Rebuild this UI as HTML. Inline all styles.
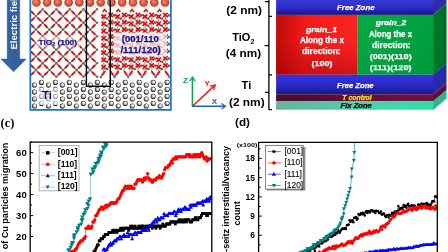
<!DOCTYPE html><html><head><meta charset="utf-8"><title>figure</title><style>html,body{margin:0;padding:0;background:#fff}svg{display:block}text{font-family:"Liberation Sans",sans-serif}</style></head><body>
<svg width="448" height="252" viewBox="0 0 448 252">
<defs>
<radialGradient id="cu" cx="50%" cy="50%" r="50%" fx="40%" fy="36%"><stop offset="0" stop-color="#f8ae98"/><stop offset="0.3" stop-color="#ea6e52"/><stop offset="0.75" stop-color="#d4503a"/><stop offset="1" stop-color="#a83222"/></radialGradient>
<radialGradient id="ti" cx="50%" cy="50%" r="50%" fx="66%" fy="34%"><stop offset="0" stop-color="#ffffff"/><stop offset="0.25" stop-color="#f4f4f4"/><stop offset="0.55" stop-color="#b8b8b8"/><stop offset="0.8" stop-color="#5c5c5c"/><stop offset="0.94" stop-color="#1e1e1e"/><stop offset="1" stop-color="#161616"/></radialGradient>
<linearGradient id="arr" x1="0" x2="1" y1="0" y2="0"><stop offset="0" stop-color="#3965a8"/><stop offset="1" stop-color="#315c9c"/></linearGradient>
<linearGradient id="blueF" x1="0" x2="0" y1="0" y2="1"><stop offset="0" stop-color="#3a3ad8"/><stop offset="0.6" stop-color="#2a2ac0"/><stop offset="1" stop-color="#14147a"/></linearGradient>
<linearGradient id="blueF2" x1="0" x2="0" y1="0" y2="1"><stop offset="0" stop-color="#3434e0"/><stop offset="0.55" stop-color="#2a2ac4"/><stop offset="1" stop-color="#181888"/></linearGradient>
<linearGradient id="redF" x1="0" x2="1" y1="0" y2="0"><stop offset="0" stop-color="#f01616"/><stop offset="1" stop-color="#fb2222"/></linearGradient><linearGradient id="redL" x1="0" x2="1" y1="0" y2="0"><stop offset="0" stop-color="#8a0000" stop-opacity="0.5"/><stop offset="0.35" stop-color="#8a0000" stop-opacity="0"/></linearGradient><linearGradient id="redB" x1="0" x2="0" y1="0" y2="1"><stop offset="0.45" stop-color="#8a0000" stop-opacity="0"/><stop offset="1" stop-color="#8a0000" stop-opacity="0.4"/></linearGradient>
<linearGradient id="grnF" x1="0" x2="1" y1="0" y2="1"><stop offset="0" stop-color="#06a845"/><stop offset="1" stop-color="#009a3a"/></linearGradient>
<linearGradient id="marF" x1="0" x2="1" y1="0" y2="0"><stop offset="0" stop-color="#4a0a2c"/><stop offset="1" stop-color="#6e1444"/></linearGradient>
<linearGradient id="tealF" x1="0" x2="1" y1="0" y2="0"><stop offset="0" stop-color="#66b29c"/><stop offset="0.5" stop-color="#4fd0a8"/><stop offset="1" stop-color="#2ee0a4"/></linearGradient>
<linearGradient id="grnS" x1="0" x2="1" y1="0" y2="0"><stop offset="0" stop-color="#007c2c"/><stop offset="1" stop-color="#006a22"/></linearGradient>
<clipPath id="pa"><rect x="30.5" y="0" width="140" height="110"/></clipPath>
<clipPath id="pc"><rect x="30.5" y="142" width="181.5" height="110"/></clipPath>
<clipPath id="pd"><rect x="259" y="142.5" width="178" height="110"/></clipPath>
</defs>
<polygon points="7.2,-1 19.7,-1 19.7,59.1 26.2,59.1 13.5,71.7 0.9,59.1 7.2,59.1" fill="url(#arr)" stroke="#2a5592" stroke-width="0.5"/>
<text transform="translate(16.8,49.6) rotate(-90)" font-size="9.5" font-weight="bold" fill="#fff" textLength="57.2" lengthAdjust="spacingAndGlyphs">Electric field</text>
<g clip-path="url(#pa)">
<line x1="29.1" y1="9.3" x2="22.3" y2="16.1" stroke="#8a8a8a" stroke-width="1.1"/>
<line x1="26.9" y1="11.5" x2="24.6" y2="13.8" stroke="#e00c0c" stroke-width="1.9" stroke-linecap="round"/>
<line x1="29.1" y1="9.3" x2="35.9" y2="16.1" stroke="#8a8a8a" stroke-width="1.1"/>
<line x1="31.4" y1="11.5" x2="33.7" y2="13.8" stroke="#e00c0c" stroke-width="1.9" stroke-linecap="round"/>
<line x1="42.7" y1="9.3" x2="35.9" y2="16.1" stroke="#8a8a8a" stroke-width="1.1"/>
<line x1="40.5" y1="11.5" x2="38.2" y2="13.8" stroke="#e00c0c" stroke-width="1.9" stroke-linecap="round"/>
<line x1="42.7" y1="9.3" x2="49.5" y2="16.1" stroke="#8a8a8a" stroke-width="1.1"/>
<line x1="44.9" y1="11.5" x2="47.2" y2="13.8" stroke="#e00c0c" stroke-width="1.9" stroke-linecap="round"/>
<line x1="56.3" y1="9.3" x2="49.5" y2="16.1" stroke="#8a8a8a" stroke-width="1.1"/>
<line x1="54.0" y1="11.5" x2="51.7" y2="13.8" stroke="#e00c0c" stroke-width="1.9" stroke-linecap="round"/>
<line x1="56.3" y1="9.3" x2="63.1" y2="16.1" stroke="#8a8a8a" stroke-width="1.1"/>
<line x1="58.5" y1="11.5" x2="60.8" y2="13.8" stroke="#e00c0c" stroke-width="1.9" stroke-linecap="round"/>
<line x1="69.8" y1="9.3" x2="63.1" y2="16.1" stroke="#8a8a8a" stroke-width="1.1"/>
<line x1="67.6" y1="11.5" x2="65.3" y2="13.8" stroke="#e00c0c" stroke-width="1.9" stroke-linecap="round"/>
<line x1="69.8" y1="9.3" x2="76.6" y2="16.1" stroke="#8a8a8a" stroke-width="1.1"/>
<line x1="72.1" y1="11.5" x2="74.4" y2="13.8" stroke="#e00c0c" stroke-width="1.9" stroke-linecap="round"/>
<line x1="83.4" y1="9.3" x2="76.6" y2="16.1" stroke="#8a8a8a" stroke-width="1.1"/>
<line x1="81.2" y1="11.5" x2="78.9" y2="13.8" stroke="#e00c0c" stroke-width="1.9" stroke-linecap="round"/>
<line x1="83.4" y1="9.3" x2="90.2" y2="16.1" stroke="#8a8a8a" stroke-width="1.1"/>
<line x1="85.6" y1="11.5" x2="88.0" y2="13.8" stroke="#e00c0c" stroke-width="1.9" stroke-linecap="round"/>
<line x1="97.0" y1="9.3" x2="90.2" y2="16.1" stroke="#8a8a8a" stroke-width="1.1"/>
<line x1="94.7" y1="11.5" x2="92.4" y2="13.8" stroke="#e00c0c" stroke-width="1.9" stroke-linecap="round"/>
<line x1="22.3" y1="16.1" x2="15.5" y2="22.8" stroke="#8a8a8a" stroke-width="1.1"/>
<line x1="20.1" y1="18.3" x2="17.8" y2="20.6" stroke="#e00c0c" stroke-width="1.9" stroke-linecap="round"/>
<line x1="22.3" y1="16.1" x2="29.1" y2="22.8" stroke="#8a8a8a" stroke-width="1.1"/>
<line x1="24.6" y1="18.3" x2="26.9" y2="20.6" stroke="#e00c0c" stroke-width="1.9" stroke-linecap="round"/>
<line x1="35.9" y1="16.1" x2="29.1" y2="22.8" stroke="#8a8a8a" stroke-width="1.1"/>
<line x1="33.7" y1="18.3" x2="31.4" y2="20.6" stroke="#e00c0c" stroke-width="1.9" stroke-linecap="round"/>
<line x1="35.9" y1="16.1" x2="42.7" y2="22.8" stroke="#8a8a8a" stroke-width="1.1"/>
<line x1="38.1" y1="18.3" x2="40.4" y2="20.6" stroke="#e00c0c" stroke-width="1.9" stroke-linecap="round"/>
<line x1="49.5" y1="16.1" x2="42.7" y2="22.8" stroke="#8a8a8a" stroke-width="1.1"/>
<line x1="47.2" y1="18.3" x2="44.9" y2="20.6" stroke="#e00c0c" stroke-width="1.9" stroke-linecap="round"/>
<line x1="49.5" y1="16.1" x2="56.3" y2="22.8" stroke="#8a8a8a" stroke-width="1.1"/>
<line x1="51.7" y1="18.3" x2="54.0" y2="20.6" stroke="#e00c0c" stroke-width="1.9" stroke-linecap="round"/>
<line x1="63.0" y1="16.1" x2="56.3" y2="22.8" stroke="#8a8a8a" stroke-width="1.1"/>
<line x1="60.8" y1="18.3" x2="58.5" y2="20.6" stroke="#e00c0c" stroke-width="1.9" stroke-linecap="round"/>
<line x1="63.0" y1="16.1" x2="69.8" y2="22.8" stroke="#8a8a8a" stroke-width="1.1"/>
<line x1="65.3" y1="18.3" x2="67.6" y2="20.6" stroke="#e00c0c" stroke-width="1.9" stroke-linecap="round"/>
<line x1="76.6" y1="16.1" x2="69.8" y2="22.8" stroke="#8a8a8a" stroke-width="1.1"/>
<line x1="74.4" y1="18.3" x2="72.1" y2="20.6" stroke="#e00c0c" stroke-width="1.9" stroke-linecap="round"/>
<line x1="76.6" y1="16.1" x2="83.4" y2="22.8" stroke="#8a8a8a" stroke-width="1.1"/>
<line x1="78.8" y1="18.3" x2="81.2" y2="20.6" stroke="#e00c0c" stroke-width="1.9" stroke-linecap="round"/>
<line x1="90.2" y1="16.1" x2="83.4" y2="22.8" stroke="#8a8a8a" stroke-width="1.1"/>
<line x1="87.9" y1="18.3" x2="85.6" y2="20.6" stroke="#e00c0c" stroke-width="1.9" stroke-linecap="round"/>
<line x1="90.2" y1="16.1" x2="97.0" y2="22.8" stroke="#8a8a8a" stroke-width="1.1"/>
<line x1="92.4" y1="18.3" x2="94.7" y2="20.6" stroke="#e00c0c" stroke-width="1.9" stroke-linecap="round"/>
<line x1="29.1" y1="22.8" x2="22.3" y2="29.6" stroke="#8a8a8a" stroke-width="1.1"/>
<line x1="26.9" y1="25.0" x2="24.6" y2="27.3" stroke="#e00c0c" stroke-width="1.9" stroke-linecap="round"/>
<line x1="29.1" y1="22.8" x2="35.9" y2="29.6" stroke="#8a8a8a" stroke-width="1.1"/>
<line x1="31.4" y1="25.0" x2="33.7" y2="27.3" stroke="#e00c0c" stroke-width="1.9" stroke-linecap="round"/>
<line x1="42.7" y1="22.8" x2="35.9" y2="29.6" stroke="#8a8a8a" stroke-width="1.1"/>
<line x1="40.5" y1="25.0" x2="38.2" y2="27.3" stroke="#e00c0c" stroke-width="1.9" stroke-linecap="round"/>
<line x1="42.7" y1="22.8" x2="49.5" y2="29.6" stroke="#8a8a8a" stroke-width="1.1"/>
<line x1="44.9" y1="25.0" x2="47.2" y2="27.3" stroke="#e00c0c" stroke-width="1.9" stroke-linecap="round"/>
<line x1="56.3" y1="22.8" x2="49.5" y2="29.6" stroke="#8a8a8a" stroke-width="1.1"/>
<line x1="54.0" y1="25.0" x2="51.7" y2="27.3" stroke="#e00c0c" stroke-width="1.9" stroke-linecap="round"/>
<line x1="56.3" y1="22.8" x2="63.1" y2="29.6" stroke="#8a8a8a" stroke-width="1.1"/>
<line x1="58.5" y1="25.0" x2="60.8" y2="27.3" stroke="#e00c0c" stroke-width="1.9" stroke-linecap="round"/>
<line x1="69.8" y1="22.8" x2="63.1" y2="29.6" stroke="#8a8a8a" stroke-width="1.1"/>
<line x1="67.6" y1="25.0" x2="65.3" y2="27.3" stroke="#e00c0c" stroke-width="1.9" stroke-linecap="round"/>
<line x1="69.8" y1="22.8" x2="76.6" y2="29.6" stroke="#8a8a8a" stroke-width="1.1"/>
<line x1="72.1" y1="25.0" x2="74.4" y2="27.3" stroke="#e00c0c" stroke-width="1.9" stroke-linecap="round"/>
<line x1="83.4" y1="22.8" x2="76.6" y2="29.6" stroke="#8a8a8a" stroke-width="1.1"/>
<line x1="81.2" y1="25.0" x2="78.9" y2="27.3" stroke="#e00c0c" stroke-width="1.9" stroke-linecap="round"/>
<line x1="83.4" y1="22.8" x2="90.2" y2="29.6" stroke="#8a8a8a" stroke-width="1.1"/>
<line x1="85.6" y1="25.0" x2="88.0" y2="27.3" stroke="#e00c0c" stroke-width="1.9" stroke-linecap="round"/>
<line x1="97.0" y1="22.8" x2="90.2" y2="29.6" stroke="#8a8a8a" stroke-width="1.1"/>
<line x1="94.7" y1="25.0" x2="92.4" y2="27.3" stroke="#e00c0c" stroke-width="1.9" stroke-linecap="round"/>
<line x1="22.3" y1="29.6" x2="15.5" y2="36.3" stroke="#8a8a8a" stroke-width="1.1"/>
<line x1="20.1" y1="31.8" x2="17.8" y2="34.1" stroke="#e00c0c" stroke-width="1.9" stroke-linecap="round"/>
<line x1="22.3" y1="29.6" x2="29.1" y2="36.3" stroke="#8a8a8a" stroke-width="1.1"/>
<line x1="24.6" y1="31.8" x2="26.9" y2="34.1" stroke="#e00c0c" stroke-width="1.9" stroke-linecap="round"/>
<line x1="35.9" y1="29.6" x2="29.1" y2="36.3" stroke="#8a8a8a" stroke-width="1.1"/>
<line x1="33.7" y1="31.8" x2="31.4" y2="34.1" stroke="#e00c0c" stroke-width="1.9" stroke-linecap="round"/>
<line x1="35.9" y1="29.6" x2="42.7" y2="36.3" stroke="#8a8a8a" stroke-width="1.1"/>
<line x1="38.1" y1="31.8" x2="40.4" y2="34.1" stroke="#e00c0c" stroke-width="1.9" stroke-linecap="round"/>
<line x1="49.5" y1="29.6" x2="42.7" y2="36.3" stroke="#8a8a8a" stroke-width="1.1"/>
<line x1="47.2" y1="31.8" x2="44.9" y2="34.1" stroke="#e00c0c" stroke-width="1.9" stroke-linecap="round"/>
<line x1="49.5" y1="29.6" x2="56.3" y2="36.3" stroke="#8a8a8a" stroke-width="1.1"/>
<line x1="51.7" y1="31.8" x2="54.0" y2="34.1" stroke="#e00c0c" stroke-width="1.9" stroke-linecap="round"/>
<line x1="63.0" y1="29.6" x2="56.3" y2="36.3" stroke="#8a8a8a" stroke-width="1.1"/>
<line x1="60.8" y1="31.8" x2="58.5" y2="34.1" stroke="#e00c0c" stroke-width="1.9" stroke-linecap="round"/>
<line x1="63.0" y1="29.6" x2="69.8" y2="36.3" stroke="#8a8a8a" stroke-width="1.1"/>
<line x1="65.3" y1="31.8" x2="67.6" y2="34.1" stroke="#e00c0c" stroke-width="1.9" stroke-linecap="round"/>
<line x1="76.6" y1="29.6" x2="69.8" y2="36.3" stroke="#8a8a8a" stroke-width="1.1"/>
<line x1="74.4" y1="31.8" x2="72.1" y2="34.1" stroke="#e00c0c" stroke-width="1.9" stroke-linecap="round"/>
<line x1="76.6" y1="29.6" x2="83.4" y2="36.3" stroke="#8a8a8a" stroke-width="1.1"/>
<line x1="78.8" y1="31.8" x2="81.2" y2="34.1" stroke="#e00c0c" stroke-width="1.9" stroke-linecap="round"/>
<line x1="90.2" y1="29.6" x2="83.4" y2="36.3" stroke="#8a8a8a" stroke-width="1.1"/>
<line x1="87.9" y1="31.8" x2="85.6" y2="34.1" stroke="#e00c0c" stroke-width="1.9" stroke-linecap="round"/>
<line x1="90.2" y1="29.6" x2="97.0" y2="36.3" stroke="#8a8a8a" stroke-width="1.1"/>
<line x1="92.4" y1="31.8" x2="94.7" y2="34.1" stroke="#e00c0c" stroke-width="1.9" stroke-linecap="round"/>
<line x1="29.1" y1="36.3" x2="22.3" y2="43.0" stroke="#8a8a8a" stroke-width="1.1"/>
<line x1="26.9" y1="38.5" x2="24.6" y2="40.8" stroke="#e00c0c" stroke-width="1.9" stroke-linecap="round"/>
<line x1="29.1" y1="36.3" x2="35.9" y2="43.0" stroke="#8a8a8a" stroke-width="1.1"/>
<line x1="31.4" y1="38.5" x2="33.7" y2="40.8" stroke="#e00c0c" stroke-width="1.9" stroke-linecap="round"/>
<line x1="42.7" y1="36.3" x2="35.9" y2="43.0" stroke="#8a8a8a" stroke-width="1.1"/>
<line x1="40.5" y1="38.5" x2="38.2" y2="40.8" stroke="#e00c0c" stroke-width="1.9" stroke-linecap="round"/>
<line x1="42.7" y1="36.3" x2="49.5" y2="43.0" stroke="#8a8a8a" stroke-width="1.1"/>
<line x1="44.9" y1="38.5" x2="47.2" y2="40.8" stroke="#e00c0c" stroke-width="1.9" stroke-linecap="round"/>
<line x1="56.3" y1="36.3" x2="49.5" y2="43.0" stroke="#8a8a8a" stroke-width="1.1"/>
<line x1="54.0" y1="38.5" x2="51.7" y2="40.8" stroke="#e00c0c" stroke-width="1.9" stroke-linecap="round"/>
<line x1="56.3" y1="36.3" x2="63.1" y2="43.0" stroke="#8a8a8a" stroke-width="1.1"/>
<line x1="58.5" y1="38.5" x2="60.8" y2="40.8" stroke="#e00c0c" stroke-width="1.9" stroke-linecap="round"/>
<line x1="69.8" y1="36.3" x2="63.1" y2="43.0" stroke="#8a8a8a" stroke-width="1.1"/>
<line x1="67.6" y1="38.5" x2="65.3" y2="40.8" stroke="#e00c0c" stroke-width="1.9" stroke-linecap="round"/>
<line x1="69.8" y1="36.3" x2="76.6" y2="43.0" stroke="#8a8a8a" stroke-width="1.1"/>
<line x1="72.1" y1="38.5" x2="74.4" y2="40.8" stroke="#e00c0c" stroke-width="1.9" stroke-linecap="round"/>
<line x1="83.4" y1="36.3" x2="76.6" y2="43.0" stroke="#8a8a8a" stroke-width="1.1"/>
<line x1="81.2" y1="38.5" x2="78.9" y2="40.8" stroke="#e00c0c" stroke-width="1.9" stroke-linecap="round"/>
<line x1="83.4" y1="36.3" x2="90.2" y2="43.0" stroke="#8a8a8a" stroke-width="1.1"/>
<line x1="85.6" y1="38.5" x2="88.0" y2="40.8" stroke="#e00c0c" stroke-width="1.9" stroke-linecap="round"/>
<line x1="97.0" y1="36.3" x2="90.2" y2="43.0" stroke="#8a8a8a" stroke-width="1.1"/>
<line x1="94.7" y1="38.5" x2="92.4" y2="40.8" stroke="#e00c0c" stroke-width="1.9" stroke-linecap="round"/>
<line x1="22.3" y1="43.0" x2="15.5" y2="49.8" stroke="#8a8a8a" stroke-width="1.1"/>
<line x1="20.1" y1="45.3" x2="17.8" y2="47.6" stroke="#e00c0c" stroke-width="1.9" stroke-linecap="round"/>
<line x1="22.3" y1="43.0" x2="29.1" y2="49.8" stroke="#8a8a8a" stroke-width="1.1"/>
<line x1="24.6" y1="45.3" x2="26.9" y2="47.6" stroke="#e00c0c" stroke-width="1.9" stroke-linecap="round"/>
<line x1="35.9" y1="43.0" x2="29.1" y2="49.8" stroke="#8a8a8a" stroke-width="1.1"/>
<line x1="33.7" y1="45.3" x2="31.4" y2="47.6" stroke="#e00c0c" stroke-width="1.9" stroke-linecap="round"/>
<line x1="35.9" y1="43.0" x2="42.7" y2="49.8" stroke="#8a8a8a" stroke-width="1.1"/>
<line x1="38.1" y1="45.3" x2="40.4" y2="47.6" stroke="#e00c0c" stroke-width="1.9" stroke-linecap="round"/>
<line x1="49.5" y1="43.0" x2="42.7" y2="49.8" stroke="#8a8a8a" stroke-width="1.1"/>
<line x1="47.2" y1="45.3" x2="44.9" y2="47.6" stroke="#e00c0c" stroke-width="1.9" stroke-linecap="round"/>
<line x1="49.5" y1="43.0" x2="56.3" y2="49.8" stroke="#8a8a8a" stroke-width="1.1"/>
<line x1="51.7" y1="45.3" x2="54.0" y2="47.6" stroke="#e00c0c" stroke-width="1.9" stroke-linecap="round"/>
<line x1="63.0" y1="43.0" x2="56.3" y2="49.8" stroke="#8a8a8a" stroke-width="1.1"/>
<line x1="60.8" y1="45.3" x2="58.5" y2="47.6" stroke="#e00c0c" stroke-width="1.9" stroke-linecap="round"/>
<line x1="63.0" y1="43.0" x2="69.8" y2="49.8" stroke="#8a8a8a" stroke-width="1.1"/>
<line x1="65.3" y1="45.3" x2="67.6" y2="47.6" stroke="#e00c0c" stroke-width="1.9" stroke-linecap="round"/>
<line x1="76.6" y1="43.0" x2="69.8" y2="49.8" stroke="#8a8a8a" stroke-width="1.1"/>
<line x1="74.4" y1="45.3" x2="72.1" y2="47.6" stroke="#e00c0c" stroke-width="1.9" stroke-linecap="round"/>
<line x1="76.6" y1="43.0" x2="83.4" y2="49.8" stroke="#8a8a8a" stroke-width="1.1"/>
<line x1="78.8" y1="45.3" x2="81.2" y2="47.6" stroke="#e00c0c" stroke-width="1.9" stroke-linecap="round"/>
<line x1="90.2" y1="43.0" x2="83.4" y2="49.8" stroke="#8a8a8a" stroke-width="1.1"/>
<line x1="87.9" y1="45.3" x2="85.6" y2="47.6" stroke="#e00c0c" stroke-width="1.9" stroke-linecap="round"/>
<line x1="90.2" y1="43.0" x2="97.0" y2="49.8" stroke="#8a8a8a" stroke-width="1.1"/>
<line x1="92.4" y1="45.3" x2="94.7" y2="47.6" stroke="#e00c0c" stroke-width="1.9" stroke-linecap="round"/>
<line x1="29.1" y1="49.8" x2="22.3" y2="56.5" stroke="#8a8a8a" stroke-width="1.1"/>
<line x1="26.9" y1="52.0" x2="24.6" y2="54.3" stroke="#e00c0c" stroke-width="1.9" stroke-linecap="round"/>
<line x1="29.1" y1="49.8" x2="35.9" y2="56.5" stroke="#8a8a8a" stroke-width="1.1"/>
<line x1="31.4" y1="52.0" x2="33.7" y2="54.3" stroke="#e00c0c" stroke-width="1.9" stroke-linecap="round"/>
<line x1="42.7" y1="49.8" x2="35.9" y2="56.5" stroke="#8a8a8a" stroke-width="1.1"/>
<line x1="40.5" y1="52.0" x2="38.2" y2="54.3" stroke="#e00c0c" stroke-width="1.9" stroke-linecap="round"/>
<line x1="42.7" y1="49.8" x2="49.5" y2="56.5" stroke="#8a8a8a" stroke-width="1.1"/>
<line x1="44.9" y1="52.0" x2="47.2" y2="54.3" stroke="#e00c0c" stroke-width="1.9" stroke-linecap="round"/>
<line x1="56.3" y1="49.8" x2="49.5" y2="56.5" stroke="#8a8a8a" stroke-width="1.1"/>
<line x1="54.0" y1="52.0" x2="51.7" y2="54.3" stroke="#e00c0c" stroke-width="1.9" stroke-linecap="round"/>
<line x1="56.3" y1="49.8" x2="63.1" y2="56.5" stroke="#8a8a8a" stroke-width="1.1"/>
<line x1="58.5" y1="52.0" x2="60.8" y2="54.3" stroke="#e00c0c" stroke-width="1.9" stroke-linecap="round"/>
<line x1="69.8" y1="49.8" x2="63.1" y2="56.5" stroke="#8a8a8a" stroke-width="1.1"/>
<line x1="67.6" y1="52.0" x2="65.3" y2="54.3" stroke="#e00c0c" stroke-width="1.9" stroke-linecap="round"/>
<line x1="69.8" y1="49.8" x2="76.6" y2="56.5" stroke="#8a8a8a" stroke-width="1.1"/>
<line x1="72.1" y1="52.0" x2="74.4" y2="54.3" stroke="#e00c0c" stroke-width="1.9" stroke-linecap="round"/>
<line x1="83.4" y1="49.8" x2="76.6" y2="56.5" stroke="#8a8a8a" stroke-width="1.1"/>
<line x1="81.2" y1="52.0" x2="78.9" y2="54.3" stroke="#e00c0c" stroke-width="1.9" stroke-linecap="round"/>
<line x1="83.4" y1="49.8" x2="90.2" y2="56.5" stroke="#8a8a8a" stroke-width="1.1"/>
<line x1="85.6" y1="52.0" x2="88.0" y2="54.3" stroke="#e00c0c" stroke-width="1.9" stroke-linecap="round"/>
<line x1="97.0" y1="49.8" x2="90.2" y2="56.5" stroke="#8a8a8a" stroke-width="1.1"/>
<line x1="94.7" y1="52.0" x2="92.4" y2="54.3" stroke="#e00c0c" stroke-width="1.9" stroke-linecap="round"/>
<line x1="22.3" y1="56.5" x2="15.5" y2="63.3" stroke="#8a8a8a" stroke-width="1.1"/>
<line x1="20.1" y1="58.8" x2="17.8" y2="61.1" stroke="#e00c0c" stroke-width="1.9" stroke-linecap="round"/>
<line x1="22.3" y1="56.5" x2="29.1" y2="63.3" stroke="#8a8a8a" stroke-width="1.1"/>
<line x1="24.6" y1="58.8" x2="26.9" y2="61.1" stroke="#e00c0c" stroke-width="1.9" stroke-linecap="round"/>
<line x1="35.9" y1="56.5" x2="29.1" y2="63.3" stroke="#8a8a8a" stroke-width="1.1"/>
<line x1="33.7" y1="58.8" x2="31.4" y2="61.1" stroke="#e00c0c" stroke-width="1.9" stroke-linecap="round"/>
<line x1="35.9" y1="56.5" x2="42.7" y2="63.3" stroke="#8a8a8a" stroke-width="1.1"/>
<line x1="38.1" y1="58.8" x2="40.4" y2="61.1" stroke="#e00c0c" stroke-width="1.9" stroke-linecap="round"/>
<line x1="49.5" y1="56.5" x2="42.7" y2="63.3" stroke="#8a8a8a" stroke-width="1.1"/>
<line x1="47.2" y1="58.8" x2="44.9" y2="61.1" stroke="#e00c0c" stroke-width="1.9" stroke-linecap="round"/>
<line x1="49.5" y1="56.5" x2="56.3" y2="63.3" stroke="#8a8a8a" stroke-width="1.1"/>
<line x1="51.7" y1="58.8" x2="54.0" y2="61.1" stroke="#e00c0c" stroke-width="1.9" stroke-linecap="round"/>
<line x1="63.0" y1="56.5" x2="56.3" y2="63.3" stroke="#8a8a8a" stroke-width="1.1"/>
<line x1="60.8" y1="58.8" x2="58.5" y2="61.1" stroke="#e00c0c" stroke-width="1.9" stroke-linecap="round"/>
<line x1="63.0" y1="56.5" x2="69.8" y2="63.3" stroke="#8a8a8a" stroke-width="1.1"/>
<line x1="65.3" y1="58.8" x2="67.6" y2="61.1" stroke="#e00c0c" stroke-width="1.9" stroke-linecap="round"/>
<line x1="76.6" y1="56.5" x2="69.8" y2="63.3" stroke="#8a8a8a" stroke-width="1.1"/>
<line x1="74.4" y1="58.8" x2="72.1" y2="61.1" stroke="#e00c0c" stroke-width="1.9" stroke-linecap="round"/>
<line x1="76.6" y1="56.5" x2="83.4" y2="63.3" stroke="#8a8a8a" stroke-width="1.1"/>
<line x1="78.8" y1="58.8" x2="81.2" y2="61.1" stroke="#e00c0c" stroke-width="1.9" stroke-linecap="round"/>
<line x1="90.2" y1="56.5" x2="83.4" y2="63.3" stroke="#8a8a8a" stroke-width="1.1"/>
<line x1="87.9" y1="58.8" x2="85.6" y2="61.1" stroke="#e00c0c" stroke-width="1.9" stroke-linecap="round"/>
<line x1="90.2" y1="56.5" x2="97.0" y2="63.3" stroke="#8a8a8a" stroke-width="1.1"/>
<line x1="92.4" y1="58.8" x2="94.7" y2="61.1" stroke="#e00c0c" stroke-width="1.9" stroke-linecap="round"/>
<line x1="29.1" y1="63.3" x2="22.3" y2="70.0" stroke="#8a8a8a" stroke-width="1.1"/>
<line x1="26.9" y1="65.5" x2="24.6" y2="67.8" stroke="#e00c0c" stroke-width="1.9" stroke-linecap="round"/>
<line x1="29.1" y1="63.3" x2="35.9" y2="70.0" stroke="#8a8a8a" stroke-width="1.1"/>
<line x1="31.4" y1="65.5" x2="33.7" y2="67.8" stroke="#e00c0c" stroke-width="1.9" stroke-linecap="round"/>
<line x1="42.7" y1="63.3" x2="35.9" y2="70.0" stroke="#8a8a8a" stroke-width="1.1"/>
<line x1="40.5" y1="65.5" x2="38.2" y2="67.8" stroke="#e00c0c" stroke-width="1.9" stroke-linecap="round"/>
<line x1="42.7" y1="63.3" x2="49.5" y2="70.0" stroke="#8a8a8a" stroke-width="1.1"/>
<line x1="44.9" y1="65.5" x2="47.2" y2="67.8" stroke="#e00c0c" stroke-width="1.9" stroke-linecap="round"/>
<line x1="56.3" y1="63.3" x2="49.5" y2="70.0" stroke="#8a8a8a" stroke-width="1.1"/>
<line x1="54.0" y1="65.5" x2="51.7" y2="67.8" stroke="#e00c0c" stroke-width="1.9" stroke-linecap="round"/>
<line x1="56.3" y1="63.3" x2="63.1" y2="70.0" stroke="#8a8a8a" stroke-width="1.1"/>
<line x1="58.5" y1="65.5" x2="60.8" y2="67.8" stroke="#e00c0c" stroke-width="1.9" stroke-linecap="round"/>
<line x1="69.8" y1="63.3" x2="63.1" y2="70.0" stroke="#8a8a8a" stroke-width="1.1"/>
<line x1="67.6" y1="65.5" x2="65.3" y2="67.8" stroke="#e00c0c" stroke-width="1.9" stroke-linecap="round"/>
<line x1="69.8" y1="63.3" x2="76.6" y2="70.0" stroke="#8a8a8a" stroke-width="1.1"/>
<line x1="72.1" y1="65.5" x2="74.4" y2="67.8" stroke="#e00c0c" stroke-width="1.9" stroke-linecap="round"/>
<line x1="83.4" y1="63.3" x2="76.6" y2="70.0" stroke="#8a8a8a" stroke-width="1.1"/>
<line x1="81.2" y1="65.5" x2="78.9" y2="67.8" stroke="#e00c0c" stroke-width="1.9" stroke-linecap="round"/>
<line x1="83.4" y1="63.3" x2="90.2" y2="70.0" stroke="#8a8a8a" stroke-width="1.1"/>
<line x1="85.6" y1="65.5" x2="88.0" y2="67.8" stroke="#e00c0c" stroke-width="1.9" stroke-linecap="round"/>
<line x1="97.0" y1="63.3" x2="90.2" y2="70.0" stroke="#8a8a8a" stroke-width="1.1"/>
<line x1="94.7" y1="65.5" x2="92.4" y2="67.8" stroke="#e00c0c" stroke-width="1.9" stroke-linecap="round"/>
<line x1="22.3" y1="70.0" x2="15.5" y2="76.8" stroke="#8a8a8a" stroke-width="1.1"/>
<line x1="20.1" y1="72.3" x2="17.8" y2="74.6" stroke="#e00c0c" stroke-width="1.9" stroke-linecap="round"/>
<line x1="22.3" y1="70.0" x2="29.1" y2="76.8" stroke="#8a8a8a" stroke-width="1.1"/>
<line x1="24.6" y1="72.3" x2="26.9" y2="74.6" stroke="#e00c0c" stroke-width="1.9" stroke-linecap="round"/>
<line x1="35.9" y1="70.0" x2="29.1" y2="76.8" stroke="#8a8a8a" stroke-width="1.1"/>
<line x1="33.7" y1="72.3" x2="31.4" y2="74.6" stroke="#e00c0c" stroke-width="1.9" stroke-linecap="round"/>
<line x1="35.9" y1="70.0" x2="42.7" y2="76.8" stroke="#8a8a8a" stroke-width="1.1"/>
<line x1="38.1" y1="72.3" x2="40.4" y2="74.6" stroke="#e00c0c" stroke-width="1.9" stroke-linecap="round"/>
<line x1="49.5" y1="70.0" x2="42.7" y2="76.8" stroke="#8a8a8a" stroke-width="1.1"/>
<line x1="47.2" y1="72.3" x2="44.9" y2="74.6" stroke="#e00c0c" stroke-width="1.9" stroke-linecap="round"/>
<line x1="49.5" y1="70.0" x2="56.3" y2="76.8" stroke="#8a8a8a" stroke-width="1.1"/>
<line x1="51.7" y1="72.3" x2="54.0" y2="74.6" stroke="#e00c0c" stroke-width="1.9" stroke-linecap="round"/>
<line x1="63.0" y1="70.0" x2="56.3" y2="76.8" stroke="#8a8a8a" stroke-width="1.1"/>
<line x1="60.8" y1="72.3" x2="58.5" y2="74.6" stroke="#e00c0c" stroke-width="1.9" stroke-linecap="round"/>
<line x1="63.0" y1="70.0" x2="69.8" y2="76.8" stroke="#8a8a8a" stroke-width="1.1"/>
<line x1="65.3" y1="72.3" x2="67.6" y2="74.6" stroke="#e00c0c" stroke-width="1.9" stroke-linecap="round"/>
<line x1="76.6" y1="70.0" x2="69.8" y2="76.8" stroke="#8a8a8a" stroke-width="1.1"/>
<line x1="74.4" y1="72.3" x2="72.1" y2="74.6" stroke="#e00c0c" stroke-width="1.9" stroke-linecap="round"/>
<line x1="76.6" y1="70.0" x2="83.4" y2="76.8" stroke="#8a8a8a" stroke-width="1.1"/>
<line x1="78.8" y1="72.3" x2="81.2" y2="74.6" stroke="#e00c0c" stroke-width="1.9" stroke-linecap="round"/>
<line x1="90.2" y1="70.0" x2="83.4" y2="76.8" stroke="#8a8a8a" stroke-width="1.1"/>
<line x1="87.9" y1="72.3" x2="85.6" y2="74.6" stroke="#e00c0c" stroke-width="1.9" stroke-linecap="round"/>
<line x1="90.2" y1="70.0" x2="97.0" y2="76.8" stroke="#8a8a8a" stroke-width="1.1"/>
<line x1="92.4" y1="72.3" x2="94.7" y2="74.6" stroke="#e00c0c" stroke-width="1.9" stroke-linecap="round"/>
<circle cx="29.1" cy="9.3" r="1.3" fill="#6e6e6e"/>
<circle cx="42.7" cy="9.3" r="1.3" fill="#6e6e6e"/>
<circle cx="56.3" cy="9.3" r="1.3" fill="#6e6e6e"/>
<circle cx="69.8" cy="9.3" r="1.3" fill="#6e6e6e"/>
<circle cx="83.4" cy="9.3" r="1.3" fill="#6e6e6e"/>
<circle cx="97.0" cy="9.3" r="1.3" fill="#6e6e6e"/>
<circle cx="22.3" cy="16.1" r="1.3" fill="#6e6e6e"/>
<circle cx="35.9" cy="16.1" r="1.3" fill="#6e6e6e"/>
<circle cx="49.5" cy="16.1" r="1.3" fill="#6e6e6e"/>
<circle cx="63.0" cy="16.1" r="1.3" fill="#6e6e6e"/>
<circle cx="76.6" cy="16.1" r="1.3" fill="#6e6e6e"/>
<circle cx="90.2" cy="16.1" r="1.3" fill="#6e6e6e"/>
<circle cx="29.1" cy="22.8" r="1.3" fill="#6e6e6e"/>
<circle cx="42.7" cy="22.8" r="1.3" fill="#6e6e6e"/>
<circle cx="56.3" cy="22.8" r="1.3" fill="#6e6e6e"/>
<circle cx="69.8" cy="22.8" r="1.3" fill="#6e6e6e"/>
<circle cx="83.4" cy="22.8" r="1.3" fill="#6e6e6e"/>
<circle cx="97.0" cy="22.8" r="1.3" fill="#6e6e6e"/>
<circle cx="22.3" cy="29.6" r="1.3" fill="#6e6e6e"/>
<circle cx="35.9" cy="29.6" r="1.3" fill="#6e6e6e"/>
<circle cx="49.5" cy="29.6" r="1.3" fill="#6e6e6e"/>
<circle cx="63.0" cy="29.6" r="1.3" fill="#6e6e6e"/>
<circle cx="76.6" cy="29.6" r="1.3" fill="#6e6e6e"/>
<circle cx="90.2" cy="29.6" r="1.3" fill="#6e6e6e"/>
<circle cx="29.1" cy="36.3" r="1.3" fill="#6e6e6e"/>
<circle cx="42.7" cy="36.3" r="1.3" fill="#6e6e6e"/>
<circle cx="56.3" cy="36.3" r="1.3" fill="#6e6e6e"/>
<circle cx="69.8" cy="36.3" r="1.3" fill="#6e6e6e"/>
<circle cx="83.4" cy="36.3" r="1.3" fill="#6e6e6e"/>
<circle cx="97.0" cy="36.3" r="1.3" fill="#6e6e6e"/>
<circle cx="22.3" cy="43.0" r="1.3" fill="#6e6e6e"/>
<circle cx="35.9" cy="43.0" r="1.3" fill="#6e6e6e"/>
<circle cx="49.5" cy="43.0" r="1.3" fill="#6e6e6e"/>
<circle cx="63.0" cy="43.0" r="1.3" fill="#6e6e6e"/>
<circle cx="76.6" cy="43.0" r="1.3" fill="#6e6e6e"/>
<circle cx="90.2" cy="43.0" r="1.3" fill="#6e6e6e"/>
<circle cx="29.1" cy="49.8" r="1.3" fill="#6e6e6e"/>
<circle cx="42.7" cy="49.8" r="1.3" fill="#6e6e6e"/>
<circle cx="56.3" cy="49.8" r="1.3" fill="#6e6e6e"/>
<circle cx="69.8" cy="49.8" r="1.3" fill="#6e6e6e"/>
<circle cx="83.4" cy="49.8" r="1.3" fill="#6e6e6e"/>
<circle cx="97.0" cy="49.8" r="1.3" fill="#6e6e6e"/>
<circle cx="22.3" cy="56.5" r="1.3" fill="#6e6e6e"/>
<circle cx="35.9" cy="56.5" r="1.3" fill="#6e6e6e"/>
<circle cx="49.5" cy="56.5" r="1.3" fill="#6e6e6e"/>
<circle cx="63.0" cy="56.5" r="1.3" fill="#6e6e6e"/>
<circle cx="76.6" cy="56.5" r="1.3" fill="#6e6e6e"/>
<circle cx="90.2" cy="56.5" r="1.3" fill="#6e6e6e"/>
<circle cx="29.1" cy="63.3" r="1.3" fill="#6e6e6e"/>
<circle cx="42.7" cy="63.3" r="1.3" fill="#6e6e6e"/>
<circle cx="56.3" cy="63.3" r="1.3" fill="#6e6e6e"/>
<circle cx="69.8" cy="63.3" r="1.3" fill="#6e6e6e"/>
<circle cx="83.4" cy="63.3" r="1.3" fill="#6e6e6e"/>
<circle cx="97.0" cy="63.3" r="1.3" fill="#6e6e6e"/>
<circle cx="22.3" cy="70.0" r="1.3" fill="#6e6e6e"/>
<circle cx="35.9" cy="70.0" r="1.3" fill="#6e6e6e"/>
<circle cx="49.5" cy="70.0" r="1.3" fill="#6e6e6e"/>
<circle cx="63.0" cy="70.0" r="1.3" fill="#6e6e6e"/>
<circle cx="76.6" cy="70.0" r="1.3" fill="#6e6e6e"/>
<circle cx="90.2" cy="70.0" r="1.3" fill="#6e6e6e"/>
<circle cx="29.1" cy="76.8" r="1.3" fill="#6e6e6e"/>
<circle cx="42.7" cy="76.8" r="1.3" fill="#6e6e6e"/>
<circle cx="56.3" cy="76.8" r="1.3" fill="#6e6e6e"/>
<circle cx="69.8" cy="76.8" r="1.3" fill="#6e6e6e"/>
<circle cx="83.4" cy="76.8" r="1.3" fill="#6e6e6e"/>
<circle cx="97.0" cy="76.8" r="1.3" fill="#6e6e6e"/>
<circle cx="107.1" cy="18.6" r="1.35" fill="#5e6868"/>
<line x1="103.7" y1="18.6" x2="103.7" y2="21.8" stroke="#98a4a4" stroke-width="1.2"/>
<path d="M101.4,14.5L106.0,18.7M101.4,18.7L106.0,14.5" stroke="#e20e0e" stroke-width="1.8" fill="none"/>
<circle cx="114.0" cy="15.4" r="1.35" fill="#5e6868"/>
<line x1="110.6" y1="17.0" x2="110.6" y2="20.2" stroke="#98a4a4" stroke-width="1.2"/>
<path d="M108.3,12.9L112.9,17.1M108.3,17.1L112.9,12.9" stroke="#e20e0e" stroke-width="1.8" fill="none"/>
<circle cx="120.9" cy="18.6" r="1.35" fill="#5e6868"/>
<line x1="117.4" y1="18.6" x2="117.4" y2="21.8" stroke="#98a4a4" stroke-width="1.2"/>
<path d="M115.1,14.5L119.7,18.7M115.1,18.7L119.7,14.5" stroke="#e20e0e" stroke-width="1.8" fill="none"/>
<circle cx="127.7" cy="15.4" r="1.35" fill="#5e6868"/>
<line x1="124.3" y1="17.0" x2="124.3" y2="20.2" stroke="#98a4a4" stroke-width="1.2"/>
<path d="M122.0,12.9L126.6,17.1M122.0,17.1L126.6,12.9" stroke="#e20e0e" stroke-width="1.8" fill="none"/>
<circle cx="134.6" cy="18.6" r="1.35" fill="#5e6868"/>
<line x1="131.1" y1="18.6" x2="131.1" y2="21.8" stroke="#98a4a4" stroke-width="1.2"/>
<path d="M128.8,14.5L133.4,18.7M128.8,18.7L133.4,14.5" stroke="#e20e0e" stroke-width="1.8" fill="none"/>
<circle cx="141.4" cy="15.4" r="1.35" fill="#5e6868"/>
<line x1="138.0" y1="17.0" x2="138.0" y2="20.2" stroke="#98a4a4" stroke-width="1.2"/>
<path d="M135.7,12.9L140.3,17.1M135.7,17.1L140.3,12.9" stroke="#e20e0e" stroke-width="1.8" fill="none"/>
<circle cx="148.3" cy="18.6" r="1.35" fill="#5e6868"/>
<line x1="144.9" y1="18.6" x2="144.9" y2="21.8" stroke="#98a4a4" stroke-width="1.2"/>
<path d="M142.6,14.5L147.2,18.7M142.6,18.7L147.2,14.5" stroke="#e20e0e" stroke-width="1.8" fill="none"/>
<circle cx="155.2" cy="15.4" r="1.35" fill="#5e6868"/>
<line x1="151.7" y1="17.0" x2="151.7" y2="20.2" stroke="#98a4a4" stroke-width="1.2"/>
<path d="M149.4,12.9L154.0,17.1M149.4,17.1L154.0,12.9" stroke="#e20e0e" stroke-width="1.8" fill="none"/>
<circle cx="162.0" cy="18.6" r="1.35" fill="#5e6868"/>
<line x1="158.6" y1="18.6" x2="158.6" y2="21.8" stroke="#98a4a4" stroke-width="1.2"/>
<path d="M156.3,14.5L160.9,18.7M156.3,18.7L160.9,14.5" stroke="#e20e0e" stroke-width="1.8" fill="none"/>
<circle cx="168.9" cy="15.4" r="1.35" fill="#5e6868"/>
<line x1="165.4" y1="17.0" x2="165.4" y2="20.2" stroke="#98a4a4" stroke-width="1.2"/>
<path d="M163.1,12.9L167.7,17.1M163.1,17.1L167.7,12.9" stroke="#e20e0e" stroke-width="1.8" fill="none"/>
<circle cx="107.1" cy="25.8" r="1.35" fill="#5e6868"/>
<line x1="103.7" y1="25.8" x2="103.7" y2="29.0" stroke="#98a4a4" stroke-width="1.2"/>
<path d="M101.4,21.7L106.0,25.9M101.4,25.9L106.0,21.7" stroke="#e20e0e" stroke-width="1.8" fill="none"/>
<circle cx="114.0" cy="22.6" r="1.35" fill="#5e6868"/>
<line x1="110.6" y1="24.2" x2="110.6" y2="27.4" stroke="#98a4a4" stroke-width="1.2"/>
<path d="M108.3,20.1L112.9,24.3M108.3,24.3L112.9,20.1" stroke="#e20e0e" stroke-width="1.8" fill="none"/>
<circle cx="120.9" cy="25.8" r="1.35" fill="#5e6868"/>
<line x1="117.4" y1="25.8" x2="117.4" y2="29.0" stroke="#98a4a4" stroke-width="1.2"/>
<path d="M115.1,21.7L119.7,25.9M115.1,25.9L119.7,21.7" stroke="#e20e0e" stroke-width="1.8" fill="none"/>
<circle cx="127.7" cy="22.6" r="1.35" fill="#5e6868"/>
<line x1="124.3" y1="24.2" x2="124.3" y2="27.4" stroke="#98a4a4" stroke-width="1.2"/>
<path d="M122.0,20.1L126.6,24.3M122.0,24.3L126.6,20.1" stroke="#e20e0e" stroke-width="1.8" fill="none"/>
<circle cx="134.6" cy="25.8" r="1.35" fill="#5e6868"/>
<line x1="131.1" y1="25.8" x2="131.1" y2="29.0" stroke="#98a4a4" stroke-width="1.2"/>
<path d="M128.8,21.7L133.4,25.9M128.8,25.9L133.4,21.7" stroke="#e20e0e" stroke-width="1.8" fill="none"/>
<circle cx="141.4" cy="22.6" r="1.35" fill="#5e6868"/>
<line x1="138.0" y1="24.2" x2="138.0" y2="27.4" stroke="#98a4a4" stroke-width="1.2"/>
<path d="M135.7,20.1L140.3,24.3M135.7,24.3L140.3,20.1" stroke="#e20e0e" stroke-width="1.8" fill="none"/>
<circle cx="148.3" cy="25.8" r="1.35" fill="#5e6868"/>
<line x1="144.9" y1="25.8" x2="144.9" y2="29.0" stroke="#98a4a4" stroke-width="1.2"/>
<path d="M142.6,21.7L147.2,25.9M142.6,25.9L147.2,21.7" stroke="#e20e0e" stroke-width="1.8" fill="none"/>
<circle cx="155.2" cy="22.6" r="1.35" fill="#5e6868"/>
<line x1="151.7" y1="24.2" x2="151.7" y2="27.4" stroke="#98a4a4" stroke-width="1.2"/>
<path d="M149.4,20.1L154.0,24.3M149.4,24.3L154.0,20.1" stroke="#e20e0e" stroke-width="1.8" fill="none"/>
<circle cx="162.0" cy="25.8" r="1.35" fill="#5e6868"/>
<line x1="158.6" y1="25.8" x2="158.6" y2="29.0" stroke="#98a4a4" stroke-width="1.2"/>
<path d="M156.3,21.7L160.9,25.9M156.3,25.9L160.9,21.7" stroke="#e20e0e" stroke-width="1.8" fill="none"/>
<circle cx="168.9" cy="22.6" r="1.35" fill="#5e6868"/>
<line x1="165.4" y1="24.2" x2="165.4" y2="27.4" stroke="#98a4a4" stroke-width="1.2"/>
<path d="M163.1,20.1L167.7,24.3M163.1,24.3L167.7,20.1" stroke="#e20e0e" stroke-width="1.8" fill="none"/>
<circle cx="107.1" cy="33.0" r="1.35" fill="#5e6868"/>
<line x1="103.7" y1="33.0" x2="103.7" y2="36.2" stroke="#98a4a4" stroke-width="1.2"/>
<path d="M101.4,28.9L106.0,33.1M101.4,33.1L106.0,28.9" stroke="#e20e0e" stroke-width="1.8" fill="none"/>
<circle cx="114.0" cy="29.8" r="1.35" fill="#5e6868"/>
<line x1="110.6" y1="31.4" x2="110.6" y2="34.6" stroke="#98a4a4" stroke-width="1.2"/>
<path d="M108.3,27.3L112.9,31.5M108.3,31.5L112.9,27.3" stroke="#e20e0e" stroke-width="1.8" fill="none"/>
<circle cx="120.9" cy="33.0" r="1.35" fill="#5e6868"/>
<line x1="117.4" y1="33.0" x2="117.4" y2="36.2" stroke="#98a4a4" stroke-width="1.2"/>
<path d="M115.1,28.9L119.7,33.1M115.1,33.1L119.7,28.9" stroke="#e20e0e" stroke-width="1.8" fill="none"/>
<circle cx="127.7" cy="29.8" r="1.35" fill="#5e6868"/>
<line x1="124.3" y1="31.4" x2="124.3" y2="34.6" stroke="#98a4a4" stroke-width="1.2"/>
<path d="M122.0,27.3L126.6,31.5M122.0,31.5L126.6,27.3" stroke="#e20e0e" stroke-width="1.8" fill="none"/>
<circle cx="134.6" cy="33.0" r="1.35" fill="#5e6868"/>
<line x1="131.1" y1="33.0" x2="131.1" y2="36.2" stroke="#98a4a4" stroke-width="1.2"/>
<path d="M128.8,28.9L133.4,33.1M128.8,33.1L133.4,28.9" stroke="#e20e0e" stroke-width="1.8" fill="none"/>
<circle cx="141.4" cy="29.8" r="1.35" fill="#5e6868"/>
<line x1="138.0" y1="31.4" x2="138.0" y2="34.6" stroke="#98a4a4" stroke-width="1.2"/>
<path d="M135.7,27.3L140.3,31.5M135.7,31.5L140.3,27.3" stroke="#e20e0e" stroke-width="1.8" fill="none"/>
<circle cx="148.3" cy="33.0" r="1.35" fill="#5e6868"/>
<line x1="144.9" y1="33.0" x2="144.9" y2="36.2" stroke="#98a4a4" stroke-width="1.2"/>
<path d="M142.6,28.9L147.2,33.1M142.6,33.1L147.2,28.9" stroke="#e20e0e" stroke-width="1.8" fill="none"/>
<circle cx="155.2" cy="29.8" r="1.35" fill="#5e6868"/>
<line x1="151.7" y1="31.4" x2="151.7" y2="34.6" stroke="#98a4a4" stroke-width="1.2"/>
<path d="M149.4,27.3L154.0,31.5M149.4,31.5L154.0,27.3" stroke="#e20e0e" stroke-width="1.8" fill="none"/>
<circle cx="162.0" cy="33.0" r="1.35" fill="#5e6868"/>
<line x1="158.6" y1="33.0" x2="158.6" y2="36.2" stroke="#98a4a4" stroke-width="1.2"/>
<path d="M156.3,28.9L160.9,33.1M156.3,33.1L160.9,28.9" stroke="#e20e0e" stroke-width="1.8" fill="none"/>
<circle cx="168.9" cy="29.8" r="1.35" fill="#5e6868"/>
<line x1="165.4" y1="31.4" x2="165.4" y2="34.6" stroke="#98a4a4" stroke-width="1.2"/>
<path d="M163.1,27.3L167.7,31.5M163.1,31.5L167.7,27.3" stroke="#e20e0e" stroke-width="1.8" fill="none"/>
<circle cx="107.1" cy="40.2" r="1.35" fill="#5e6868"/>
<line x1="103.7" y1="40.2" x2="103.7" y2="43.4" stroke="#98a4a4" stroke-width="1.2"/>
<path d="M101.4,36.1L106.0,40.3M101.4,40.3L106.0,36.1" stroke="#e20e0e" stroke-width="1.8" fill="none"/>
<circle cx="114.0" cy="37.0" r="1.35" fill="#5e6868"/>
<line x1="110.6" y1="38.6" x2="110.6" y2="41.8" stroke="#98a4a4" stroke-width="1.2"/>
<path d="M108.3,34.5L112.9,38.7M108.3,38.7L112.9,34.5" stroke="#e20e0e" stroke-width="1.8" fill="none"/>
<circle cx="120.9" cy="40.2" r="1.35" fill="#5e6868"/>
<line x1="117.4" y1="40.2" x2="117.4" y2="43.4" stroke="#98a4a4" stroke-width="1.2"/>
<path d="M115.1,36.1L119.7,40.3M115.1,40.3L119.7,36.1" stroke="#e20e0e" stroke-width="1.8" fill="none"/>
<circle cx="127.7" cy="37.0" r="1.35" fill="#5e6868"/>
<line x1="124.3" y1="38.6" x2="124.3" y2="41.8" stroke="#98a4a4" stroke-width="1.2"/>
<path d="M122.0,34.5L126.6,38.7M122.0,38.7L126.6,34.5" stroke="#e20e0e" stroke-width="1.8" fill="none"/>
<circle cx="134.6" cy="40.2" r="1.35" fill="#5e6868"/>
<line x1="131.1" y1="40.2" x2="131.1" y2="43.4" stroke="#98a4a4" stroke-width="1.2"/>
<path d="M128.8,36.1L133.4,40.3M128.8,40.3L133.4,36.1" stroke="#e20e0e" stroke-width="1.8" fill="none"/>
<circle cx="141.4" cy="37.0" r="1.35" fill="#5e6868"/>
<line x1="138.0" y1="38.6" x2="138.0" y2="41.8" stroke="#98a4a4" stroke-width="1.2"/>
<path d="M135.7,34.5L140.3,38.7M135.7,38.7L140.3,34.5" stroke="#e20e0e" stroke-width="1.8" fill="none"/>
<circle cx="148.3" cy="40.2" r="1.35" fill="#5e6868"/>
<line x1="144.9" y1="40.2" x2="144.9" y2="43.4" stroke="#98a4a4" stroke-width="1.2"/>
<path d="M142.6,36.1L147.2,40.3M142.6,40.3L147.2,36.1" stroke="#e20e0e" stroke-width="1.8" fill="none"/>
<circle cx="155.2" cy="37.0" r="1.35" fill="#5e6868"/>
<line x1="151.7" y1="38.6" x2="151.7" y2="41.8" stroke="#98a4a4" stroke-width="1.2"/>
<path d="M149.4,34.5L154.0,38.7M149.4,38.7L154.0,34.5" stroke="#e20e0e" stroke-width="1.8" fill="none"/>
<circle cx="162.0" cy="40.2" r="1.35" fill="#5e6868"/>
<line x1="158.6" y1="40.2" x2="158.6" y2="43.4" stroke="#98a4a4" stroke-width="1.2"/>
<path d="M156.3,36.1L160.9,40.3M156.3,40.3L160.9,36.1" stroke="#e20e0e" stroke-width="1.8" fill="none"/>
<circle cx="168.9" cy="37.0" r="1.35" fill="#5e6868"/>
<line x1="165.4" y1="38.6" x2="165.4" y2="41.8" stroke="#98a4a4" stroke-width="1.2"/>
<path d="M163.1,34.5L167.7,38.7M163.1,38.7L167.7,34.5" stroke="#e20e0e" stroke-width="1.8" fill="none"/>
<circle cx="107.1" cy="47.4" r="1.35" fill="#5e6868"/>
<line x1="103.7" y1="47.4" x2="103.7" y2="50.6" stroke="#98a4a4" stroke-width="1.2"/>
<path d="M101.4,43.3L106.0,47.5M101.4,47.5L106.0,43.3" stroke="#e20e0e" stroke-width="1.8" fill="none"/>
<circle cx="114.0" cy="44.2" r="1.35" fill="#5e6868"/>
<line x1="110.6" y1="45.8" x2="110.6" y2="49.0" stroke="#98a4a4" stroke-width="1.2"/>
<path d="M108.3,41.7L112.9,45.9M108.3,45.9L112.9,41.7" stroke="#e20e0e" stroke-width="1.8" fill="none"/>
<circle cx="120.9" cy="47.4" r="1.35" fill="#5e6868"/>
<line x1="117.4" y1="47.4" x2="117.4" y2="50.6" stroke="#98a4a4" stroke-width="1.2"/>
<path d="M115.1,43.3L119.7,47.5M115.1,47.5L119.7,43.3" stroke="#e20e0e" stroke-width="1.8" fill="none"/>
<circle cx="127.7" cy="44.2" r="1.35" fill="#5e6868"/>
<line x1="124.3" y1="45.8" x2="124.3" y2="49.0" stroke="#98a4a4" stroke-width="1.2"/>
<path d="M122.0,41.7L126.6,45.9M122.0,45.9L126.6,41.7" stroke="#e20e0e" stroke-width="1.8" fill="none"/>
<circle cx="134.6" cy="47.4" r="1.35" fill="#5e6868"/>
<line x1="131.1" y1="47.4" x2="131.1" y2="50.6" stroke="#98a4a4" stroke-width="1.2"/>
<path d="M128.8,43.3L133.4,47.5M128.8,47.5L133.4,43.3" stroke="#e20e0e" stroke-width="1.8" fill="none"/>
<circle cx="141.4" cy="44.2" r="1.35" fill="#5e6868"/>
<line x1="138.0" y1="45.8" x2="138.0" y2="49.0" stroke="#98a4a4" stroke-width="1.2"/>
<path d="M135.7,41.7L140.3,45.9M135.7,45.9L140.3,41.7" stroke="#e20e0e" stroke-width="1.8" fill="none"/>
<circle cx="148.3" cy="47.4" r="1.35" fill="#5e6868"/>
<line x1="144.9" y1="47.4" x2="144.9" y2="50.6" stroke="#98a4a4" stroke-width="1.2"/>
<path d="M142.6,43.3L147.2,47.5M142.6,47.5L147.2,43.3" stroke="#e20e0e" stroke-width="1.8" fill="none"/>
<circle cx="155.2" cy="44.2" r="1.35" fill="#5e6868"/>
<line x1="151.7" y1="45.8" x2="151.7" y2="49.0" stroke="#98a4a4" stroke-width="1.2"/>
<path d="M149.4,41.7L154.0,45.9M149.4,45.9L154.0,41.7" stroke="#e20e0e" stroke-width="1.8" fill="none"/>
<circle cx="162.0" cy="47.4" r="1.35" fill="#5e6868"/>
<line x1="158.6" y1="47.4" x2="158.6" y2="50.6" stroke="#98a4a4" stroke-width="1.2"/>
<path d="M156.3,43.3L160.9,47.5M156.3,47.5L160.9,43.3" stroke="#e20e0e" stroke-width="1.8" fill="none"/>
<circle cx="168.9" cy="44.2" r="1.35" fill="#5e6868"/>
<line x1="165.4" y1="45.8" x2="165.4" y2="49.0" stroke="#98a4a4" stroke-width="1.2"/>
<path d="M163.1,41.7L167.7,45.9M163.1,45.9L167.7,41.7" stroke="#e20e0e" stroke-width="1.8" fill="none"/>
<circle cx="107.1" cy="54.6" r="1.35" fill="#5e6868"/>
<line x1="103.7" y1="54.6" x2="103.7" y2="57.8" stroke="#98a4a4" stroke-width="1.2"/>
<path d="M101.4,50.5L106.0,54.7M101.4,54.7L106.0,50.5" stroke="#e20e0e" stroke-width="1.8" fill="none"/>
<circle cx="114.0" cy="51.4" r="1.35" fill="#5e6868"/>
<line x1="110.6" y1="53.0" x2="110.6" y2="56.2" stroke="#98a4a4" stroke-width="1.2"/>
<path d="M108.3,48.9L112.9,53.1M108.3,53.1L112.9,48.9" stroke="#e20e0e" stroke-width="1.8" fill="none"/>
<circle cx="120.9" cy="54.6" r="1.35" fill="#5e6868"/>
<line x1="117.4" y1="54.6" x2="117.4" y2="57.8" stroke="#98a4a4" stroke-width="1.2"/>
<path d="M115.1,50.5L119.7,54.7M115.1,54.7L119.7,50.5" stroke="#e20e0e" stroke-width="1.8" fill="none"/>
<circle cx="127.7" cy="51.4" r="1.35" fill="#5e6868"/>
<line x1="124.3" y1="53.0" x2="124.3" y2="56.2" stroke="#98a4a4" stroke-width="1.2"/>
<path d="M122.0,48.9L126.6,53.1M122.0,53.1L126.6,48.9" stroke="#e20e0e" stroke-width="1.8" fill="none"/>
<circle cx="134.6" cy="54.6" r="1.35" fill="#5e6868"/>
<line x1="131.1" y1="54.6" x2="131.1" y2="57.8" stroke="#98a4a4" stroke-width="1.2"/>
<path d="M128.8,50.5L133.4,54.7M128.8,54.7L133.4,50.5" stroke="#e20e0e" stroke-width="1.8" fill="none"/>
<circle cx="141.4" cy="51.4" r="1.35" fill="#5e6868"/>
<line x1="138.0" y1="53.0" x2="138.0" y2="56.2" stroke="#98a4a4" stroke-width="1.2"/>
<path d="M135.7,48.9L140.3,53.1M135.7,53.1L140.3,48.9" stroke="#e20e0e" stroke-width="1.8" fill="none"/>
<circle cx="148.3" cy="54.6" r="1.35" fill="#5e6868"/>
<line x1="144.9" y1="54.6" x2="144.9" y2="57.8" stroke="#98a4a4" stroke-width="1.2"/>
<path d="M142.6,50.5L147.2,54.7M142.6,54.7L147.2,50.5" stroke="#e20e0e" stroke-width="1.8" fill="none"/>
<circle cx="155.2" cy="51.4" r="1.35" fill="#5e6868"/>
<line x1="151.7" y1="53.0" x2="151.7" y2="56.2" stroke="#98a4a4" stroke-width="1.2"/>
<path d="M149.4,48.9L154.0,53.1M149.4,53.1L154.0,48.9" stroke="#e20e0e" stroke-width="1.8" fill="none"/>
<circle cx="162.0" cy="54.6" r="1.35" fill="#5e6868"/>
<line x1="158.6" y1="54.6" x2="158.6" y2="57.8" stroke="#98a4a4" stroke-width="1.2"/>
<path d="M156.3,50.5L160.9,54.7M156.3,54.7L160.9,50.5" stroke="#e20e0e" stroke-width="1.8" fill="none"/>
<circle cx="168.9" cy="51.4" r="1.35" fill="#5e6868"/>
<line x1="165.4" y1="53.0" x2="165.4" y2="56.2" stroke="#98a4a4" stroke-width="1.2"/>
<path d="M163.1,48.9L167.7,53.1M163.1,53.1L167.7,48.9" stroke="#e20e0e" stroke-width="1.8" fill="none"/>
<circle cx="107.1" cy="61.8" r="1.35" fill="#5e6868"/>
<line x1="103.7" y1="61.8" x2="103.7" y2="65.0" stroke="#98a4a4" stroke-width="1.2"/>
<path d="M101.4,57.7L106.0,61.9M101.4,61.9L106.0,57.7" stroke="#e20e0e" stroke-width="1.8" fill="none"/>
<circle cx="114.0" cy="58.6" r="1.35" fill="#5e6868"/>
<line x1="110.6" y1="60.2" x2="110.6" y2="63.4" stroke="#98a4a4" stroke-width="1.2"/>
<path d="M108.3,56.1L112.9,60.3M108.3,60.3L112.9,56.1" stroke="#e20e0e" stroke-width="1.8" fill="none"/>
<circle cx="120.9" cy="61.8" r="1.35" fill="#5e6868"/>
<line x1="117.4" y1="61.8" x2="117.4" y2="65.0" stroke="#98a4a4" stroke-width="1.2"/>
<path d="M115.1,57.7L119.7,61.9M115.1,61.9L119.7,57.7" stroke="#e20e0e" stroke-width="1.8" fill="none"/>
<circle cx="127.7" cy="58.6" r="1.35" fill="#5e6868"/>
<line x1="124.3" y1="60.2" x2="124.3" y2="63.4" stroke="#98a4a4" stroke-width="1.2"/>
<path d="M122.0,56.1L126.6,60.3M122.0,60.3L126.6,56.1" stroke="#e20e0e" stroke-width="1.8" fill="none"/>
<circle cx="134.6" cy="61.8" r="1.35" fill="#5e6868"/>
<line x1="131.1" y1="61.8" x2="131.1" y2="65.0" stroke="#98a4a4" stroke-width="1.2"/>
<path d="M128.8,57.7L133.4,61.9M128.8,61.9L133.4,57.7" stroke="#e20e0e" stroke-width="1.8" fill="none"/>
<circle cx="141.4" cy="58.6" r="1.35" fill="#5e6868"/>
<line x1="138.0" y1="60.2" x2="138.0" y2="63.4" stroke="#98a4a4" stroke-width="1.2"/>
<path d="M135.7,56.1L140.3,60.3M135.7,60.3L140.3,56.1" stroke="#e20e0e" stroke-width="1.8" fill="none"/>
<circle cx="148.3" cy="61.8" r="1.35" fill="#5e6868"/>
<line x1="144.9" y1="61.8" x2="144.9" y2="65.0" stroke="#98a4a4" stroke-width="1.2"/>
<path d="M142.6,57.7L147.2,61.9M142.6,61.9L147.2,57.7" stroke="#e20e0e" stroke-width="1.8" fill="none"/>
<circle cx="155.2" cy="58.6" r="1.35" fill="#5e6868"/>
<line x1="151.7" y1="60.2" x2="151.7" y2="63.4" stroke="#98a4a4" stroke-width="1.2"/>
<path d="M149.4,56.1L154.0,60.3M149.4,60.3L154.0,56.1" stroke="#e20e0e" stroke-width="1.8" fill="none"/>
<circle cx="162.0" cy="61.8" r="1.35" fill="#5e6868"/>
<line x1="158.6" y1="61.8" x2="158.6" y2="65.0" stroke="#98a4a4" stroke-width="1.2"/>
<path d="M156.3,57.7L160.9,61.9M156.3,61.9L160.9,57.7" stroke="#e20e0e" stroke-width="1.8" fill="none"/>
<circle cx="168.9" cy="58.6" r="1.35" fill="#5e6868"/>
<line x1="165.4" y1="60.2" x2="165.4" y2="63.4" stroke="#98a4a4" stroke-width="1.2"/>
<path d="M163.1,56.1L167.7,60.3M163.1,60.3L167.7,56.1" stroke="#e20e0e" stroke-width="1.8" fill="none"/>
<circle cx="107.1" cy="69.0" r="1.35" fill="#5e6868"/>
<line x1="103.7" y1="69.0" x2="103.7" y2="72.2" stroke="#98a4a4" stroke-width="1.2"/>
<path d="M101.4,64.9L106.0,69.1M101.4,69.1L106.0,64.9" stroke="#e20e0e" stroke-width="1.8" fill="none"/>
<circle cx="114.0" cy="65.8" r="1.35" fill="#5e6868"/>
<line x1="110.6" y1="67.4" x2="110.6" y2="70.6" stroke="#98a4a4" stroke-width="1.2"/>
<path d="M108.3,63.3L112.9,67.5M108.3,67.5L112.9,63.3" stroke="#e20e0e" stroke-width="1.8" fill="none"/>
<circle cx="120.9" cy="69.0" r="1.35" fill="#5e6868"/>
<line x1="117.4" y1="69.0" x2="117.4" y2="72.2" stroke="#98a4a4" stroke-width="1.2"/>
<path d="M115.1,64.9L119.7,69.1M115.1,69.1L119.7,64.9" stroke="#e20e0e" stroke-width="1.8" fill="none"/>
<circle cx="127.7" cy="65.8" r="1.35" fill="#5e6868"/>
<line x1="124.3" y1="67.4" x2="124.3" y2="70.6" stroke="#98a4a4" stroke-width="1.2"/>
<path d="M122.0,63.3L126.6,67.5M122.0,67.5L126.6,63.3" stroke="#e20e0e" stroke-width="1.8" fill="none"/>
<circle cx="134.6" cy="69.0" r="1.35" fill="#5e6868"/>
<line x1="131.1" y1="69.0" x2="131.1" y2="72.2" stroke="#98a4a4" stroke-width="1.2"/>
<path d="M128.8,64.9L133.4,69.1M128.8,69.1L133.4,64.9" stroke="#e20e0e" stroke-width="1.8" fill="none"/>
<circle cx="141.4" cy="65.8" r="1.35" fill="#5e6868"/>
<line x1="138.0" y1="67.4" x2="138.0" y2="70.6" stroke="#98a4a4" stroke-width="1.2"/>
<path d="M135.7,63.3L140.3,67.5M135.7,67.5L140.3,63.3" stroke="#e20e0e" stroke-width="1.8" fill="none"/>
<circle cx="148.3" cy="69.0" r="1.35" fill="#5e6868"/>
<line x1="144.9" y1="69.0" x2="144.9" y2="72.2" stroke="#98a4a4" stroke-width="1.2"/>
<path d="M142.6,64.9L147.2,69.1M142.6,69.1L147.2,64.9" stroke="#e20e0e" stroke-width="1.8" fill="none"/>
<circle cx="155.2" cy="65.8" r="1.35" fill="#5e6868"/>
<line x1="151.7" y1="67.4" x2="151.7" y2="70.6" stroke="#98a4a4" stroke-width="1.2"/>
<path d="M149.4,63.3L154.0,67.5M149.4,67.5L154.0,63.3" stroke="#e20e0e" stroke-width="1.8" fill="none"/>
<circle cx="162.0" cy="69.0" r="1.35" fill="#5e6868"/>
<line x1="158.6" y1="69.0" x2="158.6" y2="72.2" stroke="#98a4a4" stroke-width="1.2"/>
<path d="M156.3,64.9L160.9,69.1M156.3,69.1L160.9,64.9" stroke="#e20e0e" stroke-width="1.8" fill="none"/>
<circle cx="168.9" cy="65.8" r="1.35" fill="#5e6868"/>
<line x1="165.4" y1="67.4" x2="165.4" y2="70.6" stroke="#98a4a4" stroke-width="1.2"/>
<path d="M163.1,63.3L167.7,67.5M163.1,67.5L167.7,63.3" stroke="#e20e0e" stroke-width="1.8" fill="none"/>
<path d="M103.0,11.6L104.6,9.6L106.2,11.6" stroke="#ea1212" stroke-width="1.6" fill="none" stroke-linecap="round"/>
<path d="M116.7,11.6L118.3,9.6L119.9,11.6" stroke="#ea1212" stroke-width="1.6" fill="none" stroke-linecap="round"/>
<path d="M130.4,11.6L132.0,9.6L133.6,11.6" stroke="#ea1212" stroke-width="1.6" fill="none" stroke-linecap="round"/>
<path d="M144.2,11.6L145.8,9.6L147.4,11.6" stroke="#ea1212" stroke-width="1.6" fill="none" stroke-linecap="round"/>
<path d="M157.9,11.6L159.5,9.6L161.1,11.6" stroke="#ea1212" stroke-width="1.6" fill="none" stroke-linecap="round"/>
<path d="M171.6,11.6L173.2,9.6L174.8,11.6" stroke="#ea1212" stroke-width="1.6" fill="none" stroke-linecap="round"/>
<path d="M40.3,6.3l1.2,1.2l1.2,-1.2" stroke="#f4a090" stroke-width="0.5" fill="none"/>
<path d="M51.0,6.3l1.2,1.2l1.2,-1.2" stroke="#f4a090" stroke-width="0.5" fill="none"/>
<path d="M61.7,6.3l1.2,1.2l1.2,-1.2" stroke="#f4a090" stroke-width="0.5" fill="none"/>
<path d="M72.5,6.3l1.2,1.2l1.2,-1.2" stroke="#f4a090" stroke-width="0.5" fill="none"/>
<path d="M83.2,6.3l1.2,1.2l1.2,-1.2" stroke="#f4a090" stroke-width="0.5" fill="none"/>
<path d="M93.9,6.3l1.2,1.2l1.2,-1.2" stroke="#f4a090" stroke-width="0.5" fill="none"/>
<path d="M104.6,6.3l1.2,1.2l1.2,-1.2" stroke="#f4a090" stroke-width="0.5" fill="none"/>
<path d="M115.3,6.3l1.2,1.2l1.2,-1.2" stroke="#f4a090" stroke-width="0.5" fill="none"/>
<path d="M126.1,6.3l1.2,1.2l1.2,-1.2" stroke="#f4a090" stroke-width="0.5" fill="none"/>
<path d="M136.8,6.3l1.2,1.2l1.2,-1.2" stroke="#f4a090" stroke-width="0.5" fill="none"/>
<path d="M147.5,6.3l1.2,1.2l1.2,-1.2" stroke="#f4a090" stroke-width="0.5" fill="none"/>
<path d="M158.2,6.3l1.2,1.2l1.2,-1.2" stroke="#f4a090" stroke-width="0.5" fill="none"/>
<path d="M168.9,6.3l1.2,1.2l1.2,-1.2" stroke="#f4a090" stroke-width="0.5" fill="none"/>
<line x1="100.8" y1="76.9" x2="105.4" y2="70.5" stroke="#8a8a8a" stroke-width="1.1"/>
<line x1="102.4" y1="74.7" x2="104.5" y2="71.8" stroke="#ea1212" stroke-width="2" stroke-linecap="round"/>
<circle cx="100.8" cy="76.9" r="1.3" fill="#6e6e6e"/>
<line x1="114.5" y1="76.9" x2="109.9" y2="70.5" stroke="#8a8a8a" stroke-width="1.1"/>
<line x1="112.9" y1="74.7" x2="110.8" y2="71.8" stroke="#ea1212" stroke-width="2" stroke-linecap="round"/>
<line x1="114.5" y1="76.9" x2="119.1" y2="70.5" stroke="#8a8a8a" stroke-width="1.1"/>
<line x1="116.1" y1="74.7" x2="118.2" y2="71.8" stroke="#ea1212" stroke-width="2" stroke-linecap="round"/>
<circle cx="114.5" cy="76.9" r="1.3" fill="#6e6e6e"/>
<line x1="128.2" y1="76.9" x2="123.6" y2="70.5" stroke="#8a8a8a" stroke-width="1.1"/>
<line x1="126.6" y1="74.7" x2="124.6" y2="71.8" stroke="#ea1212" stroke-width="2" stroke-linecap="round"/>
<line x1="128.2" y1="76.9" x2="132.8" y2="70.5" stroke="#8a8a8a" stroke-width="1.1"/>
<line x1="129.8" y1="74.7" x2="131.9" y2="71.8" stroke="#ea1212" stroke-width="2" stroke-linecap="round"/>
<circle cx="128.2" cy="76.9" r="1.3" fill="#6e6e6e"/>
<line x1="142.0" y1="76.9" x2="137.4" y2="70.5" stroke="#8a8a8a" stroke-width="1.1"/>
<line x1="140.4" y1="74.7" x2="138.3" y2="71.8" stroke="#ea1212" stroke-width="2" stroke-linecap="round"/>
<line x1="142.0" y1="76.9" x2="146.6" y2="70.5" stroke="#8a8a8a" stroke-width="1.1"/>
<line x1="143.6" y1="74.7" x2="145.6" y2="71.8" stroke="#ea1212" stroke-width="2" stroke-linecap="round"/>
<circle cx="142.0" cy="76.9" r="1.3" fill="#6e6e6e"/>
<line x1="155.7" y1="76.9" x2="151.1" y2="70.5" stroke="#8a8a8a" stroke-width="1.1"/>
<line x1="154.1" y1="74.7" x2="152.0" y2="71.8" stroke="#ea1212" stroke-width="2" stroke-linecap="round"/>
<line x1="155.7" y1="76.9" x2="160.3" y2="70.5" stroke="#8a8a8a" stroke-width="1.1"/>
<line x1="157.3" y1="74.7" x2="159.4" y2="71.8" stroke="#ea1212" stroke-width="2" stroke-linecap="round"/>
<circle cx="155.7" cy="76.9" r="1.3" fill="#6e6e6e"/>
<line x1="169.4" y1="76.9" x2="164.8" y2="70.5" stroke="#8a8a8a" stroke-width="1.1"/>
<line x1="167.8" y1="74.7" x2="165.7" y2="71.8" stroke="#ea1212" stroke-width="2" stroke-linecap="round"/>
<line x1="169.4" y1="76.9" x2="174.0" y2="70.5" stroke="#8a8a8a" stroke-width="1.1"/>
<line x1="171.0" y1="74.7" x2="173.1" y2="71.8" stroke="#ea1212" stroke-width="2" stroke-linecap="round"/>
<circle cx="169.4" cy="76.9" r="1.3" fill="#6e6e6e"/>
<circle cx="41.4" cy="82.4" r="2.55" fill="url(#ti)"/>
<circle cx="34.4" cy="85.1" r="2.55" fill="url(#ti)"/>
<circle cx="55.4" cy="82.4" r="2.55" fill="url(#ti)"/>
<circle cx="48.4" cy="85.1" r="2.55" fill="url(#ti)"/>
<circle cx="69.3" cy="82.4" r="2.55" fill="url(#ti)"/>
<circle cx="62.3" cy="85.1" r="2.55" fill="url(#ti)"/>
<circle cx="83.3" cy="82.4" r="2.55" fill="url(#ti)"/>
<circle cx="76.3" cy="85.1" r="2.55" fill="url(#ti)"/>
<circle cx="97.3" cy="82.4" r="2.55" fill="url(#ti)"/>
<circle cx="90.3" cy="85.1" r="2.55" fill="url(#ti)"/>
<circle cx="111.2" cy="82.4" r="2.55" fill="url(#ti)"/>
<circle cx="104.2" cy="85.1" r="2.55" fill="url(#ti)"/>
<circle cx="125.2" cy="82.4" r="2.55" fill="url(#ti)"/>
<circle cx="118.2" cy="85.1" r="2.55" fill="url(#ti)"/>
<circle cx="139.2" cy="82.4" r="2.55" fill="url(#ti)"/>
<circle cx="132.2" cy="85.1" r="2.55" fill="url(#ti)"/>
<circle cx="153.2" cy="82.4" r="2.55" fill="url(#ti)"/>
<circle cx="146.2" cy="85.1" r="2.55" fill="url(#ti)"/>
<circle cx="167.1" cy="82.4" r="2.55" fill="url(#ti)"/>
<circle cx="160.1" cy="85.1" r="2.55" fill="url(#ti)"/>
<circle cx="41.4" cy="89.4" r="2.55" fill="url(#ti)"/>
<circle cx="34.4" cy="92.1" r="2.55" fill="url(#ti)"/>
<circle cx="55.4" cy="89.4" r="2.55" fill="url(#ti)"/>
<circle cx="48.4" cy="92.1" r="2.55" fill="url(#ti)"/>
<circle cx="69.3" cy="89.4" r="2.55" fill="url(#ti)"/>
<circle cx="62.3" cy="92.1" r="2.55" fill="url(#ti)"/>
<circle cx="83.3" cy="89.4" r="2.55" fill="url(#ti)"/>
<circle cx="76.3" cy="92.1" r="2.55" fill="url(#ti)"/>
<circle cx="97.3" cy="89.4" r="2.55" fill="url(#ti)"/>
<circle cx="90.3" cy="92.1" r="2.55" fill="url(#ti)"/>
<circle cx="111.2" cy="89.4" r="2.55" fill="url(#ti)"/>
<circle cx="104.2" cy="92.1" r="2.55" fill="url(#ti)"/>
<circle cx="125.2" cy="89.4" r="2.55" fill="url(#ti)"/>
<circle cx="118.2" cy="92.1" r="2.55" fill="url(#ti)"/>
<circle cx="139.2" cy="89.4" r="2.55" fill="url(#ti)"/>
<circle cx="132.2" cy="92.1" r="2.55" fill="url(#ti)"/>
<circle cx="153.2" cy="89.4" r="2.55" fill="url(#ti)"/>
<circle cx="146.2" cy="92.1" r="2.55" fill="url(#ti)"/>
<circle cx="167.1" cy="89.4" r="2.55" fill="url(#ti)"/>
<circle cx="160.1" cy="92.1" r="2.55" fill="url(#ti)"/>
<circle cx="41.4" cy="96.4" r="2.55" fill="url(#ti)"/>
<circle cx="34.4" cy="99.0" r="2.55" fill="url(#ti)"/>
<circle cx="55.4" cy="96.4" r="2.55" fill="url(#ti)"/>
<circle cx="48.4" cy="99.0" r="2.55" fill="url(#ti)"/>
<circle cx="69.3" cy="96.4" r="2.55" fill="url(#ti)"/>
<circle cx="62.3" cy="99.0" r="2.55" fill="url(#ti)"/>
<circle cx="83.3" cy="96.4" r="2.55" fill="url(#ti)"/>
<circle cx="76.3" cy="99.0" r="2.55" fill="url(#ti)"/>
<circle cx="97.3" cy="96.4" r="2.55" fill="url(#ti)"/>
<circle cx="90.3" cy="99.0" r="2.55" fill="url(#ti)"/>
<circle cx="111.2" cy="96.4" r="2.55" fill="url(#ti)"/>
<circle cx="104.2" cy="99.0" r="2.55" fill="url(#ti)"/>
<circle cx="125.2" cy="96.4" r="2.55" fill="url(#ti)"/>
<circle cx="118.2" cy="99.0" r="2.55" fill="url(#ti)"/>
<circle cx="139.2" cy="96.4" r="2.55" fill="url(#ti)"/>
<circle cx="132.2" cy="99.0" r="2.55" fill="url(#ti)"/>
<circle cx="153.2" cy="96.4" r="2.55" fill="url(#ti)"/>
<circle cx="146.2" cy="99.0" r="2.55" fill="url(#ti)"/>
<circle cx="167.1" cy="96.4" r="2.55" fill="url(#ti)"/>
<circle cx="160.1" cy="99.0" r="2.55" fill="url(#ti)"/>
<circle cx="41.4" cy="103.4" r="2.55" fill="url(#ti)"/>
<circle cx="34.4" cy="106.0" r="2.55" fill="url(#ti)"/>
<circle cx="55.4" cy="103.4" r="2.55" fill="url(#ti)"/>
<circle cx="48.4" cy="106.0" r="2.55" fill="url(#ti)"/>
<circle cx="69.3" cy="103.4" r="2.55" fill="url(#ti)"/>
<circle cx="62.3" cy="106.0" r="2.55" fill="url(#ti)"/>
<circle cx="83.3" cy="103.4" r="2.55" fill="url(#ti)"/>
<circle cx="76.3" cy="106.0" r="2.55" fill="url(#ti)"/>
<circle cx="97.3" cy="103.4" r="2.55" fill="url(#ti)"/>
<circle cx="90.3" cy="106.0" r="2.55" fill="url(#ti)"/>
<circle cx="111.2" cy="103.4" r="2.55" fill="url(#ti)"/>
<circle cx="104.2" cy="106.0" r="2.55" fill="url(#ti)"/>
<circle cx="125.2" cy="103.4" r="2.55" fill="url(#ti)"/>
<circle cx="118.2" cy="106.0" r="2.55" fill="url(#ti)"/>
<circle cx="139.2" cy="103.4" r="2.55" fill="url(#ti)"/>
<circle cx="132.2" cy="106.0" r="2.55" fill="url(#ti)"/>
<circle cx="153.2" cy="103.4" r="2.55" fill="url(#ti)"/>
<circle cx="146.2" cy="106.0" r="2.55" fill="url(#ti)"/>
<circle cx="167.1" cy="103.4" r="2.55" fill="url(#ti)"/>
<circle cx="160.1" cy="106.0" r="2.55" fill="url(#ti)"/>
<circle cx="25.7" cy="2.5" r="4.3" fill="url(#cu)"/>
<circle cx="36.4" cy="2.5" r="4.3" fill="url(#cu)"/>
<circle cx="47.1" cy="2.5" r="4.3" fill="url(#cu)"/>
<circle cx="57.8" cy="2.5" r="4.3" fill="url(#cu)"/>
<circle cx="68.6" cy="2.5" r="4.3" fill="url(#cu)"/>
<circle cx="79.3" cy="2.5" r="4.3" fill="url(#cu)"/>
<circle cx="90.0" cy="2.5" r="4.3" fill="url(#cu)"/>
<circle cx="100.7" cy="2.5" r="4.3" fill="url(#cu)"/>
<circle cx="111.4" cy="2.5" r="4.3" fill="url(#cu)"/>
<circle cx="122.2" cy="2.5" r="4.3" fill="url(#cu)"/>
<circle cx="132.9" cy="2.5" r="4.3" fill="url(#cu)"/>
<circle cx="143.6" cy="2.5" r="4.3" fill="url(#cu)"/>
<circle cx="154.3" cy="2.5" r="4.3" fill="url(#cu)"/>
<circle cx="165.0" cy="2.5" r="4.3" fill="url(#cu)"/>
<circle cx="175.8" cy="2.5" r="4.3" fill="url(#cu)"/>
<rect x="36" y="36.5" width="44" height="11" fill="#fff" opacity="0.55"/>
<rect x="114" y="32.5" width="53" height="24" fill="#fff" opacity="0.7"/>
<rect x="39" y="88" width="21" height="17" fill="#fff" opacity="0.55"/>
</g>
<rect x="86.4" y="-5" width="23.9" height="91.3" fill="none" stroke="#000" stroke-width="1.4"/>
<path d="M30.3,-1V109.8H170.9V-1" fill="none" stroke="#1c72d0" stroke-width="1.7"/>
<text x="38.5" y="44.6" font-size="8" font-weight="bold" fill="#15158e" stroke="#15158e" stroke-width="0.25" textLength="38.5" lengthAdjust="spacingAndGlyphs">TiO<tspan font-size="5" dy="1.5">2</tspan><tspan dy="-1.5"> (100)</tspan></text>
<text x="121.8" y="41.7" font-size="9" font-weight="bold" fill="#15158e" stroke="#15158e" stroke-width="0.25" textLength="37" lengthAdjust="spacingAndGlyphs">(001/110</text>
<text x="120.4" y="53" font-size="9" font-weight="bold" fill="#15158e" stroke="#15158e" stroke-width="0.25" textLength="40.5" lengthAdjust="spacingAndGlyphs">/111/120)</text>
<text x="42" y="99" font-size="11.5" font-weight="bold" fill="#10108a">Ti</text>
<g stroke-linecap="butt" fill="none">
<path d="M192.4,106.5V78" stroke="#0aa550" stroke-width="1.5"/><path d="M189.6,81.2L192.4,77L195.2,81.2" stroke="#0aa550" stroke-width="1.2"/>
<path d="M192.4,106.3L214.5,85.6" stroke="#ff1010" stroke-width="1.5"/><path d="M210,86.2L215.3,84.9L213.6,90" stroke="#ff1010" stroke-width="1.2"/>
<path d="M192,106.3H225" stroke="#1a5fc8" stroke-width="1.5"/><path d="M221.5,103.6L225.5,106.3L221.5,109" stroke="#1a5fc8" stroke-width="1.2"/>
</g>
<text x="183" y="83.4" font-size="8" font-weight="bold" fill="#0aa550">Z</text>
<text x="204.6" y="85.6" font-size="8" font-weight="bold" fill="#ff1010">Y</text>
<text x="211.7" y="103.7" font-size="8" font-weight="bold" fill="#1a5fc8">X</text>
<polygon points="432.4,-5 433.4,-5 446.5,-16.2 446.5,3.6000000000000014 433.4,14.8 432.4,14.8" fill="#2c2ca6"/>
<polygon points="432.4,14.8 433.4,14.8 446.5,3.6000000000000014 446.5,63.5 433.4,74.7 432.4,74.7" fill="url(#grnS)"/>
<polygon points="432.4,74.7 433.4,74.7 446.5,63.5 446.5,83.1 433.4,94.3 432.4,94.3" fill="#2a2aa8"/>
<polygon points="432.4,94.3 433.4,94.3 446.5,83.1 446.5,90.0 433.4,101.2 432.4,101.2" fill="#5a1038"/>
<polygon points="432.4,101.2 433.4,101.2 446.5,90.0 446.5,98.5 433.4,109.7 432.4,109.7" fill="#2ab88a"/>
<rect x="276.1" y="-1" width="157.29999999999995" height="15.9" fill="url(#blueF)"/>
<rect x="276.1" y="14.9" width="81.09999999999997" height="59.8" fill="url(#redF)"/>
<rect x="276.1" y="14.9" width="81.09999999999997" height="59.8" fill="url(#redL)"/>
<rect x="276.1" y="14.9" width="81.09999999999997" height="59.8" fill="url(#redB)"/>
<rect x="357.2" y="14.9" width="76.19999999999999" height="59.8" fill="url(#grnF)"/>
<rect x="276.1" y="74.7" width="157.29999999999995" height="19.7" fill="url(#blueF2)"/>
<rect x="276.1" y="94.3" width="157.29999999999995" height="7" fill="url(#marF)"/>
<rect x="276.1" y="101.2" width="157.29999999999995" height="8.5" fill="url(#tealF)"/>
<text x="355.8" y="10.4" font-size="7.8" font-weight="bold" fill="#fff" stroke="#fff" stroke-width="0.25" text-anchor="middle" font-style="italic" textLength="37.5" lengthAdjust="spacingAndGlyphs">Free Zone</text>
<text x="355.3" y="88" font-size="7.8" font-weight="bold" fill="#fff" stroke="#fff" stroke-width="0.25" text-anchor="middle" font-style="italic" textLength="36.6" lengthAdjust="spacingAndGlyphs">Free Zone</text>
<text x="357" y="99.8" font-size="7" font-weight="bold" fill="#ffe600" stroke="#ffe600" stroke-width="0.25" text-anchor="middle" font-style="italic" textLength="29.5" lengthAdjust="spacingAndGlyphs">T control</text>
<text x="356.2" y="108.2" font-size="7.6" font-weight="bold" fill="#000" stroke="#000" stroke-width="0.25" text-anchor="middle" font-style="italic" textLength="31.3" lengthAdjust="spacingAndGlyphs">Fix Zone</text>
<text x="321.5" y="32" font-size="7.2" font-weight="bold" fill="#fff" stroke="#fff" stroke-width="0.25" text-anchor="middle" font-style="italic" textLength="31" lengthAdjust="spacingAndGlyphs">grain_1</text>
<text x="322" y="43.1" font-size="8.3" font-weight="bold" fill="#fff" stroke="#fff" stroke-width="0.25" text-anchor="middle" textLength="44.2" lengthAdjust="spacingAndGlyphs">Along the x</text>
<text x="321.4" y="54.3" font-size="8.3" font-weight="bold" fill="#fff" stroke="#fff" stroke-width="0.25" text-anchor="middle" textLength="38.6" lengthAdjust="spacingAndGlyphs">direction:</text>
<text x="322" y="66" font-size="8" font-weight="bold" fill="#fff" stroke="#fff" stroke-width="0.25" text-anchor="middle" textLength="21.2" lengthAdjust="spacingAndGlyphs">(100)</text>
<text x="391" y="25.4" font-size="7.2" font-weight="bold" fill="#fff" stroke="#fff" stroke-width="0.25" text-anchor="middle" font-style="italic" textLength="30.7" lengthAdjust="spacingAndGlyphs">grain_2</text>
<text x="390.5" y="36.9" font-size="8.3" font-weight="bold" fill="#fff" stroke="#fff" stroke-width="0.25" text-anchor="middle" textLength="43.2" lengthAdjust="spacingAndGlyphs">Along the x</text>
<text x="391.4" y="47.7" font-size="8.3" font-weight="bold" fill="#fff" stroke="#fff" stroke-width="0.25" text-anchor="middle" textLength="38.6" lengthAdjust="spacingAndGlyphs">direction:</text>
<text x="390.7" y="59" font-size="8" font-weight="bold" fill="#fff" stroke="#fff" stroke-width="0.25" text-anchor="middle" textLength="42" lengthAdjust="spacingAndGlyphs">(001)(110)</text>
<text x="390.7" y="70.3" font-size="8" font-weight="bold" fill="#fff" stroke="#fff" stroke-width="0.25" text-anchor="middle" textLength="42" lengthAdjust="spacingAndGlyphs">(111)(120)</text>
<text x="244.2" y="14.3" font-size="10.5" font-weight="bold" fill="#000" text-anchor="middle" textLength="35.7" lengthAdjust="spacingAndGlyphs">(2 nm)</text>
<text x="243.3" y="41.3" font-size="11" font-weight="bold" fill="#000" text-anchor="middle">TiO<tspan font-size="7" dy="2.4">2</tspan></text>
<text x="243.4" y="57" font-size="10.5" font-weight="bold" fill="#000" text-anchor="middle" textLength="35.3" lengthAdjust="spacingAndGlyphs">(4 nm)</text>
<text x="246.4" y="89.4" font-size="11" font-weight="bold" fill="#000" text-anchor="middle">Ti</text>
<text x="246.8" y="106" font-size="10.5" font-weight="bold" fill="#000" text-anchor="middle" textLength="35.7" lengthAdjust="spacingAndGlyphs">(2 nm)</text>
<path d="M268.9,-2V109.8 M268.9,1.6H265 M268.9,16.3H272 M268.9,45.6H264.6 M268.9,74.9H272 M268.9,92.3H265 M268.9,109.6H272" fill="none" stroke="#000" stroke-width="1.3"/>
<text x="0.6" y="127.3" font-size="12.4" font-weight="bold" style="font-family:'Liberation Serif',serif">(c)</text>
<text x="235" y="126.3" font-size="11.7" font-weight="bold">(d)</text>
<g clip-path="url(#pc)">
<polyline fill="none" stroke="#000" stroke-width="0.6" points="92.5,255.5 93.2,253.4 94.0,251.3 94.9,251.3 95.7,249.2 96.6,247.1 97.4,245.0 98.3,245.0 99.2,240.8 100.1,240.8 101.0,238.7 101.8,238.7 102.7,238.7 103.5,236.6 104.4,236.6 105.2,234.5 106.1,234.5 106.9,234.5 107.9,234.5 108.8,232.4 109.8,232.4 110.7,232.4 111.6,232.4 112.6,230.3 113.5,230.3 114.4,232.4 115.3,230.3 116.2,230.3 117.1,232.4 118.0,230.3 118.9,230.3 119.8,230.3 120.6,228.2 121.5,230.3 122.4,228.2 123.3,230.3 124.2,228.2 125.1,228.2 126.0,228.2 126.9,228.2 127.8,228.2 128.7,230.3 129.7,228.2 130.6,226.1 131.5,228.2 132.4,226.1 133.3,228.2 134.2,228.2 135.2,226.1 136.1,228.2 137.0,228.2 137.9,228.2 138.8,226.1 139.7,228.2 140.7,226.1 141.6,228.2 142.5,226.1 143.4,226.1 144.3,228.2 145.2,228.2 146.2,226.1 147.1,228.2 148.0,226.1 148.9,226.1 149.8,226.1 150.6,226.1 151.5,226.1 152.4,228.2 153.2,226.1 154.1,226.1 155.0,226.1 155.9,228.2 156.8,226.1 157.6,226.1 158.5,226.1 159.4,226.1 160.2,228.2 161.1,226.1 162.0,226.1 162.9,224.0 163.8,226.1 164.6,226.1 165.5,226.1 166.4,224.0 167.2,224.0 168.1,224.0 169.0,224.0 169.9,224.0 170.8,221.9 171.6,221.9 172.5,221.9 173.4,221.9 174.4,221.9 175.3,224.0 176.2,221.9 177.2,221.9 178.1,221.9 179.0,219.8 180.0,221.9 180.9,219.8 181.8,221.9 182.8,221.9 183.7,219.8 184.6,221.9 185.5,219.8 186.4,221.9 187.3,219.8 188.2,219.8 189.1,219.8 190.0,221.9 190.8,221.9 191.7,221.9 192.6,219.8 193.5,219.8 194.4,219.8 195.3,217.7 196.2,217.7 197.1,219.8 198.0,219.8 198.9,217.7 199.7,217.7 200.6,217.7 201.4,215.6 202.3,213.5 203.2,213.5 204.1,213.5 204.9,213.5 205.8,213.5 206.7,215.6 207.6,215.6 208.5,213.5 209.4,213.5 210.2,213.5 211.1,213.5 212.0,213.5"/>
<rect x="91.1" y="254.1" width="2.8" height="2.8" fill="#000"/>
<rect x="91.8" y="252.0" width="2.8" height="2.8" fill="#000"/>
<rect x="92.6" y="249.9" width="2.8" height="2.8" fill="#000"/>
<rect x="93.5" y="249.9" width="2.8" height="2.8" fill="#000"/>
<rect x="94.3" y="247.8" width="2.8" height="2.8" fill="#000"/>
<rect x="95.2" y="245.7" width="2.8" height="2.8" fill="#000"/>
<rect x="96.0" y="243.6" width="2.8" height="2.8" fill="#000"/>
<rect x="96.9" y="243.6" width="2.8" height="2.8" fill="#000"/>
<rect x="97.8" y="239.4" width="2.8" height="2.8" fill="#000"/>
<rect x="98.7" y="239.4" width="2.8" height="2.8" fill="#000"/>
<rect x="99.6" y="237.3" width="2.8" height="2.8" fill="#000"/>
<rect x="100.4" y="237.3" width="2.8" height="2.8" fill="#000"/>
<rect x="101.3" y="237.3" width="2.8" height="2.8" fill="#000"/>
<rect x="102.1" y="235.2" width="2.8" height="2.8" fill="#000"/>
<rect x="103.0" y="235.2" width="2.8" height="2.8" fill="#000"/>
<rect x="103.8" y="233.1" width="2.8" height="2.8" fill="#000"/>
<rect x="104.7" y="233.1" width="2.8" height="2.8" fill="#000"/>
<rect x="105.5" y="233.1" width="2.8" height="2.8" fill="#000"/>
<rect x="106.5" y="233.1" width="2.8" height="2.8" fill="#000"/>
<rect x="107.4" y="231.0" width="2.8" height="2.8" fill="#000"/>
<rect x="108.3" y="231.0" width="2.8" height="2.8" fill="#000"/>
<rect x="109.3" y="231.0" width="2.8" height="2.8" fill="#000"/>
<rect x="110.2" y="231.0" width="2.8" height="2.8" fill="#000"/>
<rect x="111.2" y="228.9" width="2.8" height="2.8" fill="#000"/>
<rect x="112.1" y="228.9" width="2.8" height="2.8" fill="#000"/>
<rect x="113.0" y="231.0" width="2.8" height="2.8" fill="#000"/>
<rect x="113.9" y="228.9" width="2.8" height="2.8" fill="#000"/>
<rect x="114.8" y="228.9" width="2.8" height="2.8" fill="#000"/>
<rect x="115.7" y="231.0" width="2.8" height="2.8" fill="#000"/>
<rect x="116.6" y="228.9" width="2.8" height="2.8" fill="#000"/>
<rect x="117.5" y="228.9" width="2.8" height="2.8" fill="#000"/>
<rect x="118.3" y="228.9" width="2.8" height="2.8" fill="#000"/>
<rect x="119.2" y="226.8" width="2.8" height="2.8" fill="#000"/>
<rect x="120.1" y="228.9" width="2.8" height="2.8" fill="#000"/>
<rect x="121.0" y="226.8" width="2.8" height="2.8" fill="#000"/>
<rect x="121.9" y="228.9" width="2.8" height="2.8" fill="#000"/>
<rect x="122.8" y="226.8" width="2.8" height="2.8" fill="#000"/>
<rect x="123.7" y="226.8" width="2.8" height="2.8" fill="#000"/>
<rect x="124.6" y="226.8" width="2.8" height="2.8" fill="#000"/>
<rect x="125.5" y="226.8" width="2.8" height="2.8" fill="#000"/>
<rect x="126.4" y="226.8" width="2.8" height="2.8" fill="#000"/>
<rect x="127.3" y="228.9" width="2.8" height="2.8" fill="#000"/>
<rect x="128.3" y="226.8" width="2.8" height="2.8" fill="#000"/>
<rect x="129.2" y="224.7" width="2.8" height="2.8" fill="#000"/>
<rect x="130.1" y="226.8" width="2.8" height="2.8" fill="#000"/>
<rect x="131.0" y="224.7" width="2.8" height="2.8" fill="#000"/>
<rect x="131.9" y="226.8" width="2.8" height="2.8" fill="#000"/>
<rect x="132.8" y="226.8" width="2.8" height="2.8" fill="#000"/>
<rect x="133.8" y="224.7" width="2.8" height="2.8" fill="#000"/>
<rect x="134.7" y="226.8" width="2.8" height="2.8" fill="#000"/>
<rect x="135.6" y="226.8" width="2.8" height="2.8" fill="#000"/>
<rect x="136.5" y="226.8" width="2.8" height="2.8" fill="#000"/>
<rect x="137.4" y="224.7" width="2.8" height="2.8" fill="#000"/>
<rect x="138.3" y="226.8" width="2.8" height="2.8" fill="#000"/>
<rect x="139.3" y="224.7" width="2.8" height="2.8" fill="#000"/>
<rect x="140.2" y="226.8" width="2.8" height="2.8" fill="#000"/>
<rect x="141.1" y="224.7" width="2.8" height="2.8" fill="#000"/>
<rect x="142.0" y="224.7" width="2.8" height="2.8" fill="#000"/>
<rect x="142.9" y="226.8" width="2.8" height="2.8" fill="#000"/>
<rect x="143.8" y="226.8" width="2.8" height="2.8" fill="#000"/>
<rect x="144.8" y="224.7" width="2.8" height="2.8" fill="#000"/>
<rect x="145.7" y="226.8" width="2.8" height="2.8" fill="#000"/>
<rect x="146.6" y="224.7" width="2.8" height="2.8" fill="#000"/>
<rect x="147.5" y="224.7" width="2.8" height="2.8" fill="#000"/>
<rect x="148.3" y="224.7" width="2.8" height="2.8" fill="#000"/>
<rect x="149.2" y="224.7" width="2.8" height="2.8" fill="#000"/>
<rect x="150.1" y="224.7" width="2.8" height="2.8" fill="#000"/>
<rect x="151.0" y="226.8" width="2.8" height="2.8" fill="#000"/>
<rect x="151.8" y="224.7" width="2.8" height="2.8" fill="#000"/>
<rect x="152.7" y="224.7" width="2.8" height="2.8" fill="#000"/>
<rect x="153.6" y="224.7" width="2.8" height="2.8" fill="#000"/>
<rect x="154.5" y="226.8" width="2.8" height="2.8" fill="#000"/>
<rect x="155.3" y="224.7" width="2.8" height="2.8" fill="#000"/>
<rect x="156.2" y="224.7" width="2.8" height="2.8" fill="#000"/>
<rect x="157.1" y="224.7" width="2.8" height="2.8" fill="#000"/>
<rect x="158.0" y="224.7" width="2.8" height="2.8" fill="#000"/>
<rect x="158.8" y="226.8" width="2.8" height="2.8" fill="#000"/>
<rect x="159.7" y="224.7" width="2.8" height="2.8" fill="#000"/>
<rect x="160.6" y="224.7" width="2.8" height="2.8" fill="#000"/>
<rect x="161.5" y="222.6" width="2.8" height="2.8" fill="#000"/>
<rect x="162.3" y="224.7" width="2.8" height="2.8" fill="#000"/>
<rect x="163.2" y="224.7" width="2.8" height="2.8" fill="#000"/>
<rect x="164.1" y="224.7" width="2.8" height="2.8" fill="#000"/>
<rect x="165.0" y="222.6" width="2.8" height="2.8" fill="#000"/>
<rect x="165.8" y="222.6" width="2.8" height="2.8" fill="#000"/>
<rect x="166.7" y="222.6" width="2.8" height="2.8" fill="#000"/>
<rect x="167.6" y="222.6" width="2.8" height="2.8" fill="#000"/>
<rect x="168.5" y="222.6" width="2.8" height="2.8" fill="#000"/>
<rect x="169.3" y="220.5" width="2.8" height="2.8" fill="#000"/>
<rect x="170.2" y="220.5" width="2.8" height="2.8" fill="#000"/>
<rect x="171.1" y="220.5" width="2.8" height="2.8" fill="#000"/>
<rect x="172.0" y="220.5" width="2.8" height="2.8" fill="#000"/>
<rect x="173.0" y="220.5" width="2.8" height="2.8" fill="#000"/>
<rect x="173.9" y="222.6" width="2.8" height="2.8" fill="#000"/>
<rect x="174.8" y="220.5" width="2.8" height="2.8" fill="#000"/>
<rect x="175.8" y="220.5" width="2.8" height="2.8" fill="#000"/>
<rect x="176.7" y="220.5" width="2.8" height="2.8" fill="#000"/>
<rect x="177.6" y="218.4" width="2.8" height="2.8" fill="#000"/>
<rect x="178.6" y="220.5" width="2.8" height="2.8" fill="#000"/>
<rect x="179.5" y="218.4" width="2.8" height="2.8" fill="#000"/>
<rect x="180.4" y="220.5" width="2.8" height="2.8" fill="#000"/>
<rect x="181.4" y="220.5" width="2.8" height="2.8" fill="#000"/>
<rect x="182.3" y="218.4" width="2.8" height="2.8" fill="#000"/>
<rect x="183.2" y="220.5" width="2.8" height="2.8" fill="#000"/>
<rect x="184.1" y="218.4" width="2.8" height="2.8" fill="#000"/>
<rect x="185.0" y="220.5" width="2.8" height="2.8" fill="#000"/>
<rect x="185.9" y="218.4" width="2.8" height="2.8" fill="#000"/>
<rect x="186.8" y="218.4" width="2.8" height="2.8" fill="#000"/>
<rect x="187.7" y="218.4" width="2.8" height="2.8" fill="#000"/>
<rect x="188.6" y="220.5" width="2.8" height="2.8" fill="#000"/>
<rect x="189.4" y="220.5" width="2.8" height="2.8" fill="#000"/>
<rect x="190.3" y="220.5" width="2.8" height="2.8" fill="#000"/>
<rect x="191.2" y="218.4" width="2.8" height="2.8" fill="#000"/>
<rect x="192.1" y="218.4" width="2.8" height="2.8" fill="#000"/>
<rect x="193.0" y="218.4" width="2.8" height="2.8" fill="#000"/>
<rect x="193.9" y="216.3" width="2.8" height="2.8" fill="#000"/>
<rect x="194.8" y="216.3" width="2.8" height="2.8" fill="#000"/>
<rect x="195.7" y="218.4" width="2.8" height="2.8" fill="#000"/>
<rect x="196.6" y="218.4" width="2.8" height="2.8" fill="#000"/>
<rect x="197.5" y="216.3" width="2.8" height="2.8" fill="#000"/>
<rect x="198.3" y="216.3" width="2.8" height="2.8" fill="#000"/>
<rect x="199.2" y="216.3" width="2.8" height="2.8" fill="#000"/>
<rect x="200.0" y="214.2" width="2.8" height="2.8" fill="#000"/>
<rect x="200.9" y="212.1" width="2.8" height="2.8" fill="#000"/>
<rect x="201.8" y="212.1" width="2.8" height="2.8" fill="#000"/>
<rect x="202.7" y="212.1" width="2.8" height="2.8" fill="#000"/>
<rect x="203.5" y="212.1" width="2.8" height="2.8" fill="#000"/>
<rect x="204.4" y="212.1" width="2.8" height="2.8" fill="#000"/>
<rect x="205.3" y="214.2" width="2.8" height="2.8" fill="#000"/>
<rect x="206.2" y="214.2" width="2.8" height="2.8" fill="#000"/>
<rect x="207.1" y="212.1" width="2.8" height="2.8" fill="#000"/>
<rect x="208.0" y="212.1" width="2.8" height="2.8" fill="#000"/>
<rect x="208.8" y="212.1" width="2.8" height="2.8" fill="#000"/>
<rect x="209.7" y="212.1" width="2.8" height="2.8" fill="#000"/>
<rect x="210.6" y="212.1" width="2.8" height="2.8" fill="#000"/>
</g>
<g clip-path="url(#pc)">
<polyline fill="none" stroke="#0000ff" stroke-width="0.6" points="101.0,255.5 101.8,253.4 102.6,253.4 103.5,249.2 104.4,249.2 105.3,251.3 106.2,249.2 107.0,249.2 107.9,247.1 108.8,245.0 109.7,245.0 110.6,242.9 111.5,245.0 112.4,242.9 113.3,242.9 114.2,240.8 115.1,240.8 116.0,240.8 116.9,238.7 117.8,238.7 118.7,238.7 119.6,236.6 120.5,236.6 121.3,238.7 122.2,236.6 123.1,236.6 124.0,234.5 124.9,236.6 125.8,236.6 126.7,236.6 127.6,232.4 128.5,236.6 129.5,234.5 130.4,234.5 131.3,234.5 132.2,238.7 133.1,234.5 134.0,234.5 134.9,232.4 135.8,232.4 136.6,234.5 137.5,232.4 138.4,232.4 139.2,232.4 140.1,232.4 141.0,232.4 141.9,230.3 142.8,230.3 143.6,228.2 144.5,230.3 145.4,230.3 146.2,230.3 147.1,228.2 148.0,228.2 148.9,230.3 149.8,226.1 150.6,226.1 151.5,224.0 152.4,224.0 153.2,221.9 154.1,221.9 155.0,219.8 155.9,219.8 156.8,221.9 157.7,217.7 158.7,219.8 159.6,219.8 160.5,217.7 161.4,217.7 162.3,217.7 163.2,217.7 164.1,213.5 165.0,215.6 165.9,215.6 166.8,215.6 167.7,215.6 168.6,213.5 169.4,213.5 170.3,213.5 171.2,213.5 172.1,213.5 173.0,213.5 173.9,211.4 174.8,211.4 175.7,215.6 176.6,213.5 177.5,211.4 178.4,209.3 179.3,211.4 180.2,209.3 181.1,211.4 182.0,209.3 182.9,209.3 183.8,209.3 184.6,207.2 185.5,207.2 186.4,209.3 187.3,209.3 188.2,209.3 189.1,209.3 190.0,205.1 190.9,207.2 191.8,205.1 192.7,205.1 193.5,205.1 194.4,205.1 195.3,205.1 196.2,205.1 197.1,203.0 197.9,203.0 198.8,203.0 199.7,203.0 200.6,203.0 201.5,203.0 202.4,200.9 203.2,205.1 204.1,200.9 205.0,200.9 205.9,200.9 206.8,198.8 207.6,200.9 208.5,198.8 209.4,200.9 210.2,196.7 211.1,198.8 212.0,198.8"/>
<polygon points="99.0,257.0 103.0,257.0 101.0,253.5" fill="#0000ff"/>
<polygon points="99.8,254.9 103.8,254.9 101.8,251.4" fill="#0000ff"/>
<polygon points="100.6,254.9 104.6,254.9 102.6,251.4" fill="#0000ff"/>
<polygon points="101.5,250.7 105.4,250.7 103.5,247.2" fill="#0000ff"/>
<polygon points="102.4,250.7 106.3,250.7 104.4,247.2" fill="#0000ff"/>
<polygon points="103.3,252.8 107.2,252.8 105.3,249.3" fill="#0000ff"/>
<polygon points="104.2,250.7 108.1,250.7 106.2,247.2" fill="#0000ff"/>
<polygon points="105.1,250.7 109.0,250.7 107.0,247.2" fill="#0000ff"/>
<polygon points="106.0,248.6 109.9,248.6 107.9,245.1" fill="#0000ff"/>
<polygon points="106.9,246.5 110.8,246.5 108.8,243.0" fill="#0000ff"/>
<polygon points="107.7,246.5 111.7,246.5 109.7,243.0" fill="#0000ff"/>
<polygon points="108.6,244.4 112.6,244.4 110.6,240.9" fill="#0000ff"/>
<polygon points="109.5,246.5 113.5,246.5 111.5,243.0" fill="#0000ff"/>
<polygon points="110.4,244.4 114.4,244.4 112.4,240.9" fill="#0000ff"/>
<polygon points="111.3,244.4 115.3,244.4 113.3,240.9" fill="#0000ff"/>
<polygon points="112.2,242.3 116.2,242.3 114.2,238.8" fill="#0000ff"/>
<polygon points="113.1,242.3 117.1,242.3 115.1,238.8" fill="#0000ff"/>
<polygon points="114.0,242.3 118.0,242.3 116.0,238.8" fill="#0000ff"/>
<polygon points="114.9,240.2 118.9,240.2 116.9,236.7" fill="#0000ff"/>
<polygon points="115.8,240.2 119.7,240.2 117.8,236.7" fill="#0000ff"/>
<polygon points="116.7,240.2 120.6,240.2 118.7,236.7" fill="#0000ff"/>
<polygon points="117.6,238.1 121.5,238.1 119.6,234.6" fill="#0000ff"/>
<polygon points="118.5,238.1 122.4,238.1 120.5,234.6" fill="#0000ff"/>
<polygon points="119.4,240.2 123.3,240.2 121.3,236.7" fill="#0000ff"/>
<polygon points="120.3,238.1 124.2,238.1 122.2,234.6" fill="#0000ff"/>
<polygon points="121.2,238.1 125.1,238.1 123.1,234.6" fill="#0000ff"/>
<polygon points="122.0,236.0 126.0,236.0 124.0,232.5" fill="#0000ff"/>
<polygon points="123.0,238.1 126.9,238.1 124.9,234.6" fill="#0000ff"/>
<polygon points="123.9,238.1 127.8,238.1 125.8,234.6" fill="#0000ff"/>
<polygon points="124.8,238.1 128.7,238.1 126.7,234.6" fill="#0000ff"/>
<polygon points="125.7,233.9 129.6,233.9 127.6,230.4" fill="#0000ff"/>
<polygon points="126.6,238.1 130.5,238.1 128.5,234.6" fill="#0000ff"/>
<polygon points="127.5,236.0 131.4,236.0 129.5,232.5" fill="#0000ff"/>
<polygon points="128.4,236.0 132.3,236.0 130.4,232.5" fill="#0000ff"/>
<polygon points="129.3,236.0 133.2,236.0 131.3,232.5" fill="#0000ff"/>
<polygon points="130.2,240.2 134.1,240.2 132.2,236.7" fill="#0000ff"/>
<polygon points="131.1,236.0 135.0,236.0 133.1,232.5" fill="#0000ff"/>
<polygon points="132.0,236.0 136.0,236.0 134.0,232.5" fill="#0000ff"/>
<polygon points="132.9,233.9 136.8,233.9 134.9,230.4" fill="#0000ff"/>
<polygon points="133.8,233.9 137.7,233.9 135.8,230.4" fill="#0000ff"/>
<polygon points="134.7,236.0 138.6,236.0 136.6,232.5" fill="#0000ff"/>
<polygon points="135.5,233.9 139.5,233.9 137.5,230.4" fill="#0000ff"/>
<polygon points="136.4,233.9 140.3,233.9 138.4,230.4" fill="#0000ff"/>
<polygon points="137.3,233.9 141.2,233.9 139.2,230.4" fill="#0000ff"/>
<polygon points="138.2,233.9 142.1,233.9 140.1,230.4" fill="#0000ff"/>
<polygon points="139.0,233.9 143.0,233.9 141.0,230.4" fill="#0000ff"/>
<polygon points="139.9,231.8 143.8,231.8 141.9,228.3" fill="#0000ff"/>
<polygon points="140.8,231.8 144.7,231.8 142.8,228.3" fill="#0000ff"/>
<polygon points="141.7,229.7 145.6,229.7 143.6,226.2" fill="#0000ff"/>
<polygon points="142.5,231.8 146.5,231.8 144.5,228.3" fill="#0000ff"/>
<polygon points="143.4,231.8 147.3,231.8 145.4,228.3" fill="#0000ff"/>
<polygon points="144.3,231.8 148.2,231.8 146.2,228.3" fill="#0000ff"/>
<polygon points="145.2,229.7 149.1,229.7 147.1,226.2" fill="#0000ff"/>
<polygon points="146.0,229.7 150.0,229.7 148.0,226.2" fill="#0000ff"/>
<polygon points="146.9,231.8 150.8,231.8 148.9,228.3" fill="#0000ff"/>
<polygon points="147.8,227.6 151.7,227.6 149.8,224.1" fill="#0000ff"/>
<polygon points="148.7,227.6 152.6,227.6 150.6,224.1" fill="#0000ff"/>
<polygon points="149.5,225.5 153.5,225.5 151.5,222.0" fill="#0000ff"/>
<polygon points="150.4,225.5 154.3,225.5 152.4,222.0" fill="#0000ff"/>
<polygon points="151.3,223.4 155.2,223.4 153.2,219.9" fill="#0000ff"/>
<polygon points="152.2,223.4 156.1,223.4 154.1,219.9" fill="#0000ff"/>
<polygon points="153.0,221.3 157.0,221.3 155.0,217.8" fill="#0000ff"/>
<polygon points="154.0,221.3 157.9,221.3 155.9,217.8" fill="#0000ff"/>
<polygon points="154.9,223.4 158.8,223.4 156.8,219.9" fill="#0000ff"/>
<polygon points="155.8,219.2 159.7,219.2 157.7,215.7" fill="#0000ff"/>
<polygon points="156.7,221.3 160.6,221.3 158.7,217.8" fill="#0000ff"/>
<polygon points="157.6,221.3 161.5,221.3 159.6,217.8" fill="#0000ff"/>
<polygon points="158.5,219.2 162.4,219.2 160.5,215.7" fill="#0000ff"/>
<polygon points="159.4,219.2 163.3,219.2 161.4,215.7" fill="#0000ff"/>
<polygon points="160.3,219.2 164.3,219.2 162.3,215.7" fill="#0000ff"/>
<polygon points="161.2,219.2 165.1,219.2 163.2,215.7" fill="#0000ff"/>
<polygon points="162.1,215.0 166.0,215.0 164.1,211.5" fill="#0000ff"/>
<polygon points="163.0,217.1 166.9,217.1 165.0,213.6" fill="#0000ff"/>
<polygon points="163.9,217.1 167.8,217.1 165.9,213.6" fill="#0000ff"/>
<polygon points="164.8,217.1 168.7,217.1 166.8,213.6" fill="#0000ff"/>
<polygon points="165.7,217.1 169.6,217.1 167.7,213.6" fill="#0000ff"/>
<polygon points="166.6,215.0 170.5,215.0 168.6,211.5" fill="#0000ff"/>
<polygon points="167.5,215.0 171.4,215.0 169.4,211.5" fill="#0000ff"/>
<polygon points="168.4,215.0 172.3,215.0 170.3,211.5" fill="#0000ff"/>
<polygon points="169.3,215.0 173.2,215.0 171.2,211.5" fill="#0000ff"/>
<polygon points="170.2,215.0 174.1,215.0 172.1,211.5" fill="#0000ff"/>
<polygon points="171.1,215.0 175.0,215.0 173.0,211.5" fill="#0000ff"/>
<polygon points="172.0,212.9 175.9,212.9 173.9,209.4" fill="#0000ff"/>
<polygon points="172.9,212.9 176.8,212.9 174.8,209.4" fill="#0000ff"/>
<polygon points="173.8,217.1 177.7,217.1 175.7,213.6" fill="#0000ff"/>
<polygon points="174.6,215.0 178.6,215.0 176.6,211.5" fill="#0000ff"/>
<polygon points="175.5,212.9 179.4,212.9 177.5,209.4" fill="#0000ff"/>
<polygon points="176.4,210.8 180.3,210.8 178.4,207.3" fill="#0000ff"/>
<polygon points="177.3,212.9 181.2,212.9 179.3,209.4" fill="#0000ff"/>
<polygon points="178.2,210.8 182.1,210.8 180.2,207.3" fill="#0000ff"/>
<polygon points="179.1,212.9 183.0,212.9 181.1,209.4" fill="#0000ff"/>
<polygon points="180.0,210.8 183.9,210.8 182.0,207.3" fill="#0000ff"/>
<polygon points="180.9,210.8 184.8,210.8 182.9,207.3" fill="#0000ff"/>
<polygon points="181.8,210.8 185.7,210.8 183.8,207.3" fill="#0000ff"/>
<polygon points="182.7,208.7 186.6,208.7 184.6,205.2" fill="#0000ff"/>
<polygon points="183.6,208.7 187.5,208.7 185.5,205.2" fill="#0000ff"/>
<polygon points="184.5,210.8 188.4,210.8 186.4,207.3" fill="#0000ff"/>
<polygon points="185.4,210.8 189.3,210.8 187.3,207.3" fill="#0000ff"/>
<polygon points="186.3,210.8 190.2,210.8 188.2,207.3" fill="#0000ff"/>
<polygon points="187.2,210.8 191.1,210.8 189.1,207.3" fill="#0000ff"/>
<polygon points="188.1,206.6 192.0,206.6 190.0,203.1" fill="#0000ff"/>
<polygon points="188.9,208.7 192.9,208.7 190.9,205.2" fill="#0000ff"/>
<polygon points="189.8,206.6 193.7,206.6 191.8,203.1" fill="#0000ff"/>
<polygon points="190.7,206.6 194.6,206.6 192.7,203.1" fill="#0000ff"/>
<polygon points="191.6,206.6 195.5,206.6 193.5,203.1" fill="#0000ff"/>
<polygon points="192.5,206.6 196.4,206.6 194.4,203.1" fill="#0000ff"/>
<polygon points="193.4,206.6 197.3,206.6 195.3,203.1" fill="#0000ff"/>
<polygon points="194.2,206.6 198.1,206.6 196.2,203.1" fill="#0000ff"/>
<polygon points="195.1,204.5 199.0,204.5 197.1,201.0" fill="#0000ff"/>
<polygon points="196.0,204.5 199.9,204.5 197.9,201.0" fill="#0000ff"/>
<polygon points="196.9,204.5 200.8,204.5 198.8,201.0" fill="#0000ff"/>
<polygon points="197.8,204.5 201.7,204.5 199.7,201.0" fill="#0000ff"/>
<polygon points="198.6,204.5 202.5,204.5 200.6,201.0" fill="#0000ff"/>
<polygon points="199.5,204.5 203.4,204.5 201.5,201.0" fill="#0000ff"/>
<polygon points="200.4,202.4 204.3,202.4 202.4,198.9" fill="#0000ff"/>
<polygon points="201.3,206.6 205.2,206.6 203.2,203.1" fill="#0000ff"/>
<polygon points="202.2,202.4 206.1,202.4 204.1,198.9" fill="#0000ff"/>
<polygon points="203.0,202.4 207.0,202.4 205.0,198.9" fill="#0000ff"/>
<polygon points="203.9,202.4 207.8,202.4 205.9,198.9" fill="#0000ff"/>
<polygon points="204.8,200.3 208.7,200.3 206.8,196.8" fill="#0000ff"/>
<polygon points="205.7,202.4 209.6,202.4 207.6,198.9" fill="#0000ff"/>
<polygon points="206.5,200.3 210.5,200.3 208.5,196.8" fill="#0000ff"/>
<polygon points="207.4,202.4 211.3,202.4 209.4,198.9" fill="#0000ff"/>
<polygon points="208.3,198.2 212.2,198.2 210.2,194.7" fill="#0000ff"/>
<polygon points="209.2,200.3 213.1,200.3 211.1,196.8" fill="#0000ff"/>
<polygon points="210.0,200.3 214.0,200.3 212.0,196.8" fill="#0000ff"/>
</g>
<g clip-path="url(#pc)">
<polyline fill="none" stroke="#ff0000" stroke-width="0.6" points="70.0,257.6 70.8,253.4 71.7,251.3 72.5,251.3 73.4,251.3 74.3,251.3 75.3,249.2 76.2,249.2 77.1,247.1 78.0,245.0 79.0,242.9 79.9,242.9 80.8,240.8 81.7,240.8 82.6,240.8 83.6,238.7 84.5,238.7 85.4,236.6 86.0,228.2 86.8,228.2 87.7,228.2 88.5,226.1 89.4,228.2 90.2,228.2 91.1,228.2 91.9,226.1 92.9,221.9 93.8,221.9 94.8,219.8 95.7,215.6 96.6,215.6 97.6,213.5 98.5,211.4 99.5,209.3 100.4,209.3 101.4,207.2 102.3,207.2 103.2,209.3 104.1,207.2 105.0,207.2 105.9,205.1 106.8,207.2 107.7,205.1 108.6,205.1 109.5,205.1 110.5,203.0 111.4,203.0 112.3,203.0 113.3,203.0 114.2,203.0 115.1,203.0 116.1,203.0 117.0,200.9 118.0,198.8 119.0,198.8 120.0,196.7 120.9,194.6 121.8,192.5 122.6,190.4 123.5,190.4 124.5,188.3 125.4,186.2 126.3,188.3 127.1,188.3 128.0,186.2 128.8,188.3 129.7,186.2 130.6,188.3 131.4,186.2 132.3,188.3 133.1,188.3 134.0,188.3 134.9,184.1 135.8,184.1 136.7,182.0 137.6,179.9 138.4,179.9 139.3,179.9 140.1,179.9 140.9,179.9 141.8,179.9 142.6,182.0 143.4,179.9 144.3,177.8 145.1,179.9 145.9,177.8 146.8,177.8 147.6,173.6 148.5,177.8 149.3,179.9 150.2,179.9 151.0,179.9 151.9,182.0 152.8,182.0 153.8,179.9 154.8,179.9 155.7,179.9 156.7,177.8 157.6,177.8 158.4,177.8 159.3,175.7 160.1,177.8 160.9,177.8 161.8,177.8 162.6,175.7 163.6,173.6 164.7,169.4 165.7,167.3 166.7,167.3 167.6,167.3 168.6,165.2 169.6,165.2 170.5,163.1 171.5,161.0 172.4,163.1 173.2,158.9 174.1,158.9 174.9,158.9 175.7,156.8 176.6,158.9 177.4,156.8 178.3,156.8 179.3,156.8 180.2,156.8 181.1,156.8 182.1,156.8 183.0,156.8 183.9,156.8 184.8,156.8 185.7,156.8 186.6,154.7 187.4,154.7 188.3,154.7 189.2,156.8 190.1,154.7 191.0,156.8 191.9,156.8 192.8,156.8 193.7,154.7 194.6,156.8 195.4,154.7 196.3,156.8 197.2,154.7 198.1,156.8 199.0,154.7 199.9,156.8 200.8,154.7 201.7,152.6 202.6,154.7 203.5,156.8 204.4,158.9 205.3,158.9 206.2,156.8 207.1,161.0 208.0,158.9 208.8,158.9 209.7,158.9 210.6,158.9 211.5,158.9"/>
<circle cx="70.0" cy="257.6" r="1.65" fill="#ff0000"/>
<circle cx="70.8" cy="253.4" r="1.65" fill="#ff0000"/>
<circle cx="71.7" cy="251.3" r="1.65" fill="#ff0000"/>
<circle cx="72.5" cy="251.3" r="1.65" fill="#ff0000"/>
<circle cx="73.4" cy="251.3" r="1.65" fill="#ff0000"/>
<circle cx="74.3" cy="251.3" r="1.65" fill="#ff0000"/>
<circle cx="75.3" cy="249.2" r="1.65" fill="#ff0000"/>
<circle cx="76.2" cy="249.2" r="1.65" fill="#ff0000"/>
<circle cx="77.1" cy="247.1" r="1.65" fill="#ff0000"/>
<circle cx="78.0" cy="245.0" r="1.65" fill="#ff0000"/>
<circle cx="79.0" cy="242.9" r="1.65" fill="#ff0000"/>
<circle cx="79.9" cy="242.9" r="1.65" fill="#ff0000"/>
<circle cx="80.8" cy="240.8" r="1.65" fill="#ff0000"/>
<circle cx="81.7" cy="240.8" r="1.65" fill="#ff0000"/>
<circle cx="82.6" cy="240.8" r="1.65" fill="#ff0000"/>
<circle cx="83.6" cy="238.7" r="1.65" fill="#ff0000"/>
<circle cx="84.5" cy="238.7" r="1.65" fill="#ff0000"/>
<circle cx="85.4" cy="236.6" r="1.65" fill="#ff0000"/>
<circle cx="86.0" cy="228.2" r="1.65" fill="#ff0000"/>
<circle cx="86.8" cy="228.2" r="1.65" fill="#ff0000"/>
<circle cx="87.7" cy="228.2" r="1.65" fill="#ff0000"/>
<circle cx="88.5" cy="226.1" r="1.65" fill="#ff0000"/>
<circle cx="89.4" cy="228.2" r="1.65" fill="#ff0000"/>
<circle cx="90.2" cy="228.2" r="1.65" fill="#ff0000"/>
<circle cx="91.1" cy="228.2" r="1.65" fill="#ff0000"/>
<circle cx="91.9" cy="226.1" r="1.65" fill="#ff0000"/>
<circle cx="92.9" cy="221.9" r="1.65" fill="#ff0000"/>
<circle cx="93.8" cy="221.9" r="1.65" fill="#ff0000"/>
<circle cx="94.8" cy="219.8" r="1.65" fill="#ff0000"/>
<circle cx="95.7" cy="215.6" r="1.65" fill="#ff0000"/>
<circle cx="96.6" cy="215.6" r="1.65" fill="#ff0000"/>
<circle cx="97.6" cy="213.5" r="1.65" fill="#ff0000"/>
<circle cx="98.5" cy="211.4" r="1.65" fill="#ff0000"/>
<circle cx="99.5" cy="209.3" r="1.65" fill="#ff0000"/>
<circle cx="100.4" cy="209.3" r="1.65" fill="#ff0000"/>
<circle cx="101.4" cy="207.2" r="1.65" fill="#ff0000"/>
<circle cx="102.3" cy="207.2" r="1.65" fill="#ff0000"/>
<circle cx="103.2" cy="209.3" r="1.65" fill="#ff0000"/>
<circle cx="104.1" cy="207.2" r="1.65" fill="#ff0000"/>
<circle cx="105.0" cy="207.2" r="1.65" fill="#ff0000"/>
<circle cx="105.9" cy="205.1" r="1.65" fill="#ff0000"/>
<circle cx="106.8" cy="207.2" r="1.65" fill="#ff0000"/>
<circle cx="107.7" cy="205.1" r="1.65" fill="#ff0000"/>
<circle cx="108.6" cy="205.1" r="1.65" fill="#ff0000"/>
<circle cx="109.5" cy="205.1" r="1.65" fill="#ff0000"/>
<circle cx="110.5" cy="203.0" r="1.65" fill="#ff0000"/>
<circle cx="111.4" cy="203.0" r="1.65" fill="#ff0000"/>
<circle cx="112.3" cy="203.0" r="1.65" fill="#ff0000"/>
<circle cx="113.3" cy="203.0" r="1.65" fill="#ff0000"/>
<circle cx="114.2" cy="203.0" r="1.65" fill="#ff0000"/>
<circle cx="115.1" cy="203.0" r="1.65" fill="#ff0000"/>
<circle cx="116.1" cy="203.0" r="1.65" fill="#ff0000"/>
<circle cx="117.0" cy="200.9" r="1.65" fill="#ff0000"/>
<circle cx="118.0" cy="198.8" r="1.65" fill="#ff0000"/>
<circle cx="119.0" cy="198.8" r="1.65" fill="#ff0000"/>
<circle cx="120.0" cy="196.7" r="1.65" fill="#ff0000"/>
<circle cx="120.9" cy="194.6" r="1.65" fill="#ff0000"/>
<circle cx="121.8" cy="192.5" r="1.65" fill="#ff0000"/>
<circle cx="122.6" cy="190.4" r="1.65" fill="#ff0000"/>
<circle cx="123.5" cy="190.4" r="1.65" fill="#ff0000"/>
<circle cx="124.5" cy="188.3" r="1.65" fill="#ff0000"/>
<circle cx="125.4" cy="186.2" r="1.65" fill="#ff0000"/>
<circle cx="126.3" cy="188.3" r="1.65" fill="#ff0000"/>
<circle cx="127.1" cy="188.3" r="1.65" fill="#ff0000"/>
<circle cx="128.0" cy="186.2" r="1.65" fill="#ff0000"/>
<circle cx="128.8" cy="188.3" r="1.65" fill="#ff0000"/>
<circle cx="129.7" cy="186.2" r="1.65" fill="#ff0000"/>
<circle cx="130.6" cy="188.3" r="1.65" fill="#ff0000"/>
<circle cx="131.4" cy="186.2" r="1.65" fill="#ff0000"/>
<circle cx="132.3" cy="188.3" r="1.65" fill="#ff0000"/>
<circle cx="133.1" cy="188.3" r="1.65" fill="#ff0000"/>
<circle cx="134.0" cy="188.3" r="1.65" fill="#ff0000"/>
<circle cx="134.9" cy="184.1" r="1.65" fill="#ff0000"/>
<circle cx="135.8" cy="184.1" r="1.65" fill="#ff0000"/>
<circle cx="136.7" cy="182.0" r="1.65" fill="#ff0000"/>
<circle cx="137.6" cy="179.9" r="1.65" fill="#ff0000"/>
<circle cx="138.4" cy="179.9" r="1.65" fill="#ff0000"/>
<circle cx="139.3" cy="179.9" r="1.65" fill="#ff0000"/>
<circle cx="140.1" cy="179.9" r="1.65" fill="#ff0000"/>
<circle cx="140.9" cy="179.9" r="1.65" fill="#ff0000"/>
<circle cx="141.8" cy="179.9" r="1.65" fill="#ff0000"/>
<circle cx="142.6" cy="182.0" r="1.65" fill="#ff0000"/>
<circle cx="143.4" cy="179.9" r="1.65" fill="#ff0000"/>
<circle cx="144.3" cy="177.8" r="1.65" fill="#ff0000"/>
<circle cx="145.1" cy="179.9" r="1.65" fill="#ff0000"/>
<circle cx="145.9" cy="177.8" r="1.65" fill="#ff0000"/>
<circle cx="146.8" cy="177.8" r="1.65" fill="#ff0000"/>
<circle cx="147.6" cy="173.6" r="1.65" fill="#ff0000"/>
<circle cx="148.5" cy="177.8" r="1.65" fill="#ff0000"/>
<circle cx="149.3" cy="179.9" r="1.65" fill="#ff0000"/>
<circle cx="150.2" cy="179.9" r="1.65" fill="#ff0000"/>
<circle cx="151.0" cy="179.9" r="1.65" fill="#ff0000"/>
<circle cx="151.9" cy="182.0" r="1.65" fill="#ff0000"/>
<circle cx="152.8" cy="182.0" r="1.65" fill="#ff0000"/>
<circle cx="153.8" cy="179.9" r="1.65" fill="#ff0000"/>
<circle cx="154.8" cy="179.9" r="1.65" fill="#ff0000"/>
<circle cx="155.7" cy="179.9" r="1.65" fill="#ff0000"/>
<circle cx="156.7" cy="177.8" r="1.65" fill="#ff0000"/>
<circle cx="157.6" cy="177.8" r="1.65" fill="#ff0000"/>
<circle cx="158.4" cy="177.8" r="1.65" fill="#ff0000"/>
<circle cx="159.3" cy="175.7" r="1.65" fill="#ff0000"/>
<circle cx="160.1" cy="177.8" r="1.65" fill="#ff0000"/>
<circle cx="160.9" cy="177.8" r="1.65" fill="#ff0000"/>
<circle cx="161.8" cy="177.8" r="1.65" fill="#ff0000"/>
<circle cx="162.6" cy="175.7" r="1.65" fill="#ff0000"/>
<circle cx="163.6" cy="173.6" r="1.65" fill="#ff0000"/>
<circle cx="164.7" cy="169.4" r="1.65" fill="#ff0000"/>
<circle cx="165.7" cy="167.3" r="1.65" fill="#ff0000"/>
<circle cx="166.7" cy="167.3" r="1.65" fill="#ff0000"/>
<circle cx="167.6" cy="167.3" r="1.65" fill="#ff0000"/>
<circle cx="168.6" cy="165.2" r="1.65" fill="#ff0000"/>
<circle cx="169.6" cy="165.2" r="1.65" fill="#ff0000"/>
<circle cx="170.5" cy="163.1" r="1.65" fill="#ff0000"/>
<circle cx="171.5" cy="161.0" r="1.65" fill="#ff0000"/>
<circle cx="172.4" cy="163.1" r="1.65" fill="#ff0000"/>
<circle cx="173.2" cy="158.9" r="1.65" fill="#ff0000"/>
<circle cx="174.1" cy="158.9" r="1.65" fill="#ff0000"/>
<circle cx="174.9" cy="158.9" r="1.65" fill="#ff0000"/>
<circle cx="175.7" cy="156.8" r="1.65" fill="#ff0000"/>
<circle cx="176.6" cy="158.9" r="1.65" fill="#ff0000"/>
<circle cx="177.4" cy="156.8" r="1.65" fill="#ff0000"/>
<circle cx="178.3" cy="156.8" r="1.65" fill="#ff0000"/>
<circle cx="179.3" cy="156.8" r="1.65" fill="#ff0000"/>
<circle cx="180.2" cy="156.8" r="1.65" fill="#ff0000"/>
<circle cx="181.1" cy="156.8" r="1.65" fill="#ff0000"/>
<circle cx="182.1" cy="156.8" r="1.65" fill="#ff0000"/>
<circle cx="183.0" cy="156.8" r="1.65" fill="#ff0000"/>
<circle cx="183.9" cy="156.8" r="1.65" fill="#ff0000"/>
<circle cx="184.8" cy="156.8" r="1.65" fill="#ff0000"/>
<circle cx="185.7" cy="156.8" r="1.65" fill="#ff0000"/>
<circle cx="186.6" cy="154.7" r="1.65" fill="#ff0000"/>
<circle cx="187.4" cy="154.7" r="1.65" fill="#ff0000"/>
<circle cx="188.3" cy="154.7" r="1.65" fill="#ff0000"/>
<circle cx="189.2" cy="156.8" r="1.65" fill="#ff0000"/>
<circle cx="190.1" cy="154.7" r="1.65" fill="#ff0000"/>
<circle cx="191.0" cy="156.8" r="1.65" fill="#ff0000"/>
<circle cx="191.9" cy="156.8" r="1.65" fill="#ff0000"/>
<circle cx="192.8" cy="156.8" r="1.65" fill="#ff0000"/>
<circle cx="193.7" cy="154.7" r="1.65" fill="#ff0000"/>
<circle cx="194.6" cy="156.8" r="1.65" fill="#ff0000"/>
<circle cx="195.4" cy="154.7" r="1.65" fill="#ff0000"/>
<circle cx="196.3" cy="156.8" r="1.65" fill="#ff0000"/>
<circle cx="197.2" cy="154.7" r="1.65" fill="#ff0000"/>
<circle cx="198.1" cy="156.8" r="1.65" fill="#ff0000"/>
<circle cx="199.0" cy="154.7" r="1.65" fill="#ff0000"/>
<circle cx="199.9" cy="156.8" r="1.65" fill="#ff0000"/>
<circle cx="200.8" cy="154.7" r="1.65" fill="#ff0000"/>
<circle cx="201.7" cy="152.6" r="1.65" fill="#ff0000"/>
<circle cx="202.6" cy="154.7" r="1.65" fill="#ff0000"/>
<circle cx="203.5" cy="156.8" r="1.65" fill="#ff0000"/>
<circle cx="204.4" cy="158.9" r="1.65" fill="#ff0000"/>
<circle cx="205.3" cy="158.9" r="1.65" fill="#ff0000"/>
<circle cx="206.2" cy="156.8" r="1.65" fill="#ff0000"/>
<circle cx="207.1" cy="161.0" r="1.65" fill="#ff0000"/>
<circle cx="208.0" cy="158.9" r="1.65" fill="#ff0000"/>
<circle cx="208.8" cy="158.9" r="1.65" fill="#ff0000"/>
<circle cx="209.7" cy="158.9" r="1.65" fill="#ff0000"/>
<circle cx="210.6" cy="158.9" r="1.65" fill="#ff0000"/>
<circle cx="211.5" cy="158.9" r="1.65" fill="#ff0000"/>
</g>
<line x1="90.4" y1="199" x2="90.4" y2="174" stroke="#4fb0b0" stroke-width="0.6"/>
<g clip-path="url(#pc)">
<polyline fill="none" stroke="#008080" stroke-width="0.6" points="66.0,255.6 68.2,253.7 68.8,250.9 68.5,249.9 70.7,247.4 71.6,244.9 72.1,242.8 73.0,242.7 74.0,238.1 74.0,235.7 74.7,234.9 76.7,231.9 77.9,229.6 77.7,227.9 79.1,225.4 81.1,224.2 81.9,220.7 82.4,219.8 82.3,217.4 83.6,214.5 85.0,213.0 85.3,209.9 87.3,208.7 88.4,205.4 87.3,203.7 88.7,201.1 90.0,199.0"/>
<polygon points="63.8,253.9 68.2,253.9 66.0,257.9" fill="#008080"/>
<polygon points="66.0,252.0 70.4,252.0 68.2,256.0" fill="#008080"/>
<polygon points="66.6,249.2 71.0,249.2 68.8,253.2" fill="#008080"/>
<polygon points="66.4,248.2 70.7,248.2 68.5,252.2" fill="#008080"/>
<polygon points="68.5,245.7 72.9,245.7 70.7,249.7" fill="#008080"/>
<polygon points="69.4,243.2 73.7,243.2 71.6,247.2" fill="#008080"/>
<polygon points="69.9,241.1 74.3,241.1 72.1,245.1" fill="#008080"/>
<polygon points="70.8,241.0 75.2,241.0 73.0,245.0" fill="#008080"/>
<polygon points="71.8,236.4 76.2,236.4 74.0,240.4" fill="#008080"/>
<polygon points="71.8,234.0 76.2,234.0 74.0,238.0" fill="#008080"/>
<polygon points="72.5,233.2 76.9,233.2 74.7,237.2" fill="#008080"/>
<polygon points="74.5,230.2 78.9,230.2 76.7,234.2" fill="#008080"/>
<polygon points="75.7,227.8 80.1,227.8 77.9,231.8" fill="#008080"/>
<polygon points="75.5,226.2 79.9,226.2 77.7,230.2" fill="#008080"/>
<polygon points="76.9,223.7 81.3,223.7 79.1,227.7" fill="#008080"/>
<polygon points="79.0,222.5 83.3,222.5 81.1,226.5" fill="#008080"/>
<polygon points="79.7,219.0 84.1,219.0 81.9,223.0" fill="#008080"/>
<polygon points="80.2,218.0 84.6,218.0 82.4,222.0" fill="#008080"/>
<polygon points="80.1,215.6 84.5,215.6 82.3,219.6" fill="#008080"/>
<polygon points="81.4,212.8 85.8,212.8 83.6,216.8" fill="#008080"/>
<polygon points="82.8,211.3 87.1,211.3 85.0,215.3" fill="#008080"/>
<polygon points="83.1,208.2 87.4,208.2 85.3,212.2" fill="#008080"/>
<polygon points="85.2,207.0 89.5,207.0 87.3,211.0" fill="#008080"/>
<polygon points="86.2,203.7 90.6,203.7 88.4,207.6" fill="#008080"/>
<polygon points="85.1,202.0 89.5,202.0 87.3,206.0" fill="#008080"/>
<polygon points="86.5,199.4 90.9,199.4 88.7,203.4" fill="#008080"/>
<polygon points="87.8,197.3 92.2,197.3 90.0,201.3" fill="#008080"/>
</g>
<g clip-path="url(#pc)">
<polyline fill="none" stroke="#008080" stroke-width="0.6" points="91.0,174.4 93.3,172.1 92.6,169.3 94.7,167.9 95.2,167.1 95.8,163.9 97.9,162.8 98.8,161.0 98.6,158.6 100.6,156.8 100.3,155.3 101.5,153.3 101.3,152.4 103.8,148.8 103.1,147.2 106.3,145.8 105.4,144.5 107.7,141.6 108.4,139.8 109.0,138.0"/>
<polygon points="88.7,172.6 93.3,172.6 91.0,176.8" fill="#008080"/>
<polygon points="91.0,170.3 95.6,170.3 93.3,174.5" fill="#008080"/>
<polygon points="90.3,167.5 94.9,167.5 92.6,171.7" fill="#008080"/>
<polygon points="92.4,166.1 97.0,166.1 94.7,170.3" fill="#008080"/>
<polygon points="92.9,165.3 97.5,165.3 95.2,169.5" fill="#008080"/>
<polygon points="93.5,162.1 98.1,162.1 95.8,166.3" fill="#008080"/>
<polygon points="95.6,161.0 100.2,161.0 97.9,165.2" fill="#008080"/>
<polygon points="96.5,159.2 101.1,159.2 98.8,163.4" fill="#008080"/>
<polygon points="96.3,156.8 100.9,156.8 98.6,161.0" fill="#008080"/>
<polygon points="98.3,155.0 102.9,155.0 100.6,159.2" fill="#008080"/>
<polygon points="98.0,153.5 102.6,153.5 100.3,157.7" fill="#008080"/>
<polygon points="99.2,151.5 103.8,151.5 101.5,155.7" fill="#008080"/>
<polygon points="99.0,150.6 103.6,150.6 101.3,154.8" fill="#008080"/>
<polygon points="101.5,147.0 106.1,147.0 103.8,151.2" fill="#008080"/>
<polygon points="100.8,145.4 105.4,145.4 103.1,149.6" fill="#008080"/>
<polygon points="104.0,144.0 108.6,144.0 106.3,148.2" fill="#008080"/>
<polygon points="103.1,142.7 107.7,142.7 105.4,146.9" fill="#008080"/>
<polygon points="105.4,139.8 110.0,139.8 107.7,144.0" fill="#008080"/>
<polygon points="106.1,138.0 110.7,138.0 108.4,142.2" fill="#008080"/>
<polygon points="106.7,136.2 111.3,136.2 109.0,140.4" fill="#008080"/>
</g>
<path d="M30.2,253V142.2H211.8V253" fill="none" stroke="#000" stroke-width="1.3"/>
<line x1="30.2" y1="236.6" x2="33.2" y2="236.6" stroke="#000" stroke-width="1"/>
<text x="26.7" y="239.7" font-size="9.5" font-weight="bold" text-anchor="end">20</text>
<line x1="30.2" y1="226.1" x2="32.0" y2="226.1" stroke="#000" stroke-width="1"/>
<line x1="30.2" y1="215.6" x2="33.2" y2="215.6" stroke="#000" stroke-width="1"/>
<text x="26.7" y="218.7" font-size="9.5" font-weight="bold" text-anchor="end">30</text>
<line x1="30.2" y1="205.1" x2="32.0" y2="205.1" stroke="#000" stroke-width="1"/>
<line x1="30.2" y1="194.6" x2="33.2" y2="194.6" stroke="#000" stroke-width="1"/>
<text x="26.7" y="197.7" font-size="9.5" font-weight="bold" text-anchor="end">40</text>
<line x1="30.2" y1="184.1" x2="32.0" y2="184.1" stroke="#000" stroke-width="1"/>
<line x1="30.2" y1="173.6" x2="33.2" y2="173.6" stroke="#000" stroke-width="1"/>
<text x="26.7" y="176.7" font-size="9.5" font-weight="bold" text-anchor="end">50</text>
<line x1="30.2" y1="163.1" x2="32.0" y2="163.1" stroke="#000" stroke-width="1"/>
<line x1="30.2" y1="152.6" x2="33.2" y2="152.6" stroke="#000" stroke-width="1"/>
<text x="26.7" y="155.7" font-size="9.5" font-weight="bold" text-anchor="end">60</text>
<line x1="30.2" y1="142.1" x2="32.0" y2="142.1" stroke="#000" stroke-width="1"/>
<text transform="translate(8,249.3) rotate(-90)" font-size="9" font-weight="bold" textLength="106.6" lengthAdjust="spacingAndGlyphs">of Cu particles migration</text>
<rect x="39.2" y="145.5" width="39.8" height="45.3" fill="#fff" stroke="#a8a8a8" stroke-width="0.9"/>
<line x1="41" y1="152.8" x2="55" y2="152.8" stroke="#bdbdbd" stroke-width="0.8"/>
<rect x="46.0" y="151.1" width="3.5" height="3.5" fill="#000"/>
<text x="57.8" y="155.1" font-size="8.5" font-weight="bold">[001]</text>
<line x1="41" y1="164.2" x2="55" y2="164.2" stroke="#ff9a9a" stroke-width="0.8"/>
<circle cx="47.8" cy="164.2" r="1.75" fill="#ff0000"/>
<text x="57.8" y="166.5" font-size="8.5" font-weight="bold">[110]</text>
<line x1="41" y1="175.7" x2="55" y2="175.7" stroke="#a0a0ff" stroke-width="0.8"/>
<polygon points="45.8,177.2 49.8,177.2 47.8,173.6" fill="#0000ff"/>
<text x="57.8" y="178.0" font-size="8.5" font-weight="bold">[111]</text>
<line x1="41" y1="187.1" x2="55" y2="187.1" stroke="#8fd0d0" stroke-width="0.8"/>
<polygon points="45.8,185.5 49.8,185.5 47.8,189.2" fill="#008080"/>
<text x="57.8" y="189.4" font-size="8.5" font-weight="bold">[120]</text>
<g clip-path="url(#pd)">
<polyline fill="none" stroke="#0000ff" stroke-width="0.6" points="350.0,255.9 350.8,255.9 351.6,256.0 352.4,255.1 353.2,256.1 354.0,255.9 354.8,254.9 355.6,254.8 356.4,254.3 357.2,254.3 358.0,253.7 358.8,254.2 359.6,253.6 360.4,253.2 361.2,253.3 362.0,253.6 362.8,253.3 363.6,253.7 364.4,252.7 365.2,252.9 366.0,252.3 366.8,252.8 367.6,253.0 368.4,252.6 369.2,251.6 370.1,251.5 370.9,251.9 371.7,251.9 372.5,251.8 373.3,251.8 374.1,251.1 374.9,251.5 375.7,250.7 376.5,251.0 377.3,250.7 378.2,251.5 379.0,251.5 379.8,250.3 380.6,250.4 381.4,250.7 382.2,250.4 383.0,250.7 383.8,250.2 384.6,250.9 385.4,250.4 386.3,250.5 387.1,249.6 387.9,250.7 388.7,249.4 389.5,249.7 390.3,249.3 391.1,250.1 391.9,249.4 392.8,249.5 393.6,248.8 394.4,248.5 395.2,250.0 396.0,249.2 396.8,248.4 397.6,248.9 398.4,249.0 399.2,249.1 400.1,248.1 400.9,248.2 401.7,248.5 402.5,248.1 403.3,248.8 404.1,248.3 404.9,247.9 405.8,248.0 406.6,248.3 407.4,248.1 408.2,247.1 409.0,248.1 409.8,247.4 410.6,247.3 411.4,248.1 412.2,247.6 412.9,247.4 413.7,246.4 414.5,247.1 415.3,246.2 416.1,246.1 416.9,245.6 417.7,246.6 418.5,246.4 419.3,245.4 420.1,245.4 420.9,245.4 421.6,245.1 422.4,245.0 423.2,244.4 424.0,245.1 424.8,244.6 425.6,244.3 426.4,244.6 427.2,244.4 428.0,244.2 428.8,244.9 429.6,244.7 430.4,244.0 431.2,244.5 432.0,244.1 432.8,244.6 433.6,242.7 434.4,243.6 435.2,243.7 436.0,244.4 436.8,243.6"/>
<polygon points="348.4,257.1 351.6,257.1 350.0,254.3" fill="#0000ff"/>
<polygon points="349.2,257.1 352.4,257.1 350.8,254.3" fill="#0000ff"/>
<polygon points="350.0,257.2 353.2,257.2 351.6,254.4" fill="#0000ff"/>
<polygon points="350.8,256.3 354.0,256.3 352.4,253.5" fill="#0000ff"/>
<polygon points="351.6,257.3 354.8,257.3 353.2,254.5" fill="#0000ff"/>
<polygon points="352.4,257.1 355.6,257.1 354.0,254.3" fill="#0000ff"/>
<polygon points="353.2,256.1 356.4,256.1 354.8,253.3" fill="#0000ff"/>
<polygon points="354.0,256.0 357.2,256.0 355.6,253.2" fill="#0000ff"/>
<polygon points="354.8,255.5 358.0,255.5 356.4,252.7" fill="#0000ff"/>
<polygon points="355.6,255.6 358.8,255.6 357.2,252.7" fill="#0000ff"/>
<polygon points="356.4,254.9 359.6,254.9 358.0,252.1" fill="#0000ff"/>
<polygon points="357.2,255.4 360.4,255.4 358.8,252.6" fill="#0000ff"/>
<polygon points="358.0,254.8 361.2,254.8 359.6,252.0" fill="#0000ff"/>
<polygon points="358.8,254.5 362.0,254.5 360.4,251.6" fill="#0000ff"/>
<polygon points="359.6,254.5 362.8,254.5 361.2,251.6" fill="#0000ff"/>
<polygon points="360.4,254.8 363.6,254.8 362.0,252.0" fill="#0000ff"/>
<polygon points="361.2,254.5 364.4,254.5 362.8,251.7" fill="#0000ff"/>
<polygon points="362.0,255.0 365.2,255.0 363.6,252.1" fill="#0000ff"/>
<polygon points="362.8,253.9 366.0,253.9 364.4,251.1" fill="#0000ff"/>
<polygon points="363.6,254.1 366.8,254.1 365.2,251.3" fill="#0000ff"/>
<polygon points="364.4,253.6 367.6,253.6 366.0,250.7" fill="#0000ff"/>
<polygon points="365.3,254.0 368.4,254.0 366.8,251.2" fill="#0000ff"/>
<polygon points="366.1,254.2 369.2,254.2 367.6,251.4" fill="#0000ff"/>
<polygon points="366.9,253.8 370.0,253.8 368.4,251.0" fill="#0000ff"/>
<polygon points="367.7,252.8 370.8,252.8 369.2,250.0" fill="#0000ff"/>
<polygon points="368.5,252.8 371.6,252.8 370.1,249.9" fill="#0000ff"/>
<polygon points="369.3,253.1 372.4,253.1 370.9,250.3" fill="#0000ff"/>
<polygon points="370.1,253.1 373.2,253.1 371.7,250.3" fill="#0000ff"/>
<polygon points="370.9,253.0 374.0,253.0 372.5,250.2" fill="#0000ff"/>
<polygon points="371.7,253.0 374.8,253.0 373.3,250.1" fill="#0000ff"/>
<polygon points="372.6,252.3 375.7,252.3 374.1,249.4" fill="#0000ff"/>
<polygon points="373.4,252.7 376.5,252.7 374.9,249.9" fill="#0000ff"/>
<polygon points="374.2,251.9 377.3,251.9 375.7,249.1" fill="#0000ff"/>
<polygon points="375.0,252.2 378.1,252.2 376.5,249.3" fill="#0000ff"/>
<polygon points="375.8,252.0 378.9,252.0 377.3,249.1" fill="#0000ff"/>
<polygon points="376.6,252.7 379.7,252.7 378.2,249.9" fill="#0000ff"/>
<polygon points="377.4,252.8 380.5,252.8 379.0,249.9" fill="#0000ff"/>
<polygon points="378.2,251.5 381.3,251.5 379.8,248.7" fill="#0000ff"/>
<polygon points="379.0,251.6 382.1,251.6 380.6,248.8" fill="#0000ff"/>
<polygon points="379.8,252.0 382.9,252.0 381.4,249.1" fill="#0000ff"/>
<polygon points="380.7,251.6 383.8,251.6 382.2,248.7" fill="#0000ff"/>
<polygon points="381.5,251.9 384.6,251.9 383.0,249.1" fill="#0000ff"/>
<polygon points="382.3,251.4 385.4,251.4 383.8,248.6" fill="#0000ff"/>
<polygon points="383.1,252.1 386.2,252.1 384.6,249.3" fill="#0000ff"/>
<polygon points="383.9,251.6 387.0,251.6 385.4,248.8" fill="#0000ff"/>
<polygon points="384.7,251.8 387.8,251.8 386.3,248.9" fill="#0000ff"/>
<polygon points="385.5,250.9 388.6,250.9 387.1,248.0" fill="#0000ff"/>
<polygon points="386.3,251.9 389.4,251.9 387.9,249.1" fill="#0000ff"/>
<polygon points="387.1,250.7 390.2,250.7 388.7,247.8" fill="#0000ff"/>
<polygon points="387.9,250.9 391.1,250.9 389.5,248.1" fill="#0000ff"/>
<polygon points="388.8,250.5 391.9,250.5 390.3,247.7" fill="#0000ff"/>
<polygon points="389.6,251.3 392.7,251.3 391.1,248.4" fill="#0000ff"/>
<polygon points="390.4,250.6 393.5,250.6 391.9,247.8" fill="#0000ff"/>
<polygon points="391.2,250.7 394.3,250.7 392.8,247.9" fill="#0000ff"/>
<polygon points="392.0,250.0 395.1,250.0 393.6,247.1" fill="#0000ff"/>
<polygon points="392.8,249.7 395.9,249.7 394.4,246.9" fill="#0000ff"/>
<polygon points="393.6,251.2 396.7,251.2 395.2,248.4" fill="#0000ff"/>
<polygon points="394.4,250.4 397.6,250.4 396.0,247.6" fill="#0000ff"/>
<polygon points="395.3,249.6 398.4,249.6 396.8,246.7" fill="#0000ff"/>
<polygon points="396.1,250.1 399.2,250.1 397.6,247.2" fill="#0000ff"/>
<polygon points="396.9,250.2 400.0,250.2 398.4,247.3" fill="#0000ff"/>
<polygon points="397.7,250.3 400.8,250.3 399.2,247.5" fill="#0000ff"/>
<polygon points="398.5,249.3 401.6,249.3 400.1,246.5" fill="#0000ff"/>
<polygon points="399.3,249.4 402.4,249.4 400.9,246.6" fill="#0000ff"/>
<polygon points="400.1,249.8 403.2,249.8 401.7,246.9" fill="#0000ff"/>
<polygon points="400.9,249.3 404.1,249.3 402.5,246.5" fill="#0000ff"/>
<polygon points="401.8,250.0 404.9,250.0 403.3,247.2" fill="#0000ff"/>
<polygon points="402.6,249.5 405.7,249.5 404.1,246.7" fill="#0000ff"/>
<polygon points="403.4,249.2 406.5,249.2 404.9,246.3" fill="#0000ff"/>
<polygon points="404.2,249.3 407.3,249.3 405.8,246.4" fill="#0000ff"/>
<polygon points="405.0,249.5 408.1,249.5 406.6,246.7" fill="#0000ff"/>
<polygon points="405.8,249.3 408.9,249.3 407.4,246.5" fill="#0000ff"/>
<polygon points="406.6,248.3 409.7,248.3 408.2,245.5" fill="#0000ff"/>
<polygon points="407.4,249.3 410.6,249.3 409.0,246.5" fill="#0000ff"/>
<polygon points="408.2,248.6 411.3,248.6 409.8,245.7" fill="#0000ff"/>
<polygon points="409.0,248.5 412.1,248.5 410.6,245.7" fill="#0000ff"/>
<polygon points="409.8,249.3 412.9,249.3 411.4,246.5" fill="#0000ff"/>
<polygon points="410.6,248.8 413.7,248.8 412.2,246.0" fill="#0000ff"/>
<polygon points="411.4,248.7 414.5,248.7 412.9,245.8" fill="#0000ff"/>
<polygon points="412.2,247.6 415.3,247.6 413.7,244.8" fill="#0000ff"/>
<polygon points="413.0,248.3 416.1,248.3 414.5,245.4" fill="#0000ff"/>
<polygon points="413.8,247.5 416.9,247.5 415.3,244.6" fill="#0000ff"/>
<polygon points="414.6,247.3 417.7,247.3 416.1,244.5" fill="#0000ff"/>
<polygon points="415.3,246.8 418.5,246.8 416.9,244.0" fill="#0000ff"/>
<polygon points="416.1,247.9 419.2,247.9 417.7,245.0" fill="#0000ff"/>
<polygon points="416.9,247.7 420.0,247.7 418.5,244.8" fill="#0000ff"/>
<polygon points="417.7,246.6 420.8,246.6 419.3,243.7" fill="#0000ff"/>
<polygon points="418.5,246.6 421.6,246.6 420.1,243.8" fill="#0000ff"/>
<polygon points="419.3,246.7 422.4,246.7 420.9,243.8" fill="#0000ff"/>
<polygon points="420.1,246.3 423.2,246.3 421.6,243.5" fill="#0000ff"/>
<polygon points="420.9,246.2 424.0,246.2 422.4,243.4" fill="#0000ff"/>
<polygon points="421.7,245.6 424.8,245.6 423.2,242.8" fill="#0000ff"/>
<polygon points="422.5,246.3 425.6,246.3 424.0,243.5" fill="#0000ff"/>
<polygon points="423.2,245.8 426.4,245.8 424.8,243.0" fill="#0000ff"/>
<polygon points="424.0,245.5 427.2,245.5 425.6,242.7" fill="#0000ff"/>
<polygon points="424.8,245.8 428.0,245.8 426.4,242.9" fill="#0000ff"/>
<polygon points="425.6,245.6 428.8,245.6 427.2,242.8" fill="#0000ff"/>
<polygon points="426.4,245.4 429.6,245.4 428.0,242.5" fill="#0000ff"/>
<polygon points="427.2,246.1 430.4,246.1 428.8,243.2" fill="#0000ff"/>
<polygon points="428.0,245.9 431.2,245.9 429.6,243.1" fill="#0000ff"/>
<polygon points="428.8,245.2 432.0,245.2 430.4,242.4" fill="#0000ff"/>
<polygon points="429.6,245.7 432.8,245.7 431.2,242.9" fill="#0000ff"/>
<polygon points="430.4,245.3 433.6,245.3 432.0,242.4" fill="#0000ff"/>
<polygon points="431.2,245.8 434.4,245.8 432.8,243.0" fill="#0000ff"/>
<polygon points="432.0,243.9 435.2,243.9 433.6,241.0" fill="#0000ff"/>
<polygon points="432.8,244.9 436.0,244.9 434.4,242.0" fill="#0000ff"/>
<polygon points="433.6,244.9 436.8,244.9 435.2,242.0" fill="#0000ff"/>
<polygon points="434.4,245.6 437.6,245.6 436.0,242.8" fill="#0000ff"/>
<polygon points="435.2,244.8 438.4,244.8 436.8,242.0" fill="#0000ff"/>
</g>
<g clip-path="url(#pd)">
<polyline fill="none" stroke="#000" stroke-width="0.6" points="296.0,258.5 296.9,257.2 297.9,256.9 298.9,256.0 299.8,257.9 300.8,256.2 301.7,253.5 302.6,254.3 303.4,252.7 304.3,254.4 305.1,252.0 306.0,250.7 306.9,252.0 307.7,250.6 308.6,250.5 309.4,250.3 310.3,250.8 311.2,248.9 312.1,248.6 313.0,247.8 313.9,248.6 314.8,250.9 315.7,247.5 316.6,246.2 317.5,246.1 318.3,244.6 319.2,246.4 320.1,243.3 321.0,243.0 321.9,243.4 322.8,242.6 323.7,241.4 324.6,240.8 325.5,241.2 326.4,240.8 327.3,237.6 328.1,239.5 329.0,236.4 329.9,236.2 330.8,236.7 331.7,236.9 332.6,235.3 333.5,235.5 334.4,232.6 335.3,234.8 336.2,232.6 337.1,233.2 338.0,230.3 338.9,231.8 339.8,232.8 340.7,230.5 341.6,229.5 342.4,228.4 343.3,228.8 344.2,228.8 345.1,227.9 346.0,229.1 346.9,225.2 347.8,224.9 348.7,224.8 349.6,220.2 350.5,222.0 351.4,220.8 352.3,220.3 353.3,222.2 354.2,217.8 355.1,217.8 356.0,217.1 356.8,219.7 357.7,218.8 358.5,214.1 359.4,215.0 360.3,214.6 361.2,213.0 362.1,214.3 362.9,212.7 363.8,213.9 364.7,215.4 365.6,212.0 366.5,210.9 367.4,213.0 368.2,211.2 369.1,211.5 369.9,212.5 370.8,210.4 371.6,210.5 372.5,210.4 373.4,211.7 374.4,211.0 375.3,213.1 376.2,210.8 377.2,211.3 378.1,211.1 379.1,213.1 380.0,212.9 380.9,211.6 381.7,214.5 382.6,214.6 383.4,213.5 384.2,213.7 385.1,216.0 385.9,217.1 386.8,215.5 387.7,215.0 388.6,217.5 389.5,214.8 390.4,215.7 391.2,215.0 392.1,212.7 393.0,215.2 393.9,213.3 394.8,211.4 395.7,213.2 396.6,211.5 397.5,211.0 398.4,205.9 399.3,209.7 400.1,208.3 401.0,209.2 401.9,207.8 402.8,207.8 403.7,204.9 404.6,206.8 405.5,205.8 406.4,207.8 407.3,205.2 408.2,203.8 409.1,206.1 410.0,206.3 410.9,206.0 411.8,205.2 412.7,208.7 413.6,205.8 414.5,205.6 415.4,206.8 416.3,208.3 417.2,209.4 418.1,204.7 418.9,204.5 419.8,205.3 420.7,207.8 421.6,203.6 422.5,206.8 423.4,204.1 424.3,206.0 425.2,203.8 426.1,204.7 426.9,203.0 427.8,204.7 428.7,204.5 429.6,205.6 430.5,205.5 431.4,203.5 432.3,201.2 433.2,201.0 434.1,201.4 435.0,196.6 435.9,196.5 436.8,197.0"/>
<circle cx="296.0" cy="258.5" r="1.25" fill="#000"/>
<circle cx="296.9" cy="257.2" r="1.25" fill="#000"/>
<circle cx="297.9" cy="256.9" r="1.25" fill="#000"/>
<circle cx="298.9" cy="256.0" r="1.25" fill="#000"/>
<circle cx="299.8" cy="257.9" r="1.25" fill="#000"/>
<circle cx="300.8" cy="256.2" r="1.25" fill="#000"/>
<circle cx="301.7" cy="253.5" r="1.25" fill="#000"/>
<circle cx="302.6" cy="254.3" r="1.25" fill="#000"/>
<circle cx="303.4" cy="252.7" r="1.25" fill="#000"/>
<circle cx="304.3" cy="254.4" r="1.25" fill="#000"/>
<circle cx="305.1" cy="252.0" r="1.25" fill="#000"/>
<circle cx="306.0" cy="250.7" r="1.25" fill="#000"/>
<circle cx="306.9" cy="252.0" r="1.25" fill="#000"/>
<circle cx="307.7" cy="250.6" r="1.25" fill="#000"/>
<circle cx="308.6" cy="250.5" r="1.25" fill="#000"/>
<circle cx="309.4" cy="250.3" r="1.25" fill="#000"/>
<circle cx="310.3" cy="250.8" r="1.25" fill="#000"/>
<circle cx="311.2" cy="248.9" r="1.25" fill="#000"/>
<circle cx="312.1" cy="248.6" r="1.25" fill="#000"/>
<circle cx="313.0" cy="247.8" r="1.25" fill="#000"/>
<circle cx="313.9" cy="248.6" r="1.25" fill="#000"/>
<circle cx="314.8" cy="250.9" r="1.25" fill="#000"/>
<circle cx="315.7" cy="247.5" r="1.25" fill="#000"/>
<circle cx="316.6" cy="246.2" r="1.25" fill="#000"/>
<circle cx="317.5" cy="246.1" r="1.25" fill="#000"/>
<circle cx="318.3" cy="244.6" r="1.25" fill="#000"/>
<circle cx="319.2" cy="246.4" r="1.25" fill="#000"/>
<circle cx="320.1" cy="243.3" r="1.25" fill="#000"/>
<circle cx="321.0" cy="243.0" r="1.25" fill="#000"/>
<circle cx="321.9" cy="243.4" r="1.25" fill="#000"/>
<circle cx="322.8" cy="242.6" r="1.25" fill="#000"/>
<circle cx="323.7" cy="241.4" r="1.25" fill="#000"/>
<circle cx="324.6" cy="240.8" r="1.25" fill="#000"/>
<circle cx="325.5" cy="241.2" r="1.25" fill="#000"/>
<circle cx="326.4" cy="240.8" r="1.25" fill="#000"/>
<circle cx="327.3" cy="237.6" r="1.25" fill="#000"/>
<circle cx="328.1" cy="239.5" r="1.25" fill="#000"/>
<circle cx="329.0" cy="236.4" r="1.25" fill="#000"/>
<circle cx="329.9" cy="236.2" r="1.25" fill="#000"/>
<circle cx="330.8" cy="236.7" r="1.25" fill="#000"/>
<circle cx="331.7" cy="236.9" r="1.25" fill="#000"/>
<circle cx="332.6" cy="235.3" r="1.25" fill="#000"/>
<circle cx="333.5" cy="235.5" r="1.25" fill="#000"/>
<circle cx="334.4" cy="232.6" r="1.25" fill="#000"/>
<circle cx="335.3" cy="234.8" r="1.25" fill="#000"/>
<circle cx="336.2" cy="232.6" r="1.25" fill="#000"/>
<circle cx="337.1" cy="233.2" r="1.25" fill="#000"/>
<circle cx="338.0" cy="230.3" r="1.25" fill="#000"/>
<circle cx="338.9" cy="231.8" r="1.25" fill="#000"/>
<circle cx="339.8" cy="232.8" r="1.25" fill="#000"/>
<circle cx="340.7" cy="230.5" r="1.25" fill="#000"/>
<circle cx="341.6" cy="229.5" r="1.25" fill="#000"/>
<circle cx="342.4" cy="228.4" r="1.25" fill="#000"/>
<circle cx="343.3" cy="228.8" r="1.25" fill="#000"/>
<circle cx="344.2" cy="228.8" r="1.25" fill="#000"/>
<circle cx="345.1" cy="227.9" r="1.25" fill="#000"/>
<circle cx="346.0" cy="229.1" r="1.25" fill="#000"/>
<circle cx="346.9" cy="225.2" r="1.25" fill="#000"/>
<circle cx="347.8" cy="224.9" r="1.25" fill="#000"/>
<circle cx="348.7" cy="224.8" r="1.25" fill="#000"/>
<circle cx="349.6" cy="220.2" r="1.25" fill="#000"/>
<circle cx="350.5" cy="222.0" r="1.25" fill="#000"/>
<circle cx="351.4" cy="220.8" r="1.25" fill="#000"/>
<circle cx="352.3" cy="220.3" r="1.25" fill="#000"/>
<circle cx="353.3" cy="222.2" r="1.25" fill="#000"/>
<circle cx="354.2" cy="217.8" r="1.25" fill="#000"/>
<circle cx="355.1" cy="217.8" r="1.25" fill="#000"/>
<circle cx="356.0" cy="217.1" r="1.25" fill="#000"/>
<circle cx="356.8" cy="219.7" r="1.25" fill="#000"/>
<circle cx="357.7" cy="218.8" r="1.25" fill="#000"/>
<circle cx="358.5" cy="214.1" r="1.25" fill="#000"/>
<circle cx="359.4" cy="215.0" r="1.25" fill="#000"/>
<circle cx="360.3" cy="214.6" r="1.25" fill="#000"/>
<circle cx="361.2" cy="213.0" r="1.25" fill="#000"/>
<circle cx="362.1" cy="214.3" r="1.25" fill="#000"/>
<circle cx="362.9" cy="212.7" r="1.25" fill="#000"/>
<circle cx="363.8" cy="213.9" r="1.25" fill="#000"/>
<circle cx="364.7" cy="215.4" r="1.25" fill="#000"/>
<circle cx="365.6" cy="212.0" r="1.25" fill="#000"/>
<circle cx="366.5" cy="210.9" r="1.25" fill="#000"/>
<circle cx="367.4" cy="213.0" r="1.25" fill="#000"/>
<circle cx="368.2" cy="211.2" r="1.25" fill="#000"/>
<circle cx="369.1" cy="211.5" r="1.25" fill="#000"/>
<circle cx="369.9" cy="212.5" r="1.25" fill="#000"/>
<circle cx="370.8" cy="210.4" r="1.25" fill="#000"/>
<circle cx="371.6" cy="210.5" r="1.25" fill="#000"/>
<circle cx="372.5" cy="210.4" r="1.25" fill="#000"/>
<circle cx="373.4" cy="211.7" r="1.25" fill="#000"/>
<circle cx="374.4" cy="211.0" r="1.25" fill="#000"/>
<circle cx="375.3" cy="213.1" r="1.25" fill="#000"/>
<circle cx="376.2" cy="210.8" r="1.25" fill="#000"/>
<circle cx="377.2" cy="211.3" r="1.25" fill="#000"/>
<circle cx="378.1" cy="211.1" r="1.25" fill="#000"/>
<circle cx="379.1" cy="213.1" r="1.25" fill="#000"/>
<circle cx="380.0" cy="212.9" r="1.25" fill="#000"/>
<circle cx="380.9" cy="211.6" r="1.25" fill="#000"/>
<circle cx="381.7" cy="214.5" r="1.25" fill="#000"/>
<circle cx="382.6" cy="214.6" r="1.25" fill="#000"/>
<circle cx="383.4" cy="213.5" r="1.25" fill="#000"/>
<circle cx="384.2" cy="213.7" r="1.25" fill="#000"/>
<circle cx="385.1" cy="216.0" r="1.25" fill="#000"/>
<circle cx="385.9" cy="217.1" r="1.25" fill="#000"/>
<circle cx="386.8" cy="215.5" r="1.25" fill="#000"/>
<circle cx="387.7" cy="215.0" r="1.25" fill="#000"/>
<circle cx="388.6" cy="217.5" r="1.25" fill="#000"/>
<circle cx="389.5" cy="214.8" r="1.25" fill="#000"/>
<circle cx="390.4" cy="215.7" r="1.25" fill="#000"/>
<circle cx="391.2" cy="215.0" r="1.25" fill="#000"/>
<circle cx="392.1" cy="212.7" r="1.25" fill="#000"/>
<circle cx="393.0" cy="215.2" r="1.25" fill="#000"/>
<circle cx="393.9" cy="213.3" r="1.25" fill="#000"/>
<circle cx="394.8" cy="211.4" r="1.25" fill="#000"/>
<circle cx="395.7" cy="213.2" r="1.25" fill="#000"/>
<circle cx="396.6" cy="211.5" r="1.25" fill="#000"/>
<circle cx="397.5" cy="211.0" r="1.25" fill="#000"/>
<circle cx="398.4" cy="205.9" r="1.25" fill="#000"/>
<circle cx="399.3" cy="209.7" r="1.25" fill="#000"/>
<circle cx="400.1" cy="208.3" r="1.25" fill="#000"/>
<circle cx="401.0" cy="209.2" r="1.25" fill="#000"/>
<circle cx="401.9" cy="207.8" r="1.25" fill="#000"/>
<circle cx="402.8" cy="207.8" r="1.25" fill="#000"/>
<circle cx="403.7" cy="204.9" r="1.25" fill="#000"/>
<circle cx="404.6" cy="206.8" r="1.25" fill="#000"/>
<circle cx="405.5" cy="205.8" r="1.25" fill="#000"/>
<circle cx="406.4" cy="207.8" r="1.25" fill="#000"/>
<circle cx="407.3" cy="205.2" r="1.25" fill="#000"/>
<circle cx="408.2" cy="203.8" r="1.25" fill="#000"/>
<circle cx="409.1" cy="206.1" r="1.25" fill="#000"/>
<circle cx="410.0" cy="206.3" r="1.25" fill="#000"/>
<circle cx="410.9" cy="206.0" r="1.25" fill="#000"/>
<circle cx="411.8" cy="205.2" r="1.25" fill="#000"/>
<circle cx="412.7" cy="208.7" r="1.25" fill="#000"/>
<circle cx="413.6" cy="205.8" r="1.25" fill="#000"/>
<circle cx="414.5" cy="205.6" r="1.25" fill="#000"/>
<circle cx="415.4" cy="206.8" r="1.25" fill="#000"/>
<circle cx="416.3" cy="208.3" r="1.25" fill="#000"/>
<circle cx="417.2" cy="209.4" r="1.25" fill="#000"/>
<circle cx="418.1" cy="204.7" r="1.25" fill="#000"/>
<circle cx="418.9" cy="204.5" r="1.25" fill="#000"/>
<circle cx="419.8" cy="205.3" r="1.25" fill="#000"/>
<circle cx="420.7" cy="207.8" r="1.25" fill="#000"/>
<circle cx="421.6" cy="203.6" r="1.25" fill="#000"/>
<circle cx="422.5" cy="206.8" r="1.25" fill="#000"/>
<circle cx="423.4" cy="204.1" r="1.25" fill="#000"/>
<circle cx="424.3" cy="206.0" r="1.25" fill="#000"/>
<circle cx="425.2" cy="203.8" r="1.25" fill="#000"/>
<circle cx="426.1" cy="204.7" r="1.25" fill="#000"/>
<circle cx="426.9" cy="203.0" r="1.25" fill="#000"/>
<circle cx="427.8" cy="204.7" r="1.25" fill="#000"/>
<circle cx="428.7" cy="204.5" r="1.25" fill="#000"/>
<circle cx="429.6" cy="205.6" r="1.25" fill="#000"/>
<circle cx="430.5" cy="205.5" r="1.25" fill="#000"/>
<circle cx="431.4" cy="203.5" r="1.25" fill="#000"/>
<circle cx="432.3" cy="201.2" r="1.25" fill="#000"/>
<circle cx="433.2" cy="201.0" r="1.25" fill="#000"/>
<circle cx="434.1" cy="201.4" r="1.25" fill="#000"/>
<circle cx="435.0" cy="196.6" r="1.25" fill="#000"/>
<circle cx="435.9" cy="196.5" r="1.25" fill="#000"/>
<circle cx="436.8" cy="197.0" r="1.25" fill="#000"/>
</g>
<g clip-path="url(#pd)">
<polyline fill="none" stroke="#ff0000" stroke-width="0.6" points="314.0,258.4 314.8,255.5 315.6,256.2 316.4,255.4 317.1,257.1 317.9,256.1 318.7,254.1 319.5,251.7 320.3,252.7 321.1,254.7 321.9,254.8 322.7,252.3 323.6,250.9 324.4,250.3 325.2,250.8 326.0,249.3 326.8,249.9 327.6,249.7 328.4,248.0 329.3,247.7 330.1,248.7 330.9,248.3 331.7,248.7 332.5,246.5 333.3,246.5 334.1,248.9 334.9,246.0 335.7,248.2 336.5,245.6 337.3,246.6 338.1,246.5 338.9,246.1 339.6,245.7 340.4,245.0 341.2,244.7 342.0,243.7 342.8,245.2 343.6,245.7 344.4,244.9 345.2,244.8 346.0,244.7 346.8,242.7 347.6,243.2 348.3,241.1 349.1,242.0 349.9,243.3 350.7,241.7 351.4,241.0 352.2,243.5 353.0,242.2 353.8,240.3 354.6,239.7 355.3,237.7 356.1,237.5 356.9,238.5 357.7,238.6 358.4,238.2 359.2,236.1 360.0,236.2 360.8,234.9 361.6,234.6 362.3,236.2 363.1,234.0 363.9,235.0 364.7,233.6 365.5,234.2 366.2,234.3 367.0,232.9 367.8,234.0 368.6,233.5 369.3,231.0 370.1,232.2 370.9,233.7 371.7,233.5 372.5,232.1 373.2,232.9 374.0,230.8 374.8,232.5 375.6,231.7 376.3,230.2 377.1,230.9 377.9,231.8 378.7,231.6 379.5,230.2 380.3,228.1 381.1,226.5 381.9,229.7 382.8,225.7 383.6,226.5 384.4,225.6 385.2,227.4 386.0,224.0 386.8,224.6 387.7,223.1 388.5,223.1 389.4,221.1 390.3,219.4 391.1,219.3 392.0,215.7 392.8,217.1 393.6,217.3 394.5,216.7 395.3,215.4 396.1,213.5 396.9,213.4 397.7,213.1 398.5,212.6 399.4,213.8 400.2,213.4 401.0,213.6 401.8,212.9 402.6,212.9 403.4,210.1 404.1,211.7 404.9,212.0 405.7,211.2 406.5,211.6 407.3,210.5 408.1,209.6 408.9,210.0 409.7,207.7 410.5,209.1 411.2,208.8 412.0,210.8 412.8,208.6 413.6,209.0 414.4,207.6 415.2,209.4 416.0,207.2 416.8,209.6 417.6,208.5 418.5,208.1 419.3,207.1 420.1,207.7 420.9,206.6 421.7,208.5 422.5,207.8 423.3,206.5 424.1,206.0 424.9,205.6 425.7,208.3 426.5,207.4 427.4,206.9 428.2,208.6 429.0,207.0 429.8,208.5 430.6,209.0 431.4,207.8 432.2,208.2 433.0,207.1 433.8,208.2 434.6,209.5 435.4,205.6 436.2,208.8 437.0,207.6"/>
<polygon points="312.3,258.4 314.0,256.6 315.7,258.4 314.0,260.1" fill="#ff0000"/>
<polygon points="313.0,255.5 314.8,253.8 316.5,255.5 314.8,257.2" fill="#ff0000"/>
<polygon points="313.8,256.2 315.6,254.4 317.3,256.2 315.6,257.9" fill="#ff0000"/>
<polygon points="314.6,255.4 316.4,253.6 318.1,255.4 316.4,257.1" fill="#ff0000"/>
<polygon points="315.4,257.1 317.1,255.4 318.9,257.1 317.1,258.9" fill="#ff0000"/>
<polygon points="316.2,256.1 317.9,254.3 319.7,256.1 317.9,257.8" fill="#ff0000"/>
<polygon points="317.0,254.1 318.7,252.3 320.5,254.1 318.7,255.8" fill="#ff0000"/>
<polygon points="317.8,251.7 319.5,250.0 321.3,251.7 319.5,253.4" fill="#ff0000"/>
<polygon points="318.6,252.7 320.3,250.9 322.0,252.7 320.3,254.4" fill="#ff0000"/>
<polygon points="319.4,254.7 321.1,253.0 322.9,254.7 321.1,256.4" fill="#ff0000"/>
<polygon points="320.2,254.8 321.9,253.1 323.7,254.8 321.9,256.6" fill="#ff0000"/>
<polygon points="321.0,252.3 322.7,250.6 324.5,252.3 322.7,254.1" fill="#ff0000"/>
<polygon points="321.8,250.9 323.6,249.2 325.3,250.9 323.6,252.7" fill="#ff0000"/>
<polygon points="322.6,250.3 324.4,248.5 326.1,250.3 324.4,252.0" fill="#ff0000"/>
<polygon points="323.4,250.8 325.2,249.1 326.9,250.8 325.2,252.6" fill="#ff0000"/>
<polygon points="324.3,249.3 326.0,247.5 327.7,249.3 326.0,251.0" fill="#ff0000"/>
<polygon points="325.1,249.9 326.8,248.1 328.6,249.9 326.8,251.6" fill="#ff0000"/>
<polygon points="325.9,249.7 327.6,248.0 329.4,249.7 327.6,251.4" fill="#ff0000"/>
<polygon points="326.7,248.0 328.4,246.3 330.2,248.0 328.4,249.7" fill="#ff0000"/>
<polygon points="327.5,247.7 329.3,245.9 331.0,247.7 329.3,249.4" fill="#ff0000"/>
<polygon points="328.3,248.7 330.1,246.9 331.8,248.7 330.1,250.4" fill="#ff0000"/>
<polygon points="329.1,248.3 330.9,246.6 332.6,248.3 330.9,250.0" fill="#ff0000"/>
<polygon points="330.0,248.7 331.7,247.0 333.4,248.7 331.7,250.5" fill="#ff0000"/>
<polygon points="330.8,246.5 332.5,244.8 334.2,246.5 332.5,248.2" fill="#ff0000"/>
<polygon points="331.5,246.5 333.3,244.8 335.0,246.5 333.3,248.3" fill="#ff0000"/>
<polygon points="332.3,248.9 334.1,247.2 335.8,248.9 334.1,250.7" fill="#ff0000"/>
<polygon points="333.1,246.0 334.9,244.2 336.6,246.0 334.9,247.7" fill="#ff0000"/>
<polygon points="333.9,248.2 335.7,246.4 337.4,248.2 335.7,249.9" fill="#ff0000"/>
<polygon points="334.7,245.6 336.5,243.9 338.2,245.6 336.5,247.4" fill="#ff0000"/>
<polygon points="335.5,246.6 337.3,244.9 339.0,246.6 337.3,248.4" fill="#ff0000"/>
<polygon points="336.3,246.5 338.1,244.8 339.8,246.5 338.1,248.3" fill="#ff0000"/>
<polygon points="337.1,246.1 338.9,244.4 340.6,246.1 338.9,247.8" fill="#ff0000"/>
<polygon points="337.9,245.7 339.6,244.0 341.4,245.7 339.6,247.5" fill="#ff0000"/>
<polygon points="338.7,245.0 340.4,243.3 342.2,245.0 340.4,246.8" fill="#ff0000"/>
<polygon points="339.5,244.7 341.2,242.9 343.0,244.7 341.2,246.4" fill="#ff0000"/>
<polygon points="340.3,243.7 342.0,242.0 343.8,243.7 342.0,245.5" fill="#ff0000"/>
<polygon points="341.1,245.2 342.8,243.4 344.6,245.2 342.8,246.9" fill="#ff0000"/>
<polygon points="341.9,245.7 343.6,244.0 345.4,245.7 343.6,247.4" fill="#ff0000"/>
<polygon points="342.7,244.9 344.4,243.2 346.2,244.9 344.4,246.7" fill="#ff0000"/>
<polygon points="343.5,244.8 345.2,243.1 346.9,244.8 345.2,246.6" fill="#ff0000"/>
<polygon points="344.3,244.7 346.0,243.0 347.7,244.7 346.0,246.5" fill="#ff0000"/>
<polygon points="345.0,242.7 346.8,241.0 348.5,242.7 346.8,244.4" fill="#ff0000"/>
<polygon points="345.8,243.2 347.6,241.5 349.3,243.2 347.6,245.0" fill="#ff0000"/>
<polygon points="346.6,241.1 348.3,239.4 350.1,241.1 348.3,242.9" fill="#ff0000"/>
<polygon points="347.4,242.0 349.1,240.2 350.9,242.0 349.1,243.7" fill="#ff0000"/>
<polygon points="348.1,243.3 349.9,241.6 351.6,243.3 349.9,245.1" fill="#ff0000"/>
<polygon points="348.9,241.7 350.7,240.0 352.4,241.7 350.7,243.5" fill="#ff0000"/>
<polygon points="349.7,241.0 351.4,239.3 353.2,241.0 351.4,242.8" fill="#ff0000"/>
<polygon points="350.5,243.5 352.2,241.7 354.0,243.5 352.2,245.2" fill="#ff0000"/>
<polygon points="351.3,242.2 353.0,240.5 354.7,242.2 353.0,243.9" fill="#ff0000"/>
<polygon points="352.0,240.3 353.8,238.6 355.5,240.3 353.8,242.1" fill="#ff0000"/>
<polygon points="352.8,239.7 354.6,238.0 356.3,239.7 354.6,241.4" fill="#ff0000"/>
<polygon points="353.6,237.7 355.3,236.0 357.1,237.7 355.3,239.4" fill="#ff0000"/>
<polygon points="354.4,237.5 356.1,235.8 357.9,237.5 356.1,239.2" fill="#ff0000"/>
<polygon points="355.1,238.5 356.9,236.8 358.6,238.5 356.9,240.3" fill="#ff0000"/>
<polygon points="355.9,238.6 357.7,236.9 359.4,238.6 357.7,240.3" fill="#ff0000"/>
<polygon points="356.7,238.2 358.4,236.5 360.2,238.2 358.4,240.0" fill="#ff0000"/>
<polygon points="357.5,236.1 359.2,234.4 361.0,236.1 359.2,237.8" fill="#ff0000"/>
<polygon points="358.3,236.2 360.0,234.4 361.7,236.2 360.0,237.9" fill="#ff0000"/>
<polygon points="359.0,234.9 360.8,233.2 362.5,234.9 360.8,236.7" fill="#ff0000"/>
<polygon points="359.8,234.6 361.6,232.8 363.3,234.6 361.6,236.3" fill="#ff0000"/>
<polygon points="360.6,236.2 362.3,234.5 364.1,236.2 362.3,238.0" fill="#ff0000"/>
<polygon points="361.4,234.0 363.1,232.3 364.9,234.0 363.1,235.8" fill="#ff0000"/>
<polygon points="362.2,235.0 363.9,233.2 365.6,235.0 363.9,236.7" fill="#ff0000"/>
<polygon points="362.9,233.6 364.7,231.8 366.4,233.6 364.7,235.3" fill="#ff0000"/>
<polygon points="363.7,234.2 365.5,232.5 367.2,234.2 365.5,236.0" fill="#ff0000"/>
<polygon points="364.5,234.3 366.2,232.5 368.0,234.3 366.2,236.0" fill="#ff0000"/>
<polygon points="365.3,232.9 367.0,231.1 368.8,232.9 367.0,234.6" fill="#ff0000"/>
<polygon points="366.0,234.0 367.8,232.2 369.5,234.0 367.8,235.7" fill="#ff0000"/>
<polygon points="366.8,233.5 368.6,231.7 370.3,233.5 368.6,235.2" fill="#ff0000"/>
<polygon points="367.6,231.0 369.3,229.3 371.1,231.0 369.3,232.8" fill="#ff0000"/>
<polygon points="368.4,232.2 370.1,230.4 371.9,232.2 370.1,233.9" fill="#ff0000"/>
<polygon points="369.2,233.7 370.9,231.9 372.6,233.7 370.9,235.4" fill="#ff0000"/>
<polygon points="369.9,233.5 371.7,231.8 373.4,233.5 371.7,235.3" fill="#ff0000"/>
<polygon points="370.7,232.1 372.5,230.4 374.2,232.1 372.5,233.8" fill="#ff0000"/>
<polygon points="371.5,232.9 373.2,231.2 375.0,232.9 373.2,234.7" fill="#ff0000"/>
<polygon points="372.3,230.8 374.0,229.0 375.8,230.8 374.0,232.5" fill="#ff0000"/>
<polygon points="373.0,232.5 374.8,230.8 376.5,232.5 374.8,234.2" fill="#ff0000"/>
<polygon points="373.8,231.7 375.6,229.9 377.3,231.7 375.6,233.4" fill="#ff0000"/>
<polygon points="374.6,230.2 376.3,228.4 378.1,230.2 376.3,231.9" fill="#ff0000"/>
<polygon points="375.4,230.9 377.1,229.2 378.9,230.9 377.1,232.7" fill="#ff0000"/>
<polygon points="376.2,231.8 377.9,230.0 379.6,231.8 377.9,233.5" fill="#ff0000"/>
<polygon points="377.0,231.6 378.7,229.9 380.4,231.6 378.7,233.4" fill="#ff0000"/>
<polygon points="377.8,230.2 379.5,228.4 381.3,230.2 379.5,231.9" fill="#ff0000"/>
<polygon points="378.6,228.1 380.3,226.3 382.1,228.1 380.3,229.8" fill="#ff0000"/>
<polygon points="379.4,226.5 381.1,224.7 382.9,226.5 381.1,228.2" fill="#ff0000"/>
<polygon points="380.2,229.7 381.9,227.9 383.7,229.7 381.9,231.4" fill="#ff0000"/>
<polygon points="381.0,225.7 382.8,223.9 384.5,225.7 382.8,227.4" fill="#ff0000"/>
<polygon points="381.8,226.5 383.6,224.7 385.3,226.5 383.6,228.2" fill="#ff0000"/>
<polygon points="382.6,225.6 384.4,223.9 386.1,225.6 384.4,227.4" fill="#ff0000"/>
<polygon points="383.4,227.4 385.2,225.7 386.9,227.4 385.2,229.1" fill="#ff0000"/>
<polygon points="384.3,224.0 386.0,222.2 387.7,224.0 386.0,225.7" fill="#ff0000"/>
<polygon points="385.1,224.6 386.8,222.9 388.5,224.6 386.8,226.4" fill="#ff0000"/>
<polygon points="385.9,223.1 387.7,221.3 389.4,223.1 387.7,224.8" fill="#ff0000"/>
<polygon points="386.8,223.1 388.5,221.3 390.3,223.1 388.5,224.8" fill="#ff0000"/>
<polygon points="387.7,221.1 389.4,219.4 391.1,221.1 389.4,222.8" fill="#ff0000"/>
<polygon points="388.5,219.4 390.3,217.7 392.0,219.4 390.3,221.2" fill="#ff0000"/>
<polygon points="389.4,219.3 391.1,217.6 392.9,219.3 391.1,221.1" fill="#ff0000"/>
<polygon points="390.3,215.7 392.0,214.0 393.7,215.7 392.0,217.4" fill="#ff0000"/>
<polygon points="391.1,217.1 392.8,215.3 394.6,217.1 392.8,218.8" fill="#ff0000"/>
<polygon points="391.9,217.3 393.6,215.5 395.4,217.3 393.6,219.0" fill="#ff0000"/>
<polygon points="392.7,216.7 394.5,215.0 396.2,216.7 394.5,218.4" fill="#ff0000"/>
<polygon points="393.5,215.4 395.3,213.7 397.0,215.4 395.3,217.2" fill="#ff0000"/>
<polygon points="394.4,213.5 396.1,211.7 397.8,213.5 396.1,215.2" fill="#ff0000"/>
<polygon points="395.2,213.4 396.9,211.7 398.6,213.4 396.9,215.1" fill="#ff0000"/>
<polygon points="396.0,213.1 397.7,211.4 399.5,213.1 397.7,214.9" fill="#ff0000"/>
<polygon points="396.8,212.6 398.5,210.8 400.3,212.6 398.5,214.3" fill="#ff0000"/>
<polygon points="397.6,213.8 399.4,212.0 401.1,213.8 399.4,215.5" fill="#ff0000"/>
<polygon points="398.4,213.4 400.2,211.6 401.9,213.4 400.2,215.1" fill="#ff0000"/>
<polygon points="399.3,213.6 401.0,211.8 402.7,213.6 401.0,215.3" fill="#ff0000"/>
<polygon points="400.0,212.9 401.8,211.1 403.5,212.9 401.8,214.6" fill="#ff0000"/>
<polygon points="400.8,212.9 402.6,211.1 404.3,212.9 402.6,214.6" fill="#ff0000"/>
<polygon points="401.6,210.1 403.4,208.3 405.1,210.1 403.4,211.8" fill="#ff0000"/>
<polygon points="402.4,211.7 404.1,209.9 405.9,211.7 404.1,213.4" fill="#ff0000"/>
<polygon points="403.2,212.0 404.9,210.2 406.7,212.0 404.9,213.7" fill="#ff0000"/>
<polygon points="404.0,211.2 405.7,209.5 407.5,211.2 405.7,213.0" fill="#ff0000"/>
<polygon points="404.8,211.6 406.5,209.8 408.3,211.6 406.5,213.3" fill="#ff0000"/>
<polygon points="405.6,210.5 407.3,208.8 409.0,210.5 407.3,212.2" fill="#ff0000"/>
<polygon points="406.3,209.6 408.1,207.9 409.8,209.6 408.1,211.4" fill="#ff0000"/>
<polygon points="407.1,210.0 408.9,208.3 410.6,210.0 408.9,211.8" fill="#ff0000"/>
<polygon points="407.9,207.7 409.7,206.0 411.4,207.7 409.7,209.4" fill="#ff0000"/>
<polygon points="408.7,209.1 410.5,207.4 412.2,209.1 410.5,210.9" fill="#ff0000"/>
<polygon points="409.5,208.8 411.2,207.1 413.0,208.8 411.2,210.6" fill="#ff0000"/>
<polygon points="410.3,210.8 412.0,209.0 413.8,210.8 412.0,212.5" fill="#ff0000"/>
<polygon points="411.1,208.6 412.8,206.9 414.6,208.6 412.8,210.3" fill="#ff0000"/>
<polygon points="411.9,209.0 413.6,207.2 415.3,209.0 413.6,210.7" fill="#ff0000"/>
<polygon points="412.7,207.6 414.4,205.9 416.1,207.6 414.4,209.4" fill="#ff0000"/>
<polygon points="413.5,209.4 415.2,207.7 417.0,209.4 415.2,211.2" fill="#ff0000"/>
<polygon points="414.3,207.2 416.0,205.5 417.8,207.2 416.0,208.9" fill="#ff0000"/>
<polygon points="415.1,209.6 416.8,207.9 418.6,209.6 416.8,211.3" fill="#ff0000"/>
<polygon points="415.9,208.5 417.6,206.7 419.4,208.5 417.6,210.2" fill="#ff0000"/>
<polygon points="416.7,208.1 418.5,206.4 420.2,208.1 418.5,209.8" fill="#ff0000"/>
<polygon points="417.5,207.1 419.3,205.3 421.0,207.1 419.3,208.8" fill="#ff0000"/>
<polygon points="418.3,207.7 420.1,206.0 421.8,207.7 420.1,209.5" fill="#ff0000"/>
<polygon points="419.1,206.6 420.9,204.9 422.6,206.6 420.9,208.4" fill="#ff0000"/>
<polygon points="420.0,208.5 421.7,206.7 423.4,208.5 421.7,210.2" fill="#ff0000"/>
<polygon points="420.8,207.8 422.5,206.1 424.2,207.8 422.5,209.5" fill="#ff0000"/>
<polygon points="421.6,206.5 423.3,204.8 425.0,206.5 423.3,208.3" fill="#ff0000"/>
<polygon points="422.4,206.0 424.1,204.3 425.9,206.0 424.1,207.8" fill="#ff0000"/>
<polygon points="423.2,205.6 424.9,203.9 426.7,205.6 424.9,207.3" fill="#ff0000"/>
<polygon points="424.0,208.3 425.7,206.6 427.5,208.3 425.7,210.1" fill="#ff0000"/>
<polygon points="424.8,207.4 426.5,205.6 428.3,207.4 426.5,209.1" fill="#ff0000"/>
<polygon points="425.6,206.9 427.4,205.2 429.1,206.9 427.4,208.6" fill="#ff0000"/>
<polygon points="426.4,208.6 428.2,206.9 429.9,208.6 428.2,210.3" fill="#ff0000"/>
<polygon points="427.2,207.0 429.0,205.3 430.7,207.0 429.0,208.7" fill="#ff0000"/>
<polygon points="428.0,208.5 429.8,206.8 431.5,208.5 429.8,210.3" fill="#ff0000"/>
<polygon points="428.9,209.0 430.6,207.3 432.3,209.0 430.6,210.8" fill="#ff0000"/>
<polygon points="429.7,207.8 431.4,206.0 433.1,207.8 431.4,209.5" fill="#ff0000"/>
<polygon points="430.5,208.2 432.2,206.5 433.9,208.2 432.2,210.0" fill="#ff0000"/>
<polygon points="431.3,207.1 433.0,205.4 434.7,207.1 433.0,208.9" fill="#ff0000"/>
<polygon points="432.1,208.2 433.8,206.4 435.5,208.2 433.8,209.9" fill="#ff0000"/>
<polygon points="432.9,209.5 434.6,207.7 436.3,209.5 434.6,211.2" fill="#ff0000"/>
<polygon points="433.7,205.6 435.4,203.9 437.1,205.6 435.4,207.4" fill="#ff0000"/>
<polygon points="434.5,208.8 436.2,207.1 437.9,208.8 436.2,210.5" fill="#ff0000"/>
<polygon points="435.3,207.6 437.0,205.9 438.7,207.6 437.0,209.3" fill="#ff0000"/>
</g>
<g clip-path="url(#pd)">
<polyline fill="none" stroke="#008080" stroke-width="0.6" points="296.3,257.3 296.1,256.1 298.1,256.6 298.6,255.5 299.5,254.6 300.2,252.8 301.9,254.3 302.2,252.1 304.2,251.7 304.2,252.1 305.4,251.1 305.1,251.4 306.0,250.5 307.3,248.8 308.8,249.2 309.0,248.7 310.4,249.1 311.4,247.9 312.4,247.6 313.3,246.7 313.5,244.7 314.9,246.4 315.3,244.7 316.0,244.5 317.5,243.2 318.5,242.5 319.4,242.6 320.6,241.7 320.6,240.5 322.1,240.8 322.4,240.5 324.0,239.5 324.2,238.6 326.1,237.3 326.4,238.3 326.7,236.6 328.1,236.1 329.0,235.7 330.3,234.5 330.2,234.6 331.2,233.9 332.6,233.1 333.9,231.3 334.8,230.9 335.1,230.0 336.0,229.9 337.4,228.8 338.6,226.8 339.8,225.0 340.4,222.9 341.8,219.5 341.7,218.9 342.4,217.3 343.7,214.0 343.9,208.8 345.2,205.8 346.2,202.6 347.1,199.0 348.0,195.8 349.0,192.2 350.1,188.4 351.6,177.2 351.8,168.9 353.8,160.6 354.3,152.5 354.7,141.0 355.0,136.0"/>
<polygon points="294.3,255.7 298.3,255.7 296.3,259.3" fill="#008080"/>
<polygon points="294.2,254.5 298.1,254.5 296.1,258.1" fill="#008080"/>
<polygon points="296.2,255.1 300.1,255.1 298.1,258.6" fill="#008080"/>
<polygon points="296.7,254.0 300.6,254.0 298.6,257.6" fill="#008080"/>
<polygon points="297.6,253.1 301.5,253.1 299.5,256.7" fill="#008080"/>
<polygon points="298.3,251.3 302.2,251.3 300.2,254.9" fill="#008080"/>
<polygon points="299.9,252.7 303.8,252.7 301.9,256.3" fill="#008080"/>
<polygon points="300.2,250.6 304.1,250.6 302.2,254.1" fill="#008080"/>
<polygon points="302.3,250.2 306.2,250.2 304.2,253.8" fill="#008080"/>
<polygon points="302.3,250.6 306.2,250.6 304.2,254.1" fill="#008080"/>
<polygon points="303.4,249.6 307.4,249.6 305.4,253.2" fill="#008080"/>
<polygon points="303.2,249.9 307.1,249.9 305.1,253.4" fill="#008080"/>
<polygon points="304.0,249.0 307.9,249.0 306.0,252.5" fill="#008080"/>
<polygon points="305.3,247.3 309.2,247.3 307.3,250.9" fill="#008080"/>
<polygon points="306.8,247.7 310.7,247.7 308.8,251.2" fill="#008080"/>
<polygon points="307.0,247.1 310.9,247.1 309.0,250.7" fill="#008080"/>
<polygon points="308.5,247.6 312.4,247.6 310.4,251.1" fill="#008080"/>
<polygon points="309.5,246.3 313.4,246.3 311.4,249.9" fill="#008080"/>
<polygon points="310.5,246.1 314.4,246.1 312.4,249.7" fill="#008080"/>
<polygon points="311.4,245.1 315.3,245.1 313.3,248.7" fill="#008080"/>
<polygon points="311.5,243.2 315.4,243.2 313.5,246.7" fill="#008080"/>
<polygon points="312.9,244.9 316.8,244.9 314.9,248.5" fill="#008080"/>
<polygon points="313.4,243.2 317.3,243.2 315.3,246.7" fill="#008080"/>
<polygon points="314.1,243.0 318.0,243.0 316.0,246.5" fill="#008080"/>
<polygon points="315.6,241.7 319.5,241.7 317.5,245.2" fill="#008080"/>
<polygon points="316.5,241.0 320.4,241.0 318.5,244.6" fill="#008080"/>
<polygon points="317.4,241.1 321.3,241.1 319.4,244.7" fill="#008080"/>
<polygon points="318.7,240.2 322.6,240.2 320.6,243.8" fill="#008080"/>
<polygon points="318.7,239.0 322.6,239.0 320.6,242.5" fill="#008080"/>
<polygon points="320.1,239.3 324.0,239.3 322.1,242.9" fill="#008080"/>
<polygon points="320.5,239.0 324.4,239.0 322.4,242.6" fill="#008080"/>
<polygon points="322.1,238.0 326.0,238.0 324.0,241.6" fill="#008080"/>
<polygon points="322.2,237.1 326.1,237.1 324.2,240.7" fill="#008080"/>
<polygon points="324.2,235.7 328.1,235.7 326.1,239.3" fill="#008080"/>
<polygon points="324.5,236.7 328.4,236.7 326.4,240.3" fill="#008080"/>
<polygon points="324.7,235.1 328.6,235.1 326.7,238.7" fill="#008080"/>
<polygon points="326.1,234.6 330.0,234.6 328.1,238.1" fill="#008080"/>
<polygon points="327.1,234.2 331.0,234.2 329.0,237.7" fill="#008080"/>
<polygon points="328.3,233.0 332.2,233.0 330.3,236.6" fill="#008080"/>
<polygon points="328.3,233.1 332.2,233.1 330.2,236.6" fill="#008080"/>
<polygon points="329.3,232.3 333.2,232.3 331.2,235.9" fill="#008080"/>
<polygon points="330.7,231.6 334.6,231.6 332.6,235.2" fill="#008080"/>
<polygon points="332.0,229.8 335.9,229.8 333.9,233.4" fill="#008080"/>
<polygon points="332.8,229.4 336.7,229.4 334.8,233.0" fill="#008080"/>
<polygon points="333.2,228.5 337.1,228.5 335.1,232.1" fill="#008080"/>
<polygon points="334.0,228.4 337.9,228.4 336.0,232.0" fill="#008080"/>
<polygon points="335.5,227.3 339.4,227.3 337.4,230.9" fill="#008080"/>
<polygon points="336.7,225.3 340.6,225.3 338.6,228.9" fill="#008080"/>
<polygon points="337.8,223.5 341.7,223.5 339.8,227.0" fill="#008080"/>
<polygon points="338.5,221.4 342.4,221.4 340.4,225.0" fill="#008080"/>
<polygon points="339.8,218.0 343.7,218.0 341.8,221.6" fill="#008080"/>
<polygon points="339.8,217.3 343.7,217.3 341.7,220.9" fill="#008080"/>
<polygon points="340.5,215.8 344.4,215.8 342.4,219.4" fill="#008080"/>
<polygon points="341.8,212.4 345.7,212.4 343.7,216.0" fill="#008080"/>
<polygon points="341.9,207.3 345.8,207.3 343.9,210.9" fill="#008080"/>
<polygon points="343.2,204.3 347.1,204.3 345.2,207.8" fill="#008080"/>
<polygon points="344.2,201.1 348.1,201.1 346.2,204.6" fill="#008080"/>
<polygon points="345.2,197.5 349.1,197.5 347.1,201.0" fill="#008080"/>
<polygon points="346.0,194.2 350.0,194.2 348.0,197.8" fill="#008080"/>
<polygon points="347.0,190.7 350.9,190.7 349.0,194.3" fill="#008080"/>
<polygon points="348.2,186.9 352.1,186.9 350.1,190.5" fill="#008080"/>
<polygon points="349.7,175.6 353.6,175.6 351.6,179.2" fill="#008080"/>
<polygon points="349.9,167.4 353.8,167.4 351.8,171.0" fill="#008080"/>
<polygon points="351.8,159.0 355.8,159.0 353.8,162.6" fill="#008080"/>
<polygon points="352.3,151.0 356.3,151.0 354.3,154.5" fill="#008080"/>
<polygon points="352.8,139.4 356.7,139.4 354.7,143.0" fill="#008080"/>
<polygon points="353.0,134.5 357.0,134.5 355.0,138.0" fill="#008080"/>
</g>
<path d="M258.6,253V142.4H437.3V253" fill="none" stroke="#000" stroke-width="1.3"/>
<line x1="258.6" y1="254.6" x2="261.8" y2="254.6" stroke="#000" stroke-width="1"/>
<text x="254.9" y="257.6" font-size="8.4" font-weight="bold" text-anchor="end">3</text>
<line x1="258.6" y1="244.9" x2="260.6" y2="244.9" stroke="#000" stroke-width="1"/>
<line x1="258.6" y1="235.3" x2="261.8" y2="235.3" stroke="#000" stroke-width="1"/>
<text x="254.9" y="238.3" font-size="8.4" font-weight="bold" text-anchor="end">6</text>
<line x1="258.6" y1="225.7" x2="260.6" y2="225.7" stroke="#000" stroke-width="1"/>
<line x1="258.6" y1="216.1" x2="261.8" y2="216.1" stroke="#000" stroke-width="1"/>
<text x="254.9" y="219.1" font-size="8.4" font-weight="bold" text-anchor="end">9</text>
<line x1="258.6" y1="206.5" x2="260.6" y2="206.5" stroke="#000" stroke-width="1"/>
<line x1="258.6" y1="196.9" x2="261.8" y2="196.9" stroke="#000" stroke-width="1"/>
<text x="254.9" y="199.9" font-size="8.4" font-weight="bold" text-anchor="end">12</text>
<line x1="258.6" y1="187.2" x2="260.6" y2="187.2" stroke="#000" stroke-width="1"/>
<line x1="258.6" y1="177.6" x2="261.8" y2="177.6" stroke="#000" stroke-width="1"/>
<text x="254.9" y="180.6" font-size="8.4" font-weight="bold" text-anchor="end">15</text>
<line x1="258.6" y1="168.0" x2="260.6" y2="168.0" stroke="#000" stroke-width="1"/>
<line x1="258.6" y1="158.4" x2="261.8" y2="158.4" stroke="#000" stroke-width="1"/>
<text x="254.9" y="161.4" font-size="8.4" font-weight="bold" text-anchor="end">18</text>
<line x1="258.6" y1="148.8" x2="260.6" y2="148.8" stroke="#000" stroke-width="1"/>
<text x="236.7" y="146.8" font-size="6" font-weight="bold" textLength="20.7" lengthAdjust="spacingAndGlyphs">(x100)</text>
<text transform="translate(229.2,251.8) rotate(-90)" font-size="8.8" font-weight="bold" textLength="105.8" lengthAdjust="spacingAndGlyphs">-seitz interstitial/vacancy</text>
<text transform="translate(239.6,225.4) rotate(-90)" font-size="8.8" font-weight="bold" textLength="24" lengthAdjust="spacingAndGlyphs">count</text>
<rect x="267" y="147" width="38.4" height="43.5" fill="#8e8e8e"/>
<rect x="265.6" y="145.4" width="37.6" height="43.7" fill="#fff" stroke="#555" stroke-width="0.7"/>
<line x1="267.8" y1="151.6" x2="280.8" y2="151.6" stroke="#808080" stroke-width="1"/>
<ellipse cx="273.9" cy="151.6" rx="1.8" ry="1.3" fill="#000"/>
<text x="284.5" y="154.0" font-size="8.4" fill="#111" stroke="#111" stroke-width="0.15">[001]</text>
<line x1="267.8" y1="162.9" x2="280.8" y2="162.9" stroke="#ff5050" stroke-width="1"/>
<polygon points="271.7,162.9 273.9,160.7 276.1,162.9 273.9,165.1" fill="#ff0000"/>
<text x="284.5" y="165.3" font-size="8.4" fill="#111" stroke="#111" stroke-width="0.15">[110]</text>
<line x1="267.8" y1="174.2" x2="280.8" y2="174.2" stroke="#5a5aff" stroke-width="1"/>
<polygon points="271.8,175.8 276.0,175.8 273.9,172.0" fill="#0000ff"/>
<text x="284.5" y="176.6" font-size="8.4" fill="#111" stroke="#111" stroke-width="0.15">[111]</text>
<line x1="267.8" y1="185.5" x2="280.8" y2="185.5" stroke="#50b0b0" stroke-width="1"/>
<polygon points="271.8,183.9 276.0,183.9 273.9,187.7" fill="#008080"/>
<text x="284.5" y="187.9" font-size="8.4" fill="#111" stroke="#111" stroke-width="0.15">[120]</text>
</svg></body></html>
